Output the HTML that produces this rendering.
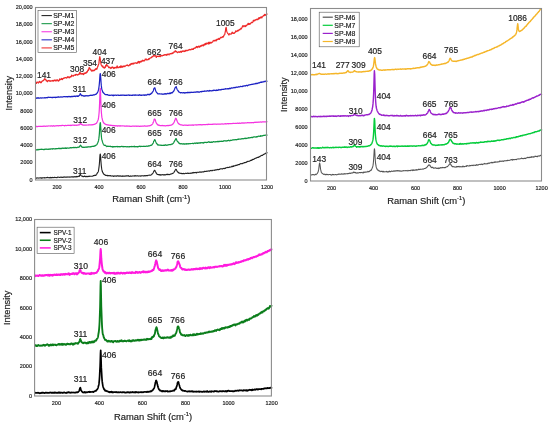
<!DOCTYPE html>
<html lang="en"><head><meta charset="utf-8"><title>Raman spectra</title>
<style>html,body{margin:0;padding:0;background:#fff;}body{width:550px;height:423px;overflow:hidden;}svg{display:block;filter:blur(0.32px);}text{font-family:"Liberation Sans", Arial, sans-serif;fill:#222;stroke:#222;stroke-width:0.18px;}</style>
</head><body>
<svg width="550" height="423" viewBox="0 0 550 423">
<rect width="550" height="423" fill="#ffffff"/>
<g id="plot1">
<clipPath id="clip0"><rect x="36.0" y="7.5" width="232.2" height="172.5"/></clipPath>
<g clip-path="url(#clip0)" fill="none" stroke-linejoin="round" stroke-linecap="round">
<path d="M36.0,178.1 L36.2,178.2 L36.4,178.3 L36.6,178.3 L36.8,177.9 L37.0,177.8 L37.3,178.0 L37.5,178.0 L37.7,178.0 L37.9,178.0 L38.1,178.0 L38.3,178.0 L38.5,178.1 L38.7,178.1 L38.9,178.0 L39.1,177.9 L39.4,178.0 L39.6,178.0 L39.8,178.0 L40.0,178.0 L40.2,177.9 L40.4,177.9 L40.6,177.9 L40.8,177.9 L41.0,178.0 L41.2,177.8 L41.5,177.7 L41.7,178.1 L41.9,178.3 L42.1,178.1 L42.3,177.9 L42.5,177.7 L42.7,177.7 L42.9,177.7 L43.1,177.8 L43.4,177.8 L43.6,177.8 L43.8,177.8 L44.0,177.9 L44.2,177.9 L44.4,177.7 L44.6,177.6 L44.8,177.8 L45.0,178.0 L45.2,177.9 L45.5,177.7 L45.7,177.7 L45.9,177.7 L46.1,177.8 L46.3,177.7 L46.5,177.6 L46.7,177.8 L46.9,177.7 L47.1,177.6 L47.3,177.6 L47.5,177.4 L47.8,177.3 L48.0,177.5 L48.2,177.7 L48.4,177.8 L48.6,177.7 L48.8,177.7 L49.0,177.7 L49.2,177.6 L49.4,177.6 L49.6,177.8 L49.9,178.0 L50.1,177.9 L50.3,177.6 L50.5,177.4 L50.7,177.4 L50.9,177.5 L51.1,177.7 L51.3,177.6 L51.5,177.6 L51.8,177.8 L52.0,177.6 L52.2,177.4 L52.4,177.4 L52.6,177.5 L52.8,177.6 L53.0,177.6 L53.2,177.5 L53.4,177.5 L53.6,177.6 L53.8,177.6 L54.1,177.6 L54.3,177.4 L54.5,177.4 L54.7,177.4 L54.9,177.4 L55.1,177.4 L55.3,177.5 L55.5,177.6 L55.7,177.5 L56.0,177.5 L56.2,177.5 L56.4,177.6 L56.6,177.6 L56.8,177.6 L57.0,177.7 L57.2,177.5 L57.4,177.3 L57.6,177.2 L57.8,177.1 L58.0,177.0 L58.3,177.2 L58.5,177.3 L58.7,177.2 L58.9,177.3 L59.1,177.3 L59.3,177.4 L59.5,177.5 L59.7,177.5 L59.9,177.3 L60.1,177.3 L60.4,177.3 L60.6,177.1 L60.8,177.1 L61.0,177.3 L61.2,177.4 L61.4,177.3 L61.6,177.2 L61.8,177.1 L62.0,177.1 L62.2,177.3 L62.5,177.4 L62.7,177.4 L62.9,177.4 L63.1,177.4 L63.3,177.2 L63.5,177.0 L63.7,177.0 L63.9,177.2 L64.1,177.2 L64.3,177.1 L64.6,176.9 L64.8,177.0 L65.0,177.1 L65.2,177.3 L65.4,177.3 L65.6,177.2 L65.8,177.1 L66.0,177.2 L66.2,177.2 L66.4,177.2 L66.7,177.1 L66.9,176.9 L67.1,176.9 L67.3,177.0 L67.5,177.1 L67.7,177.1 L67.9,177.2 L68.1,177.2 L68.3,177.1 L68.5,177.0 L68.8,177.0 L69.0,176.9 L69.2,176.9 L69.4,177.1 L69.6,177.2 L69.8,177.2 L70.0,177.2 L70.2,177.2 L70.4,177.0 L70.7,177.0 L70.9,176.9 L71.1,176.8 L71.3,176.8 L71.5,176.9 L71.7,177.0 L71.9,176.9 L72.1,176.9 L72.3,176.9 L72.5,176.8 L72.8,176.9 L73.0,177.1 L73.2,177.1 L73.4,176.9 L73.6,176.7 L73.8,176.7 L74.0,177.0 L74.2,177.0 L74.4,176.9 L74.6,176.7 L74.8,176.6 L75.1,176.6 L75.3,176.7 L75.5,176.8 L75.7,177.0 L75.9,176.8 L76.1,176.6 L76.3,176.7 L76.5,176.8 L76.7,176.5 L77.0,176.4 L77.2,176.6 L77.4,176.7 L77.6,176.6 L77.8,176.7 L78.0,176.6 L78.2,176.5 L78.4,176.4 L78.6,176.3 L78.8,176.1 L79.1,176.1 L79.3,176.3 L79.5,176.1 L79.7,175.5 L79.9,174.9 L80.1,174.5 L80.3,174.4 L80.5,174.6 L80.7,174.9 L80.9,175.3 L81.2,175.7 L81.4,175.9 L81.6,175.9 L81.8,176.0 L82.0,176.2 L82.2,176.1 L82.4,176.2 L82.6,176.5 L82.8,176.6 L83.0,176.4 L83.2,176.4 L83.5,176.6 L83.7,176.6 L83.9,176.5 L84.1,176.5 L84.3,176.4 L84.5,176.0 L84.7,176.0 L84.9,176.2 L85.1,176.4 L85.3,176.5 L85.6,176.7 L85.8,176.6 L86.0,176.6 L86.2,176.7 L86.4,176.7 L86.6,176.4 L86.8,176.3 L87.0,176.3 L87.2,176.3 L87.4,176.5 L87.7,176.7 L87.9,176.7 L88.1,176.4 L88.3,176.3 L88.5,176.2 L88.7,176.3 L88.9,176.4 L89.1,176.5 L89.3,176.5 L89.5,176.3 L89.8,176.0 L90.0,176.0 L90.2,176.3 L90.4,176.3 L90.6,176.3 L90.8,176.3 L91.0,176.2 L91.2,176.3 L91.4,176.3 L91.7,176.2 L91.9,176.2 L92.1,176.3 L92.3,176.3 L92.5,176.2 L92.7,176.1 L92.9,176.0 L93.1,175.8 L93.3,175.6 L93.5,175.6 L93.8,175.6 L94.0,175.6 L94.2,175.6 L94.4,175.4 L94.6,175.4 L94.8,175.5 L95.0,175.3 L95.2,175.2 L95.4,175.5 L95.6,175.3 L95.8,175.1 L96.1,175.1 L96.3,174.9 L96.5,174.6 L96.7,174.2 L96.9,173.7 L97.1,173.4 L97.3,173.2 L97.5,172.9 L97.7,172.5 L98.0,172.1 L98.2,171.7 L98.4,171.1 L98.6,170.0 L98.8,168.6 L99.0,167.1 L99.2,165.5 L99.4,163.5 L99.6,160.9 L99.8,157.6 L100.0,154.9 L100.3,154.0 L100.5,155.2 L100.7,157.9 L100.9,160.7 L101.1,163.4 L101.3,165.6 L101.5,167.3 L101.7,168.7 L101.9,169.9 L102.2,171.0 L102.4,171.8 L102.6,172.3 L102.8,172.4 L103.0,172.7 L103.2,173.4 L103.4,173.7 L103.6,173.9 L103.8,174.2 L104.0,174.4 L104.2,174.5 L104.5,174.6 L104.7,174.8 L104.9,174.9 L105.1,174.9 L105.3,175.2 L105.5,175.4 L105.7,175.4 L105.9,175.2 L106.1,175.3 L106.4,175.5 L106.6,175.6 L106.8,175.5 L107.0,175.5 L107.2,175.4 L107.4,175.4 L107.6,175.6 L107.8,175.9 L108.0,175.9 L108.2,175.7 L108.5,175.6 L108.7,175.6 L108.9,175.6 L109.1,175.5 L109.3,175.6 L109.5,175.8 L109.7,175.8 L109.9,175.8 L110.1,175.9 L110.3,175.7 L110.6,175.6 L110.8,175.7 L111.0,175.9 L111.2,176.0 L111.4,176.1 L111.6,176.0 L111.8,176.0 L112.0,176.0 L112.2,176.0 L112.4,175.9 L112.7,175.9 L112.9,176.0 L113.1,176.1 L113.3,176.3 L113.5,176.4 L113.7,176.1 L113.9,176.0 L114.1,176.1 L114.3,176.2 L114.5,176.1 L114.8,175.9 L115.0,175.9 L115.2,175.9 L115.4,176.0 L115.6,176.1 L115.8,176.1 L116.0,176.0 L116.2,176.0 L116.4,176.2 L116.6,176.2 L116.8,175.9 L117.1,175.7 L117.3,175.9 L117.5,176.0 L117.7,176.0 L117.9,175.9 L118.1,175.8 L118.3,175.8 L118.5,175.9 L118.7,176.2 L118.9,176.2 L119.2,176.3 L119.4,176.2 L119.6,175.9 L119.8,175.9 L120.0,176.0 L120.2,175.9 L120.4,175.9 L120.6,176.1 L120.8,176.0 L121.0,176.1 L121.3,176.2 L121.5,176.3 L121.7,176.1 L121.9,176.1 L122.1,176.3 L122.3,176.1 L122.5,175.9 L122.7,176.0 L122.9,176.1 L123.1,176.1 L123.4,176.2 L123.6,176.0 L123.8,176.0 L124.0,176.1 L124.2,176.1 L124.4,176.0 L124.6,176.1 L124.8,176.2 L125.0,176.3 L125.2,176.2 L125.5,176.0 L125.7,176.0 L125.9,175.9 L126.1,175.7 L126.3,175.9 L126.5,176.0 L126.7,176.1 L126.9,176.0 L127.1,175.9 L127.3,175.9 L127.6,175.8 L127.8,175.8 L128.0,176.0 L128.2,176.0 L128.4,175.9 L128.6,175.7 L128.8,175.9 L129.0,176.3 L129.2,176.4 L129.4,176.3 L129.7,176.2 L129.9,176.2 L130.1,176.3 L130.3,176.2 L130.5,176.0 L130.7,175.9 L130.9,176.1 L131.1,176.2 L131.3,176.2 L131.6,176.3 L131.8,176.3 L132.0,176.1 L132.2,176.0 L132.4,176.0 L132.6,176.0 L132.8,175.9 L133.0,175.9 L133.2,176.0 L133.4,176.0 L133.7,176.0 L133.9,175.9 L134.1,175.9 L134.3,176.1 L134.5,176.0 L134.7,175.8 L134.9,175.7 L135.1,175.6 L135.3,175.8 L135.5,175.9 L135.8,175.9 L136.0,175.9 L136.2,175.9 L136.4,176.0 L136.6,176.0 L136.8,175.9 L137.0,175.9 L137.2,175.8 L137.4,175.7 L137.6,175.7 L137.9,175.9 L138.1,176.0 L138.3,176.1 L138.5,176.1 L138.7,176.0 L138.9,175.9 L139.1,176.0 L139.3,176.0 L139.5,175.9 L139.7,176.0 L139.9,176.0 L140.2,175.9 L140.4,176.0 L140.6,176.2 L140.8,176.1 L141.0,175.9 L141.2,175.9 L141.4,176.0 L141.6,175.9 L141.8,175.7 L142.1,175.8 L142.3,175.7 L142.5,175.7 L142.7,175.8 L142.9,175.8 L143.1,175.9 L143.3,176.0 L143.5,175.9 L143.7,175.8 L143.9,175.8 L144.2,175.9 L144.4,175.8 L144.6,175.5 L144.8,175.5 L145.0,175.7 L145.2,175.9 L145.4,175.9 L145.6,175.7 L145.8,175.7 L146.0,175.7 L146.2,175.5 L146.5,175.5 L146.7,175.7 L146.9,175.7 L147.1,175.7 L147.3,175.6 L147.5,175.6 L147.7,175.6 L147.9,175.4 L148.1,175.3 L148.4,175.2 L148.6,175.2 L148.8,175.3 L149.0,175.3 L149.2,175.2 L149.4,175.1 L149.6,175.2 L149.8,175.3 L150.0,175.2 L150.2,175.2 L150.4,175.3 L150.7,175.2 L150.9,175.0 L151.1,174.9 L151.3,174.8 L151.5,174.6 L151.7,174.3 L151.9,174.0 L152.1,174.0 L152.3,174.0 L152.6,173.7 L152.8,173.3 L153.0,173.0 L153.2,172.6 L153.4,172.2 L153.6,171.7 L153.8,171.3 L154.0,171.0 L154.2,170.6 L154.4,170.2 L154.7,170.2 L154.9,170.6 L155.1,171.1 L155.3,171.4 L155.5,171.8 L155.7,172.1 L155.9,172.6 L156.1,173.0 L156.3,173.1 L156.5,173.4 L156.8,173.8 L157.0,174.1 L157.2,174.4 L157.4,174.5 L157.6,174.5 L157.8,174.5 L158.0,174.6 L158.2,174.6 L158.4,174.6 L158.6,174.6 L158.9,174.7 L159.1,174.9 L159.3,174.9 L159.5,174.6 L159.7,174.6 L159.9,174.7 L160.1,174.9 L160.3,175.1 L160.5,175.1 L160.7,174.9 L160.9,174.7 L161.2,174.9 L161.4,174.9 L161.6,174.8 L161.8,174.9 L162.0,174.8 L162.2,174.7 L162.4,174.8 L162.6,174.6 L162.8,174.6 L163.1,174.8 L163.3,174.9 L163.5,174.9 L163.7,175.0 L163.9,174.9 L164.1,174.6 L164.3,174.7 L164.5,175.0 L164.7,174.9 L164.9,174.7 L165.2,174.7 L165.4,174.9 L165.6,174.8 L165.8,174.6 L166.0,174.6 L166.2,174.7 L166.4,174.7 L166.6,174.5 L166.8,174.4 L167.0,174.2 L167.2,174.1 L167.5,174.5 L167.7,174.7 L167.9,174.5 L168.1,174.5 L168.3,174.6 L168.5,174.5 L168.7,174.3 L168.9,174.4 L169.1,174.6 L169.3,174.6 L169.6,174.5 L169.8,174.4 L170.0,174.4 L170.2,174.3 L170.4,174.2 L170.6,174.1 L170.8,174.0 L171.0,173.9 L171.2,174.0 L171.4,174.0 L171.7,173.8 L171.9,173.7 L172.1,173.7 L172.3,173.6 L172.5,173.5 L172.7,173.3 L172.9,173.2 L173.1,173.2 L173.3,173.1 L173.6,172.8 L173.8,172.6 L174.0,172.3 L174.2,171.9 L174.4,171.7 L174.6,171.4 L174.8,170.9 L175.0,170.3 L175.2,170.0 L175.4,169.9 L175.6,169.6 L175.9,169.2 L176.1,169.2 L176.3,169.5 L176.5,170.0 L176.7,170.5 L176.9,170.8 L177.1,171.1 L177.3,171.7 L177.5,171.9 L177.8,171.9 L178.0,172.1 L178.2,172.5 L178.4,172.5 L178.6,172.6 L178.8,172.9 L179.0,173.2 L179.2,173.2 L179.4,173.1 L179.6,173.1 L179.8,173.2 L180.1,173.3 L180.3,173.2 L180.5,173.3 L180.7,173.4 L180.9,173.3 L181.1,173.3 L181.3,173.4 L181.5,173.4 L181.7,173.6 L182.0,173.7 L182.2,173.7 L182.4,173.6 L182.6,173.6 L182.8,173.6 L183.0,173.5 L183.2,173.3 L183.4,173.4 L183.6,173.7 L183.8,173.7 L184.0,173.8 L184.3,173.8 L184.5,173.6 L184.7,173.6 L184.9,173.6 L185.1,173.5 L185.3,173.3 L185.5,173.2 L185.7,173.3 L185.9,173.3 L186.2,173.4 L186.4,173.4 L186.6,173.5 L186.8,173.5 L187.0,173.4 L187.2,173.3 L187.4,173.2 L187.6,173.2 L187.8,173.0 L188.0,173.0 L188.2,173.4 L188.5,173.4 L188.7,173.3 L188.9,173.4 L189.1,173.4 L189.3,173.3 L189.5,173.2 L189.7,173.3 L189.9,173.2 L190.1,173.4 L190.3,173.4 L190.6,173.1 L190.8,173.1 L191.0,173.2 L191.2,173.1 L191.4,173.2 L191.6,173.2 L191.8,173.1 L192.0,173.1 L192.2,173.1 L192.4,172.8 L192.7,172.6 L192.9,172.6 L193.1,172.8 L193.3,172.9 L193.5,172.8 L193.7,172.6 L193.9,172.4 L194.1,172.6 L194.3,172.7 L194.6,172.6 L194.8,172.7 L195.0,172.8 L195.2,172.7 L195.4,172.5 L195.6,172.5 L195.8,172.4 L196.0,172.3 L196.2,172.5 L196.4,172.9 L196.7,172.8 L196.9,172.6 L197.1,172.3 L197.3,172.2 L197.5,172.3 L197.7,172.3 L197.9,172.2 L198.1,172.2 L198.3,172.2 L198.5,172.3 L198.8,172.4 L199.0,172.3 L199.2,172.2 L199.4,172.2 L199.6,172.1 L199.8,171.9 L200.0,171.9 L200.2,171.9 L200.4,172.1 L200.6,172.3 L200.8,172.3 L201.1,172.1 L201.3,172.0 L201.5,172.1 L201.7,172.1 L201.9,171.9 L202.1,171.8 L202.3,172.0 L202.5,172.0 L202.7,171.9 L203.0,172.0 L203.2,171.9 L203.4,171.8 L203.6,171.9 L203.8,171.9 L204.0,171.8 L204.2,171.6 L204.4,171.4 L204.6,171.3 L204.8,171.4 L205.1,171.5 L205.3,171.5 L205.5,171.4 L205.7,171.4 L205.9,171.5 L206.1,171.4 L206.3,171.4 L206.5,171.3 L206.7,171.2 L206.9,171.1 L207.2,171.2 L207.4,171.2 L207.6,171.2 L207.8,171.1 L208.0,171.1 L208.2,171.0 L208.4,170.9 L208.6,170.9 L208.8,171.0 L209.0,171.1 L209.2,171.1 L209.5,171.1 L209.7,171.0 L209.9,170.8 L210.1,170.5 L210.3,170.4 L210.5,170.5 L210.7,170.6 L210.9,170.6 L211.1,170.8 L211.3,170.7 L211.6,170.5 L211.8,170.3 L212.0,170.5 L212.2,170.7 L212.4,170.7 L212.6,170.4 L212.8,170.2 L213.0,170.2 L213.2,170.2 L213.4,170.2 L213.7,170.2 L213.9,170.3 L214.1,170.3 L214.3,170.4 L214.5,170.2 L214.7,170.0 L214.9,170.0 L215.1,170.2 L215.3,170.1 L215.5,169.9 L215.8,169.8 L216.0,169.8 L216.2,169.9 L216.4,169.9 L216.6,169.8 L216.8,169.8 L217.0,169.7 L217.2,169.6 L217.4,169.4 L217.7,169.6 L217.9,169.7 L218.1,169.5 L218.3,169.5 L218.5,169.6 L218.7,169.6 L218.9,169.4 L219.1,169.3 L219.3,169.4 L219.5,169.5 L219.8,169.3 L220.0,169.0 L220.2,168.9 L220.4,169.0 L220.6,168.7 L220.8,168.7 L221.0,168.8 L221.2,168.7 L221.4,168.7 L221.6,168.8 L221.8,168.9 L222.1,168.9 L222.3,169.0 L222.5,169.0 L222.7,168.8 L222.9,168.7 L223.1,168.5 L223.3,168.4 L223.5,168.4 L223.7,168.5 L223.9,168.5 L224.2,168.6 L224.4,168.4 L224.6,168.3 L224.8,168.3 L225.0,168.5 L225.2,168.5 L225.4,168.3 L225.6,168.0 L225.8,167.8 L226.1,167.7 L226.3,167.7 L226.5,167.7 L226.7,167.7 L226.9,167.7 L227.1,167.6 L227.3,167.4 L227.5,167.3 L227.7,167.5 L227.9,167.6 L228.2,167.5 L228.4,167.5 L228.6,167.5 L228.8,167.5 L229.0,167.4 L229.2,167.1 L229.4,167.1 L229.6,167.2 L229.8,167.2 L230.0,167.1 L230.2,167.0 L230.5,167.0 L230.7,167.1 L230.9,167.0 L231.1,166.9 L231.3,166.8 L231.5,166.8 L231.7,166.7 L231.9,166.4 L232.1,166.1 L232.3,166.4 L232.6,166.7 L232.8,166.6 L233.0,166.3 L233.2,166.1 L233.4,165.9 L233.6,166.1 L233.8,166.3 L234.0,166.1 L234.2,165.9 L234.5,165.7 L234.7,165.7 L234.9,165.7 L235.1,165.7 L235.3,165.8 L235.5,165.6 L235.7,165.3 L235.9,165.2 L236.1,165.4 L236.3,165.5 L236.5,165.3 L236.8,165.1 L237.0,165.0 L237.2,165.1 L237.4,165.1 L237.6,164.8 L237.8,164.7 L238.0,164.8 L238.2,164.8 L238.4,164.6 L238.7,164.5 L238.9,164.6 L239.1,164.7 L239.3,164.7 L239.5,164.5 L239.7,164.2 L239.9,164.0 L240.1,164.0 L240.3,163.9 L240.5,163.7 L240.8,163.6 L241.0,163.7 L241.2,163.7 L241.4,163.7 L241.6,163.7 L241.8,163.6 L242.0,163.5 L242.2,163.6 L242.4,163.7 L242.6,163.5 L242.9,163.4 L243.1,163.1 L243.3,163.0 L243.5,163.0 L243.7,163.0 L243.9,163.0 L244.1,162.9 L244.3,162.7 L244.5,162.5 L244.7,162.6 L244.9,162.7 L245.2,162.6 L245.4,162.4 L245.6,162.5 L245.8,162.5 L246.0,162.4 L246.2,162.5 L246.4,162.2 L246.6,161.9 L246.8,161.9 L247.1,161.9 L247.3,161.7 L247.5,161.4 L247.7,161.4 L247.9,161.5 L248.1,161.5 L248.3,161.4 L248.5,161.3 L248.7,161.2 L248.9,161.2 L249.2,161.2 L249.4,161.2 L249.6,161.1 L249.8,161.1 L250.0,161.0 L250.2,160.7 L250.4,160.5 L250.6,160.4 L250.8,160.4 L251.0,160.3 L251.2,160.1 L251.5,160.2 L251.7,160.4 L251.9,160.3 L252.1,159.8 L252.3,159.6 L252.5,159.7 L252.7,159.6 L252.9,159.3 L253.1,159.2 L253.3,159.3 L253.6,159.4 L253.8,159.4 L254.0,159.2 L254.2,159.1 L254.4,158.9 L254.6,158.7 L254.8,158.5 L255.0,158.4 L255.2,158.4 L255.4,158.3 L255.7,158.2 L255.9,158.2 L256.1,158.1 L256.3,157.9 L256.5,157.8 L256.7,157.9 L256.9,157.8 L257.1,157.5 L257.3,157.3 L257.6,157.3 L257.8,157.5 L258.0,157.5 L258.2,157.5 L258.4,157.4 L258.6,157.1 L258.8,156.9 L259.0,157.0 L259.2,156.9 L259.4,156.7 L259.6,156.6 L259.9,156.6 L260.1,156.3 L260.3,156.1 L260.5,156.0 L260.7,155.9 L260.9,155.8 L261.1,155.7 L261.3,155.7 L261.5,155.5 L261.8,155.4 L262.0,155.3 L262.2,155.3 L262.4,155.4 L262.6,155.3 L262.8,155.1 L263.0,154.9 L263.2,154.7 L263.4,154.5 L263.6,154.4 L263.9,154.3 L264.1,154.2 L264.3,154.2 L264.5,154.1 L264.7,153.9 L264.9,153.7 L265.1,153.8 L265.3,153.7 L265.5,153.4 L265.7,153.2 L266.0,153.1 L266.2,153.1 L266.4,153.2 L266.6,153.2 L266.8,153.0 L267.0,152.7" stroke="#222222" stroke-width="1.12"/>
<path d="M36.0,149.6 L36.2,149.9 L36.4,149.8 L36.6,149.8 L36.8,149.8 L37.0,149.8 L37.3,149.9 L37.5,149.9 L37.7,149.6 L37.9,149.3 L38.1,149.4 L38.3,149.7 L38.5,149.7 L38.7,149.8 L38.9,149.8 L39.1,149.7 L39.4,149.5 L39.6,149.5 L39.8,149.4 L40.0,149.5 L40.2,149.4 L40.4,149.3 L40.6,149.4 L40.8,149.5 L41.0,149.5 L41.2,149.3 L41.5,149.2 L41.7,149.4 L41.9,149.4 L42.1,149.4 L42.3,149.5 L42.5,149.4 L42.7,149.3 L42.9,149.3 L43.1,149.3 L43.4,149.5 L43.6,149.6 L43.8,149.5 L44.0,149.5 L44.2,149.6 L44.4,149.3 L44.6,149.2 L44.8,149.4 L45.0,149.4 L45.2,149.3 L45.5,149.2 L45.7,149.0 L45.9,149.0 L46.1,149.1 L46.3,149.1 L46.5,149.2 L46.7,149.3 L46.9,149.1 L47.1,149.1 L47.3,149.2 L47.5,149.3 L47.8,149.3 L48.0,149.4 L48.2,149.2 L48.4,149.1 L48.6,149.3 L48.8,149.2 L49.0,149.2 L49.2,149.2 L49.4,149.3 L49.6,149.2 L49.9,148.9 L50.1,149.0 L50.3,149.2 L50.5,149.2 L50.7,149.0 L50.9,148.9 L51.1,148.9 L51.3,149.0 L51.5,149.0 L51.8,149.0 L52.0,148.8 L52.2,148.9 L52.4,149.1 L52.6,149.0 L52.8,148.7 L53.0,148.6 L53.2,148.7 L53.4,148.6 L53.6,148.8 L53.8,148.9 L54.1,149.0 L54.3,148.9 L54.5,148.8 L54.7,148.9 L54.9,149.0 L55.1,148.8 L55.3,148.7 L55.5,148.7 L55.7,149.0 L56.0,149.0 L56.2,148.7 L56.4,148.5 L56.6,148.5 L56.8,148.6 L57.0,148.7 L57.2,148.7 L57.4,148.6 L57.6,148.6 L57.8,148.7 L58.0,148.7 L58.3,148.6 L58.5,148.5 L58.7,148.4 L58.9,148.1 L59.1,148.1 L59.3,148.4 L59.5,148.7 L59.7,148.7 L59.9,148.6 L60.1,148.6 L60.4,148.7 L60.6,148.4 L60.8,148.3 L61.0,148.6 L61.2,148.7 L61.4,148.6 L61.6,148.4 L61.8,148.2 L62.0,148.1 L62.2,148.2 L62.5,148.3 L62.7,148.2 L62.9,148.1 L63.1,148.0 L63.3,148.2 L63.5,148.4 L63.7,148.4 L63.9,148.3 L64.1,148.1 L64.3,148.1 L64.6,148.3 L64.8,148.3 L65.0,148.2 L65.2,148.3 L65.4,148.3 L65.6,148.0 L65.8,147.8 L66.0,148.1 L66.2,148.3 L66.4,148.4 L66.7,148.3 L66.9,148.1 L67.1,147.9 L67.3,148.0 L67.5,148.0 L67.7,148.0 L67.9,148.1 L68.1,148.2 L68.3,148.1 L68.5,148.0 L68.8,148.1 L69.0,148.1 L69.2,148.1 L69.4,148.0 L69.6,147.9 L69.8,147.9 L70.0,147.9 L70.2,147.7 L70.4,147.6 L70.7,147.7 L70.9,147.9 L71.1,147.9 L71.3,147.8 L71.5,147.8 L71.7,147.6 L71.9,147.5 L72.1,147.6 L72.3,147.6 L72.5,147.6 L72.8,147.7 L73.0,147.7 L73.2,147.6 L73.4,147.6 L73.6,147.4 L73.8,147.3 L74.0,147.3 L74.2,147.5 L74.4,147.7 L74.6,147.6 L74.8,147.5 L75.1,147.6 L75.3,147.6 L75.5,147.4 L75.7,147.4 L75.9,147.5 L76.1,147.5 L76.3,147.6 L76.5,147.7 L76.7,147.7 L77.0,147.6 L77.2,147.4 L77.4,147.3 L77.6,147.3 L77.8,147.2 L78.0,147.1 L78.2,147.1 L78.4,147.2 L78.6,147.3 L78.8,147.3 L79.1,147.1 L79.3,147.0 L79.5,146.7 L79.7,146.4 L79.9,146.0 L80.1,145.7 L80.3,145.4 L80.5,145.2 L80.7,145.4 L80.9,145.7 L81.2,146.1 L81.4,146.4 L81.6,146.7 L81.8,146.9 L82.0,147.1 L82.2,147.3 L82.4,147.3 L82.6,147.2 L82.8,147.0 L83.0,147.0 L83.2,147.3 L83.5,147.3 L83.7,147.2 L83.9,147.3 L84.1,147.2 L84.3,147.3 L84.5,147.4 L84.7,147.3 L84.9,147.2 L85.1,147.2 L85.3,147.2 L85.6,147.1 L85.8,147.1 L86.0,147.3 L86.2,147.3 L86.4,147.2 L86.6,147.1 L86.8,146.9 L87.0,147.0 L87.2,147.2 L87.4,147.2 L87.7,147.0 L87.9,146.8 L88.1,146.9 L88.3,147.0 L88.5,146.9 L88.7,146.8 L88.9,146.7 L89.1,146.8 L89.3,146.9 L89.5,146.8 L89.8,146.9 L90.0,146.9 L90.2,146.7 L90.4,146.7 L90.6,146.9 L90.8,147.0 L91.0,146.9 L91.2,146.7 L91.4,146.5 L91.7,146.5 L91.9,146.4 L92.1,146.5 L92.3,146.5 L92.5,146.4 L92.7,146.4 L92.9,146.4 L93.1,146.3 L93.3,146.2 L93.5,146.3 L93.8,146.3 L94.0,146.1 L94.2,145.9 L94.4,146.0 L94.6,146.1 L94.8,145.9 L95.0,145.9 L95.2,145.9 L95.4,145.7 L95.6,145.4 L95.8,145.4 L96.1,145.1 L96.3,145.0 L96.5,144.9 L96.7,144.8 L96.9,144.6 L97.1,144.2 L97.3,143.6 L97.5,143.3 L97.7,142.7 L98.0,142.2 L98.2,141.6 L98.4,141.0 L98.6,140.2 L98.8,138.9 L99.0,137.3 L99.2,135.6 L99.4,133.2 L99.6,130.1 L99.8,126.9 L100.0,124.1 L100.3,122.7 L100.5,123.7 L100.7,126.7 L100.9,129.9 L101.1,132.7 L101.3,135.3 L101.5,137.4 L101.7,138.9 L101.9,139.9 L102.2,140.7 L102.4,141.5 L102.6,142.2 L102.8,142.8 L103.0,143.3 L103.2,143.7 L103.4,144.2 L103.6,144.6 L103.8,144.9 L104.0,145.0 L104.2,145.2 L104.5,145.3 L104.7,145.3 L104.9,145.2 L105.1,145.1 L105.3,145.4 L105.5,145.7 L105.7,145.7 L105.9,145.8 L106.1,145.9 L106.4,146.0 L106.6,146.3 L106.8,146.5 L107.0,146.3 L107.2,146.1 L107.4,146.1 L107.6,146.3 L107.8,146.4 L108.0,146.3 L108.2,146.4 L108.5,146.3 L108.7,146.2 L108.9,146.3 L109.1,146.4 L109.3,146.4 L109.5,146.4 L109.7,146.5 L109.9,146.4 L110.1,146.3 L110.3,146.2 L110.6,146.5 L110.8,146.6 L111.0,146.6 L111.2,146.6 L111.4,146.6 L111.6,146.5 L111.8,146.5 L112.0,146.6 L112.2,146.8 L112.4,147.0 L112.7,146.8 L112.9,146.5 L113.1,146.7 L113.3,146.8 L113.5,146.8 L113.7,146.6 L113.9,146.7 L114.1,146.8 L114.3,146.6 L114.5,146.5 L114.8,146.6 L115.0,146.6 L115.2,146.5 L115.4,146.5 L115.6,146.7 L115.8,146.8 L116.0,146.7 L116.2,146.6 L116.4,146.6 L116.6,146.5 L116.8,146.5 L117.1,146.4 L117.3,146.5 L117.5,146.8 L117.7,146.9 L117.9,146.7 L118.1,146.6 L118.3,146.6 L118.5,146.6 L118.7,146.7 L118.9,146.8 L119.2,146.7 L119.4,146.6 L119.6,146.6 L119.8,146.8 L120.0,146.9 L120.2,146.7 L120.4,146.5 L120.6,146.6 L120.8,146.7 L121.0,146.5 L121.3,146.4 L121.5,146.4 L121.7,146.5 L121.9,146.5 L122.1,146.5 L122.3,146.6 L122.5,146.6 L122.7,146.5 L122.9,146.4 L123.1,146.5 L123.4,146.8 L123.6,146.7 L123.8,146.5 L124.0,146.6 L124.2,146.6 L124.4,146.5 L124.6,146.6 L124.8,146.7 L125.0,146.7 L125.2,146.5 L125.5,146.5 L125.7,146.6 L125.9,146.7 L126.1,146.6 L126.3,146.6 L126.5,146.8 L126.7,146.9 L126.9,146.8 L127.1,146.8 L127.3,146.8 L127.6,146.7 L127.8,146.7 L128.0,146.7 L128.2,146.7 L128.4,146.8 L128.6,146.8 L128.8,146.9 L129.0,146.9 L129.2,146.7 L129.4,146.7 L129.7,146.8 L129.9,146.7 L130.1,146.6 L130.3,146.6 L130.5,146.6 L130.7,146.6 L130.9,146.7 L131.1,146.8 L131.3,146.7 L131.6,146.5 L131.8,146.4 L132.0,146.4 L132.2,146.6 L132.4,146.6 L132.6,146.6 L132.8,146.6 L133.0,146.5 L133.2,146.5 L133.4,146.7 L133.7,146.7 L133.9,146.5 L134.1,146.3 L134.3,146.2 L134.5,146.5 L134.7,146.8 L134.9,146.9 L135.1,146.7 L135.3,146.7 L135.5,146.7 L135.8,146.7 L136.0,146.8 L136.2,146.7 L136.4,146.7 L136.6,146.7 L136.8,146.5 L137.0,146.5 L137.2,146.8 L137.4,146.8 L137.6,146.6 L137.9,146.6 L138.1,146.8 L138.3,146.7 L138.5,146.6 L138.7,146.5 L138.9,146.4 L139.1,146.4 L139.3,146.2 L139.5,146.2 L139.7,146.3 L139.9,146.3 L140.2,146.3 L140.4,146.4 L140.6,146.6 L140.8,146.5 L141.0,146.4 L141.2,146.3 L141.4,146.4 L141.6,146.4 L141.8,146.3 L142.1,146.3 L142.3,146.4 L142.5,146.5 L142.7,146.5 L142.9,146.5 L143.1,146.5 L143.3,146.4 L143.5,146.3 L143.7,146.2 L143.9,146.3 L144.2,146.4 L144.4,146.4 L144.6,146.4 L144.8,146.5 L145.0,146.5 L145.2,146.4 L145.4,146.3 L145.6,146.3 L145.8,146.4 L146.0,146.4 L146.2,146.2 L146.5,146.0 L146.7,146.1 L146.9,146.1 L147.1,146.2 L147.3,146.3 L147.5,146.3 L147.7,146.2 L147.9,146.1 L148.1,146.1 L148.4,146.1 L148.6,145.8 L148.8,145.7 L149.0,145.8 L149.2,145.9 L149.4,145.8 L149.6,145.8 L149.8,145.8 L150.0,145.6 L150.2,145.5 L150.4,145.4 L150.7,145.4 L150.9,145.5 L151.1,145.3 L151.3,145.2 L151.5,145.1 L151.7,145.1 L151.9,144.9 L152.1,144.7 L152.3,144.2 L152.6,143.9 L152.8,143.6 L153.0,143.3 L153.2,143.0 L153.4,142.4 L153.6,141.6 L153.8,141.1 L154.0,141.1 L154.2,140.7 L154.4,140.0 L154.7,139.6 L154.9,139.7 L155.1,140.1 L155.3,140.6 L155.5,141.2 L155.7,141.7 L155.9,142.1 L156.1,142.6 L156.3,143.1 L156.5,143.5 L156.8,143.8 L157.0,144.0 L157.2,144.0 L157.4,144.1 L157.6,144.7 L157.8,145.1 L158.0,145.0 L158.2,144.8 L158.4,144.8 L158.6,144.9 L158.9,145.2 L159.1,145.2 L159.3,145.1 L159.5,145.2 L159.7,145.2 L159.9,145.2 L160.1,145.2 L160.3,145.1 L160.5,145.1 L160.7,145.2 L160.9,145.4 L161.2,145.4 L161.4,145.3 L161.6,145.2 L161.8,145.2 L162.0,145.3 L162.2,145.5 L162.4,145.5 L162.6,145.4 L162.8,145.3 L163.1,145.3 L163.3,145.2 L163.5,145.2 L163.7,145.4 L163.9,145.5 L164.1,145.3 L164.3,145.3 L164.5,145.4 L164.7,145.1 L164.9,144.9 L165.2,145.1 L165.4,145.0 L165.6,144.8 L165.8,144.9 L166.0,145.2 L166.2,145.2 L166.4,145.2 L166.6,145.3 L166.8,145.4 L167.0,145.2 L167.2,145.1 L167.5,145.1 L167.7,145.0 L167.9,144.9 L168.1,145.0 L168.3,145.0 L168.5,144.8 L168.7,144.7 L168.9,144.7 L169.1,144.7 L169.3,144.7 L169.6,144.7 L169.8,144.6 L170.0,144.6 L170.2,144.6 L170.4,144.6 L170.6,144.6 L170.8,144.7 L171.0,144.5 L171.2,144.3 L171.4,144.2 L171.7,144.2 L171.9,144.1 L172.1,144.1 L172.3,144.1 L172.5,144.0 L172.7,143.8 L172.9,143.6 L173.1,143.4 L173.3,143.2 L173.6,142.9 L173.8,142.5 L174.0,142.0 L174.2,141.6 L174.4,141.3 L174.6,141.0 L174.8,140.7 L175.0,140.3 L175.2,139.9 L175.4,139.6 L175.6,139.1 L175.9,138.7 L176.1,138.6 L176.3,139.0 L176.5,139.6 L176.7,140.0 L176.9,140.5 L177.1,140.8 L177.3,141.2 L177.5,141.4 L177.8,141.6 L178.0,141.9 L178.2,142.2 L178.4,142.6 L178.6,142.9 L178.8,142.8 L179.0,142.9 L179.2,143.3 L179.4,143.5 L179.6,143.7 L179.8,143.6 L180.1,143.5 L180.3,143.7 L180.5,143.9 L180.7,143.9 L180.9,143.8 L181.1,143.6 L181.3,143.7 L181.5,143.8 L181.7,143.9 L182.0,143.7 L182.2,143.8 L182.4,143.9 L182.6,143.9 L182.8,144.1 L183.0,144.0 L183.2,143.9 L183.4,143.8 L183.6,143.7 L183.8,143.9 L184.0,144.1 L184.3,144.0 L184.5,143.9 L184.7,143.9 L184.9,144.1 L185.1,144.1 L185.3,143.9 L185.5,143.8 L185.7,143.9 L185.9,143.9 L186.2,143.9 L186.4,144.1 L186.6,143.9 L186.8,143.6 L187.0,143.7 L187.2,143.8 L187.4,143.8 L187.6,143.7 L187.8,143.8 L188.0,143.8 L188.2,143.7 L188.5,143.8 L188.7,143.7 L188.9,143.8 L189.1,143.8 L189.3,143.7 L189.5,143.7 L189.7,143.5 L189.9,143.5 L190.1,143.6 L190.3,143.7 L190.6,143.7 L190.8,143.6 L191.0,143.5 L191.2,143.5 L191.4,143.5 L191.6,143.5 L191.8,143.5 L192.0,143.5 L192.2,143.5 L192.4,143.4 L192.7,143.3 L192.9,143.4 L193.1,143.6 L193.3,143.6 L193.5,143.6 L193.7,143.6 L193.9,143.5 L194.1,143.4 L194.3,143.2 L194.6,143.1 L194.8,143.1 L195.0,143.2 L195.2,143.2 L195.4,143.3 L195.6,143.4 L195.8,143.5 L196.0,143.2 L196.2,142.9 L196.4,143.0 L196.7,143.1 L196.9,143.0 L197.1,143.1 L197.3,143.3 L197.5,143.3 L197.7,143.3 L197.9,143.0 L198.1,142.8 L198.3,143.0 L198.5,143.2 L198.8,143.1 L199.0,143.1 L199.2,143.1 L199.4,143.0 L199.6,142.8 L199.8,142.8 L200.0,142.9 L200.2,143.1 L200.4,143.0 L200.6,142.7 L200.8,142.7 L201.1,142.9 L201.3,142.8 L201.5,142.7 L201.7,142.7 L201.9,142.7 L202.1,142.7 L202.3,142.7 L202.5,142.6 L202.7,142.8 L203.0,143.1 L203.2,143.2 L203.4,143.0 L203.6,142.8 L203.8,142.6 L204.0,142.4 L204.2,142.5 L204.4,142.6 L204.6,142.5 L204.8,142.4 L205.1,142.4 L205.3,142.4 L205.5,142.3 L205.7,142.3 L205.9,142.3 L206.1,142.3 L206.3,142.4 L206.5,142.5 L206.7,142.6 L206.9,142.5 L207.2,142.4 L207.4,142.4 L207.6,142.4 L207.8,142.4 L208.0,142.1 L208.2,141.9 L208.4,142.0 L208.6,142.0 L208.8,141.9 L209.0,141.9 L209.2,142.1 L209.5,142.3 L209.7,142.1 L209.9,142.1 L210.1,142.3 L210.3,142.4 L210.5,142.3 L210.7,142.3 L210.9,142.1 L211.1,141.9 L211.3,142.0 L211.6,142.3 L211.8,142.3 L212.0,142.3 L212.2,142.3 L212.4,142.1 L212.6,142.0 L212.8,142.1 L213.0,142.0 L213.2,141.8 L213.4,141.6 L213.7,141.6 L213.9,141.7 L214.1,141.8 L214.3,141.8 L214.5,141.9 L214.7,141.8 L214.9,141.8 L215.1,141.9 L215.3,141.9 L215.5,141.8 L215.8,141.7 L216.0,141.9 L216.2,141.8 L216.4,141.7 L216.6,141.7 L216.8,141.7 L217.0,141.7 L217.2,141.5 L217.4,141.4 L217.7,141.5 L217.9,141.8 L218.1,141.9 L218.3,141.6 L218.5,141.3 L218.7,141.3 L218.9,141.4 L219.1,141.5 L219.3,141.6 L219.5,141.4 L219.8,141.3 L220.0,141.4 L220.2,141.5 L220.4,141.5 L220.6,141.4 L220.8,141.3 L221.0,141.4 L221.2,141.4 L221.4,141.3 L221.6,141.1 L221.8,141.2 L222.1,141.4 L222.3,141.4 L222.5,141.3 L222.7,141.2 L222.9,141.3 L223.1,141.3 L223.3,141.0 L223.5,140.9 L223.7,141.0 L223.9,140.9 L224.2,140.8 L224.4,140.8 L224.6,140.8 L224.8,140.7 L225.0,140.7 L225.2,140.8 L225.4,140.9 L225.6,140.9 L225.8,141.0 L226.1,141.1 L226.3,140.9 L226.5,140.8 L226.7,140.8 L226.9,140.8 L227.1,140.6 L227.3,140.7 L227.5,140.8 L227.7,140.7 L227.9,140.6 L228.2,140.6 L228.4,140.4 L228.6,140.2 L228.8,140.3 L229.0,140.5 L229.2,140.5 L229.4,140.5 L229.6,140.8 L229.8,140.9 L230.0,140.7 L230.2,140.4 L230.5,140.2 L230.7,140.3 L230.9,140.5 L231.1,140.4 L231.3,140.3 L231.5,140.3 L231.7,140.3 L231.9,140.2 L232.1,140.1 L232.3,140.1 L232.6,140.0 L232.8,139.8 L233.0,139.9 L233.2,140.0 L233.4,139.8 L233.6,139.7 L233.8,139.8 L234.0,139.9 L234.2,139.9 L234.5,139.8 L234.7,139.7 L234.9,139.6 L235.1,139.7 L235.3,139.8 L235.5,139.7 L235.7,139.6 L235.9,139.6 L236.1,139.6 L236.3,139.7 L236.5,139.7 L236.8,139.8 L237.0,139.7 L237.2,139.4 L237.4,139.4 L237.6,139.5 L237.8,139.4 L238.0,139.2 L238.2,139.1 L238.4,139.2 L238.7,139.3 L238.9,139.2 L239.1,139.0 L239.3,139.0 L239.5,139.1 L239.7,139.0 L239.9,139.0 L240.1,139.0 L240.3,139.0 L240.5,139.1 L240.8,139.1 L241.0,138.9 L241.2,139.0 L241.4,138.9 L241.6,138.7 L241.8,138.8 L242.0,139.0 L242.2,138.9 L242.4,138.7 L242.6,138.6 L242.9,138.6 L243.1,138.7 L243.3,138.8 L243.5,138.8 L243.7,138.7 L243.9,138.6 L244.1,138.6 L244.3,138.5 L244.5,138.3 L244.7,138.3 L244.9,138.4 L245.2,138.2 L245.4,138.2 L245.6,138.4 L245.8,138.7 L246.0,138.5 L246.2,138.3 L246.4,138.3 L246.6,138.5 L246.8,138.4 L247.1,138.1 L247.3,138.0 L247.5,138.2 L247.7,138.1 L247.9,138.1 L248.1,138.1 L248.3,138.0 L248.5,137.9 L248.7,137.7 L248.9,137.7 L249.2,137.8 L249.4,137.8 L249.6,137.8 L249.8,137.9 L250.0,137.8 L250.2,137.6 L250.4,137.6 L250.6,137.6 L250.8,137.6 L251.0,137.6 L251.2,137.5 L251.5,137.4 L251.7,137.4 L251.9,137.4 L252.1,137.6 L252.3,137.7 L252.5,137.5 L252.7,137.4 L252.9,137.2 L253.1,137.2 L253.3,137.2 L253.6,137.1 L253.8,136.9 L254.0,136.8 L254.2,136.9 L254.4,137.0 L254.6,137.0 L254.8,137.0 L255.0,136.9 L255.2,136.9 L255.4,136.9 L255.7,137.1 L255.9,137.2 L256.1,137.1 L256.3,136.8 L256.5,136.5 L256.7,136.5 L256.9,136.8 L257.1,136.8 L257.3,136.5 L257.6,136.5 L257.8,136.6 L258.0,136.4 L258.2,136.3 L258.4,136.2 L258.6,136.2 L258.8,136.2 L259.0,136.3 L259.2,136.4 L259.4,136.3 L259.6,136.2 L259.9,136.2 L260.1,136.3 L260.3,136.3 L260.5,136.0 L260.7,135.7 L260.9,135.7 L261.1,135.8 L261.3,136.1 L261.5,136.1 L261.8,135.9 L262.0,136.0 L262.2,136.0 L262.4,135.8 L262.6,135.7 L262.8,135.8 L263.0,135.6 L263.2,135.4 L263.4,135.4 L263.6,135.3 L263.9,135.3 L264.1,135.3 L264.3,135.4 L264.5,135.3 L264.7,135.2 L264.9,135.3 L265.1,135.3 L265.3,135.2 L265.5,135.2 L265.7,135.1 L266.0,135.0 L266.2,135.0 L266.4,135.0 L266.6,134.8 L266.8,134.9 L267.0,135.1" stroke="#0f9440" stroke-width="1.22"/>
<path d="M36.0,126.6 L36.2,126.5 L36.4,126.3 L36.6,126.4 L36.8,126.6 L37.0,126.6 L37.3,126.5 L37.5,126.5 L37.7,126.6 L37.9,126.5 L38.1,126.3 L38.3,126.3 L38.5,126.3 L38.7,126.4 L38.9,126.4 L39.1,126.3 L39.4,126.4 L39.6,126.4 L39.8,126.4 L40.0,126.5 L40.2,126.5 L40.4,126.4 L40.6,126.3 L40.8,126.3 L41.0,126.3 L41.2,126.4 L41.5,126.4 L41.7,126.3 L41.9,126.3 L42.1,126.4 L42.3,126.4 L42.5,126.3 L42.7,126.3 L42.9,126.2 L43.1,126.1 L43.4,126.1 L43.6,126.1 L43.8,126.3 L44.0,126.3 L44.2,126.2 L44.4,126.1 L44.6,126.1 L44.8,126.2 L45.0,126.3 L45.2,126.3 L45.5,126.3 L45.7,126.2 L45.9,126.1 L46.1,126.0 L46.3,126.1 L46.5,126.2 L46.7,126.1 L46.9,126.2 L47.1,126.2 L47.3,126.1 L47.5,126.1 L47.8,126.1 L48.0,126.0 L48.2,126.0 L48.4,126.0 L48.6,126.0 L48.8,125.9 L49.0,125.9 L49.2,126.0 L49.4,126.0 L49.6,126.0 L49.9,126.0 L50.1,126.0 L50.3,126.1 L50.5,126.0 L50.7,125.9 L50.9,126.0 L51.1,126.0 L51.3,125.9 L51.5,125.9 L51.8,125.9 L52.0,126.0 L52.2,126.1 L52.4,126.2 L52.6,126.2 L52.8,126.1 L53.0,125.9 L53.2,125.7 L53.4,125.7 L53.6,125.8 L53.8,125.9 L54.1,125.9 L54.3,126.0 L54.5,126.1 L54.7,126.1 L54.9,126.0 L55.1,126.0 L55.3,125.9 L55.5,125.8 L55.7,125.8 L56.0,125.8 L56.2,125.8 L56.4,125.7 L56.6,125.7 L56.8,125.8 L57.0,125.8 L57.2,125.8 L57.4,125.7 L57.6,125.7 L57.8,125.7 L58.0,125.7 L58.3,125.8 L58.5,125.8 L58.7,125.8 L58.9,125.7 L59.1,125.7 L59.3,125.7 L59.5,125.7 L59.7,125.7 L59.9,125.7 L60.1,125.6 L60.4,125.7 L60.6,125.7 L60.8,125.7 L61.0,125.7 L61.2,125.6 L61.4,125.6 L61.6,125.6 L61.8,125.4 L62.0,125.4 L62.2,125.5 L62.5,125.5 L62.7,125.4 L62.9,125.4 L63.1,125.5 L63.3,125.5 L63.5,125.5 L63.7,125.5 L63.9,125.5 L64.1,125.5 L64.3,125.7 L64.6,125.8 L64.8,125.8 L65.0,125.6 L65.2,125.5 L65.4,125.5 L65.6,125.4 L65.8,125.4 L66.0,125.5 L66.2,125.5 L66.4,125.5 L66.7,125.6 L66.9,125.5 L67.1,125.5 L67.3,125.4 L67.5,125.4 L67.7,125.4 L67.9,125.4 L68.1,125.5 L68.3,125.5 L68.5,125.4 L68.8,125.4 L69.0,125.4 L69.2,125.4 L69.4,125.4 L69.6,125.5 L69.8,125.4 L70.0,125.3 L70.2,125.3 L70.4,125.2 L70.7,125.4 L70.9,125.6 L71.1,125.4 L71.3,125.2 L71.5,125.3 L71.7,125.4 L71.9,125.3 L72.1,125.2 L72.3,125.1 L72.5,125.2 L72.8,125.2 L73.0,125.1 L73.2,125.2 L73.4,125.3 L73.6,125.2 L73.8,125.2 L74.0,125.2 L74.2,125.2 L74.4,125.3 L74.6,125.4 L74.8,125.2 L75.1,125.1 L75.3,125.2 L75.5,125.2 L75.7,125.3 L75.9,125.3 L76.1,125.2 L76.3,125.2 L76.5,125.3 L76.7,125.3 L77.0,125.2 L77.2,125.0 L77.4,125.0 L77.6,125.0 L77.8,125.1 L78.0,125.1 L78.2,125.0 L78.4,124.9 L78.6,125.0 L78.8,125.0 L79.1,125.0 L79.3,124.8 L79.5,124.6 L79.7,124.6 L79.9,124.3 L80.1,123.8 L80.3,123.4 L80.5,123.3 L80.7,123.4 L80.9,123.7 L81.2,124.0 L81.4,124.3 L81.6,124.5 L81.8,124.6 L82.0,124.7 L82.2,124.6 L82.4,124.7 L82.6,124.9 L82.8,125.1 L83.0,125.2 L83.2,125.2 L83.5,125.1 L83.7,125.1 L83.9,125.1 L84.1,125.1 L84.3,125.1 L84.5,125.2 L84.7,125.2 L84.9,125.0 L85.1,125.0 L85.3,125.1 L85.6,125.1 L85.8,125.1 L86.0,125.2 L86.2,125.2 L86.4,125.1 L86.6,125.0 L86.8,125.0 L87.0,125.0 L87.2,125.0 L87.4,125.0 L87.7,125.0 L87.9,125.0 L88.1,125.1 L88.3,125.0 L88.5,124.9 L88.7,124.9 L88.9,124.8 L89.1,124.9 L89.3,124.9 L89.5,125.0 L89.8,125.0 L90.0,124.9 L90.2,124.8 L90.4,124.8 L90.6,124.9 L90.8,124.9 L91.0,124.9 L91.2,124.9 L91.4,124.9 L91.7,124.8 L91.9,124.6 L92.1,124.6 L92.3,124.7 L92.5,124.8 L92.7,124.9 L92.9,124.7 L93.1,124.6 L93.3,124.6 L93.5,124.6 L93.8,124.5 L94.0,124.4 L94.2,124.4 L94.4,124.3 L94.6,124.3 L94.8,124.2 L95.0,124.0 L95.2,123.9 L95.4,123.9 L95.6,123.8 L95.8,123.6 L96.1,123.5 L96.3,123.4 L96.5,123.2 L96.7,122.9 L96.9,122.5 L97.1,122.1 L97.3,121.6 L97.5,121.2 L97.7,120.7 L98.0,120.2 L98.2,119.5 L98.4,118.6 L98.6,117.4 L98.8,115.7 L99.0,113.8 L99.2,111.3 L99.4,107.8 L99.6,103.0 L99.8,97.2 L100.0,91.2 L100.3,88.4 L100.5,91.3 L100.7,97.4 L100.9,103.2 L101.1,107.8 L101.3,111.3 L101.5,113.8 L101.7,115.8 L101.9,117.4 L102.2,118.6 L102.4,119.6 L102.6,120.4 L102.8,121.0 L103.0,121.6 L103.2,122.0 L103.4,122.3 L103.6,122.7 L103.8,123.0 L104.0,123.2 L104.2,123.4 L104.5,123.6 L104.7,123.8 L104.9,123.9 L105.1,124.1 L105.3,124.2 L105.5,124.2 L105.7,124.3 L105.9,124.5 L106.1,124.6 L106.4,124.7 L106.6,124.7 L106.8,124.7 L107.0,124.7 L107.2,124.9 L107.4,124.9 L107.6,124.8 L107.8,124.9 L108.0,124.9 L108.2,124.9 L108.5,125.0 L108.7,125.1 L108.9,125.1 L109.1,125.0 L109.3,125.1 L109.5,125.2 L109.7,125.3 L109.9,125.3 L110.1,125.2 L110.3,125.2 L110.6,125.3 L110.8,125.5 L111.0,125.5 L111.2,125.4 L111.4,125.4 L111.6,125.4 L111.8,125.4 L112.0,125.5 L112.2,125.6 L112.4,125.6 L112.7,125.6 L112.9,125.4 L113.1,125.5 L113.3,125.6 L113.5,125.7 L113.7,125.8 L113.9,125.7 L114.1,125.7 L114.3,125.7 L114.5,125.7 L114.8,125.8 L115.0,125.7 L115.2,125.7 L115.4,125.9 L115.6,125.9 L115.8,125.8 L116.0,125.8 L116.2,125.8 L116.4,125.7 L116.6,125.8 L116.8,125.9 L117.1,125.9 L117.3,126.0 L117.5,126.1 L117.7,126.1 L117.9,125.9 L118.1,125.7 L118.3,125.8 L118.5,125.9 L118.7,125.9 L118.9,125.9 L119.2,125.9 L119.4,125.8 L119.6,125.9 L119.8,126.0 L120.0,126.2 L120.2,126.0 L120.4,125.8 L120.6,125.7 L120.8,125.8 L121.0,125.9 L121.3,126.0 L121.5,126.0 L121.7,126.0 L121.9,125.9 L122.1,125.9 L122.3,125.8 L122.5,125.9 L122.7,126.0 L122.9,126.0 L123.1,126.0 L123.4,126.0 L123.6,126.0 L123.8,125.9 L124.0,125.9 L124.2,126.0 L124.4,126.1 L124.6,126.1 L124.8,126.1 L125.0,126.1 L125.2,126.1 L125.5,126.0 L125.7,126.0 L125.9,126.1 L126.1,126.0 L126.3,126.0 L126.5,126.1 L126.7,125.9 L126.9,125.9 L127.1,126.0 L127.3,126.1 L127.6,126.2 L127.8,126.1 L128.0,126.1 L128.2,126.1 L128.4,126.2 L128.6,126.2 L128.8,126.2 L129.0,126.2 L129.2,126.2 L129.4,126.2 L129.7,126.3 L129.9,126.2 L130.1,126.2 L130.3,126.3 L130.5,126.3 L130.7,126.3 L130.9,126.4 L131.1,126.4 L131.3,126.3 L131.6,126.3 L131.8,126.2 L132.0,126.2 L132.2,126.2 L132.4,126.2 L132.6,126.1 L132.8,126.1 L133.0,126.2 L133.2,126.1 L133.4,126.0 L133.7,126.1 L133.9,126.2 L134.1,126.2 L134.3,126.2 L134.5,126.3 L134.7,126.2 L134.9,126.1 L135.1,126.1 L135.3,126.1 L135.5,126.1 L135.8,126.0 L136.0,126.2 L136.2,126.2 L136.4,126.0 L136.6,126.1 L136.8,126.4 L137.0,126.4 L137.2,126.3 L137.4,126.1 L137.6,126.1 L137.9,126.2 L138.1,126.2 L138.3,126.2 L138.5,126.3 L138.7,126.2 L138.9,126.2 L139.1,126.2 L139.3,126.3 L139.5,126.4 L139.7,126.4 L139.9,126.3 L140.2,126.2 L140.4,126.2 L140.6,126.2 L140.8,126.3 L141.0,126.3 L141.2,126.3 L141.4,126.2 L141.6,126.2 L141.8,126.1 L142.1,126.1 L142.3,126.1 L142.5,126.1 L142.7,126.1 L142.9,126.1 L143.1,126.1 L143.3,126.2 L143.5,126.2 L143.7,126.2 L143.9,126.2 L144.2,126.1 L144.4,125.9 L144.6,125.8 L144.8,125.9 L145.0,126.0 L145.2,126.0 L145.4,126.1 L145.6,126.1 L145.8,126.1 L146.0,126.1 L146.2,126.1 L146.5,126.0 L146.7,126.0 L146.9,126.1 L147.1,126.0 L147.3,126.1 L147.5,126.1 L147.7,126.0 L147.9,125.9 L148.1,125.8 L148.4,125.9 L148.6,125.9 L148.8,125.9 L149.0,125.8 L149.2,125.8 L149.4,125.8 L149.6,125.8 L149.8,125.7 L150.0,125.5 L150.2,125.5 L150.4,125.6 L150.7,125.4 L150.9,125.3 L151.1,125.2 L151.3,125.0 L151.5,125.0 L151.7,124.8 L151.9,124.6 L152.1,124.4 L152.3,124.2 L152.6,123.8 L152.8,123.5 L153.0,123.1 L153.2,122.5 L153.4,122.1 L153.6,121.7 L153.8,120.9 L154.0,119.9 L154.2,119.3 L154.4,119.1 L154.7,119.1 L154.9,119.2 L155.1,119.4 L155.3,120.0 L155.5,120.8 L155.7,121.4 L155.9,122.0 L156.1,122.5 L156.3,123.0 L156.5,123.3 L156.8,123.6 L157.0,123.9 L157.2,124.3 L157.4,124.6 L157.6,124.6 L157.8,124.7 L158.0,125.0 L158.2,125.2 L158.4,125.3 L158.6,125.1 L158.9,125.1 L159.1,125.2 L159.3,125.3 L159.5,125.3 L159.7,125.4 L159.9,125.6 L160.1,125.7 L160.3,125.7 L160.5,125.7 L160.7,125.6 L160.9,125.7 L161.2,125.7 L161.4,125.7 L161.6,125.6 L161.8,125.6 L162.0,125.5 L162.2,125.4 L162.4,125.5 L162.6,125.7 L162.8,125.7 L163.1,125.7 L163.3,125.8 L163.5,125.7 L163.7,125.7 L163.9,125.7 L164.1,125.8 L164.3,125.7 L164.5,125.7 L164.7,125.7 L164.9,125.8 L165.2,125.8 L165.4,125.8 L165.6,125.8 L165.8,125.8 L166.0,125.6 L166.2,125.6 L166.4,125.6 L166.6,125.6 L166.8,125.6 L167.0,125.5 L167.2,125.6 L167.5,125.6 L167.7,125.5 L167.9,125.4 L168.1,125.5 L168.3,125.6 L168.5,125.6 L168.7,125.7 L168.9,125.6 L169.1,125.4 L169.3,125.3 L169.6,125.3 L169.8,125.4 L170.0,125.4 L170.2,125.4 L170.4,125.3 L170.6,125.2 L170.8,125.2 L171.0,125.2 L171.2,125.1 L171.4,125.0 L171.7,124.9 L171.9,124.8 L172.1,124.7 L172.3,124.5 L172.5,124.2 L172.7,124.1 L172.9,124.0 L173.1,123.9 L173.3,123.7 L173.6,123.2 L173.8,122.8 L174.0,122.4 L174.2,122.0 L174.4,121.6 L174.6,121.1 L174.8,120.4 L175.0,119.9 L175.2,119.3 L175.4,118.8 L175.6,118.4 L175.9,118.3 L176.1,118.6 L176.3,119.0 L176.5,119.5 L176.7,120.1 L176.9,120.6 L177.1,121.1 L177.3,121.6 L177.5,122.0 L177.8,122.6 L178.0,123.0 L178.2,123.2 L178.4,123.4 L178.6,123.8 L178.8,123.9 L179.0,123.9 L179.2,124.0 L179.4,124.2 L179.6,124.3 L179.8,124.5 L180.1,124.6 L180.3,124.7 L180.5,124.8 L180.7,124.9 L180.9,124.9 L181.1,124.9 L181.3,124.9 L181.5,124.9 L181.7,124.9 L182.0,125.1 L182.2,125.1 L182.4,125.1 L182.6,125.2 L182.8,125.2 L183.0,125.3 L183.2,125.4 L183.4,125.4 L183.6,125.3 L183.8,125.2 L184.0,125.2 L184.3,125.1 L184.5,125.0 L184.7,125.0 L184.9,125.1 L185.1,125.2 L185.3,125.2 L185.5,125.3 L185.7,125.2 L185.9,125.1 L186.2,125.2 L186.4,125.3 L186.6,125.3 L186.8,125.2 L187.0,125.1 L187.2,125.2 L187.4,125.4 L187.6,125.4 L187.8,125.3 L188.0,125.3 L188.2,125.3 L188.5,125.2 L188.7,125.2 L188.9,125.2 L189.1,125.1 L189.3,125.1 L189.5,125.2 L189.7,125.2 L189.9,125.1 L190.1,125.1 L190.3,125.1 L190.6,125.2 L190.8,125.2 L191.0,125.2 L191.2,125.2 L191.4,125.2 L191.6,125.1 L191.8,125.1 L192.0,125.0 L192.2,124.9 L192.4,125.0 L192.7,125.2 L192.9,125.2 L193.1,125.1 L193.3,125.2 L193.5,125.3 L193.7,125.1 L193.9,125.0 L194.1,124.9 L194.3,125.0 L194.6,125.0 L194.8,125.0 L195.0,125.0 L195.2,125.0 L195.4,124.9 L195.6,124.9 L195.8,125.0 L196.0,124.8 L196.2,124.8 L196.4,124.9 L196.7,125.1 L196.9,125.0 L197.1,124.9 L197.3,124.9 L197.5,124.9 L197.7,124.9 L197.9,124.8 L198.1,124.8 L198.3,124.8 L198.5,124.7 L198.8,124.7 L199.0,124.8 L199.2,124.9 L199.4,124.7 L199.6,124.6 L199.8,124.7 L200.0,124.7 L200.2,124.6 L200.4,124.5 L200.6,124.6 L200.8,124.8 L201.1,124.9 L201.3,124.9 L201.5,124.8 L201.7,124.7 L201.9,124.6 L202.1,124.8 L202.3,124.8 L202.5,124.8 L202.7,124.7 L203.0,124.6 L203.2,124.6 L203.4,124.6 L203.6,124.6 L203.8,124.6 L204.0,124.6 L204.2,124.6 L204.4,124.7 L204.6,124.7 L204.8,124.5 L205.1,124.5 L205.3,124.6 L205.5,124.6 L205.7,124.5 L205.9,124.6 L206.1,124.6 L206.3,124.5 L206.5,124.5 L206.7,124.5 L206.9,124.4 L207.2,124.3 L207.4,124.3 L207.6,124.6 L207.8,124.6 L208.0,124.5 L208.2,124.4 L208.4,124.4 L208.6,124.2 L208.8,124.2 L209.0,124.3 L209.2,124.4 L209.5,124.4 L209.7,124.4 L209.9,124.3 L210.1,124.3 L210.3,124.4 L210.5,124.4 L210.7,124.3 L210.9,124.3 L211.1,124.4 L211.3,124.4 L211.6,124.4 L211.8,124.4 L212.0,124.4 L212.2,124.3 L212.4,124.3 L212.6,124.4 L212.8,124.2 L213.0,124.0 L213.2,124.0 L213.4,124.0 L213.7,124.2 L213.9,124.3 L214.1,124.2 L214.3,124.2 L214.5,124.2 L214.7,124.2 L214.9,124.2 L215.1,124.2 L215.3,124.2 L215.5,124.1 L215.8,124.1 L216.0,124.1 L216.2,124.2 L216.4,124.3 L216.6,124.3 L216.8,124.2 L217.0,124.2 L217.2,124.1 L217.4,124.1 L217.7,124.1 L217.9,124.1 L218.1,124.1 L218.3,124.1 L218.5,124.2 L218.7,124.1 L218.9,124.1 L219.1,124.2 L219.3,124.2 L219.5,124.2 L219.8,124.1 L220.0,124.0 L220.2,124.0 L220.4,124.0 L220.6,124.1 L220.8,124.1 L221.0,124.1 L221.2,124.0 L221.4,124.0 L221.6,124.0 L221.8,123.9 L222.1,123.9 L222.3,123.9 L222.5,124.0 L222.7,124.0 L222.9,124.1 L223.1,124.1 L223.3,124.1 L223.5,124.0 L223.7,124.0 L223.9,124.0 L224.2,123.9 L224.4,124.0 L224.6,123.9 L224.8,123.8 L225.0,123.8 L225.2,123.8 L225.4,123.6 L225.6,123.6 L225.8,123.8 L226.1,123.8 L226.3,123.9 L226.5,124.0 L226.7,123.8 L226.9,123.7 L227.1,123.8 L227.3,123.7 L227.5,123.6 L227.7,123.6 L227.9,123.6 L228.2,123.5 L228.4,123.6 L228.6,123.8 L228.8,123.8 L229.0,123.7 L229.2,123.6 L229.4,123.5 L229.6,123.5 L229.8,123.6 L230.0,123.7 L230.2,123.6 L230.5,123.6 L230.7,123.7 L230.9,123.7 L231.1,123.6 L231.3,123.5 L231.5,123.5 L231.7,123.5 L231.9,123.5 L232.1,123.6 L232.3,123.6 L232.6,123.4 L232.8,123.4 L233.0,123.5 L233.2,123.4 L233.4,123.3 L233.6,123.4 L233.8,123.4 L234.0,123.4 L234.2,123.5 L234.5,123.5 L234.7,123.5 L234.9,123.5 L235.1,123.4 L235.3,123.4 L235.5,123.5 L235.7,123.4 L235.9,123.3 L236.1,123.3 L236.3,123.3 L236.5,123.3 L236.8,123.4 L237.0,123.4 L237.2,123.3 L237.4,123.2 L237.6,123.0 L237.8,123.1 L238.0,123.3 L238.2,123.4 L238.4,123.5 L238.7,123.4 L238.9,123.2 L239.1,123.2 L239.3,123.4 L239.5,123.2 L239.7,123.0 L239.9,123.0 L240.1,123.1 L240.3,123.2 L240.5,123.3 L240.8,123.3 L241.0,123.3 L241.2,123.2 L241.4,123.1 L241.6,123.0 L241.8,122.9 L242.0,122.9 L242.2,123.0 L242.4,123.1 L242.6,123.1 L242.9,122.9 L243.1,122.8 L243.3,122.9 L243.5,123.1 L243.7,123.1 L243.9,123.1 L244.1,123.1 L244.3,123.1 L244.5,123.0 L244.7,122.9 L244.9,122.8 L245.2,122.9 L245.4,123.0 L245.6,123.0 L245.8,123.0 L246.0,122.9 L246.2,122.9 L246.4,123.0 L246.6,123.0 L246.8,123.0 L247.1,122.9 L247.3,122.7 L247.5,122.7 L247.7,122.7 L247.9,122.7 L248.1,122.6 L248.3,122.6 L248.5,122.7 L248.7,122.8 L248.9,122.8 L249.2,122.8 L249.4,122.8 L249.6,122.7 L249.8,122.6 L250.0,122.6 L250.2,122.6 L250.4,122.7 L250.6,122.7 L250.8,122.8 L251.0,122.9 L251.2,122.8 L251.5,122.6 L251.7,122.5 L251.9,122.6 L252.1,122.6 L252.3,122.7 L252.5,122.7 L252.7,122.6 L252.9,122.6 L253.1,122.7 L253.3,122.8 L253.6,122.7 L253.8,122.6 L254.0,122.5 L254.2,122.4 L254.4,122.4 L254.6,122.4 L254.8,122.3 L255.0,122.2 L255.2,122.2 L255.4,122.4 L255.7,122.5 L255.9,122.5 L256.1,122.4 L256.3,122.4 L256.5,122.3 L256.7,122.1 L256.9,122.2 L257.1,122.2 L257.3,122.3 L257.6,122.3 L257.8,122.2 L258.0,122.1 L258.2,122.2 L258.4,122.3 L258.6,122.2 L258.8,122.1 L259.0,122.1 L259.2,122.2 L259.4,122.1 L259.6,122.0 L259.9,122.1 L260.1,122.1 L260.3,122.0 L260.5,122.0 L260.7,121.9 L260.9,121.9 L261.1,121.9 L261.3,122.1 L261.5,122.2 L261.8,122.1 L262.0,122.0 L262.2,122.0 L262.4,121.9 L262.6,121.8 L262.8,121.9 L263.0,121.8 L263.2,121.8 L263.4,121.8 L263.6,121.9 L263.9,121.9 L264.1,121.9 L264.3,121.8 L264.5,121.9 L264.7,122.0 L264.9,121.9 L265.1,121.8 L265.3,121.8 L265.5,121.8 L265.7,121.9 L266.0,121.9 L266.2,121.7 L266.4,121.6 L266.6,121.8 L266.8,121.8 L267.0,121.7" stroke="#f533e0" stroke-width="1.22"/>
<path d="M36.0,98.3 L36.2,98.4 L36.4,98.2 L36.6,98.0 L36.8,97.9 L37.0,98.0 L37.3,98.2 L37.5,98.1 L37.7,97.9 L37.9,97.7 L38.1,98.0 L38.3,98.2 L38.5,98.1 L38.7,97.8 L38.9,98.0 L39.1,98.2 L39.4,98.2 L39.6,98.2 L39.8,98.1 L40.0,98.1 L40.2,98.0 L40.4,97.9 L40.6,97.9 L40.8,97.9 L41.0,97.8 L41.2,97.8 L41.5,98.0 L41.7,98.1 L41.9,98.0 L42.1,98.0 L42.3,98.0 L42.5,97.9 L42.7,97.8 L42.9,97.9 L43.1,98.0 L43.4,98.0 L43.6,98.0 L43.8,98.0 L44.0,97.9 L44.2,97.8 L44.4,97.6 L44.6,97.7 L44.8,97.9 L45.0,97.9 L45.2,97.8 L45.5,97.7 L45.7,97.8 L45.9,97.9 L46.1,97.8 L46.3,97.6 L46.5,97.6 L46.7,97.7 L46.9,97.7 L47.1,97.7 L47.3,97.8 L47.5,97.6 L47.8,97.4 L48.0,97.2 L48.2,97.1 L48.4,97.2 L48.6,97.3 L48.8,97.4 L49.0,97.5 L49.2,97.5 L49.4,97.3 L49.6,97.4 L49.9,97.5 L50.1,97.4 L50.3,97.4 L50.5,97.5 L50.7,97.5 L50.9,97.4 L51.1,97.5 L51.3,97.5 L51.5,97.4 L51.8,97.6 L52.0,97.7 L52.2,97.6 L52.4,97.3 L52.6,97.4 L52.8,97.6 L53.0,97.5 L53.2,97.4 L53.4,97.5 L53.6,97.5 L53.8,97.4 L54.1,97.4 L54.3,97.4 L54.5,97.3 L54.7,97.3 L54.9,97.2 L55.1,97.1 L55.3,97.3 L55.5,97.6 L55.7,97.6 L56.0,97.4 L56.2,97.2 L56.4,97.2 L56.6,97.3 L56.8,97.3 L57.0,97.3 L57.2,97.3 L57.4,97.2 L57.6,97.2 L57.8,97.0 L58.0,96.8 L58.3,97.0 L58.5,97.2 L58.7,96.9 L58.9,97.0 L59.1,97.1 L59.3,97.0 L59.5,97.0 L59.7,97.2 L59.9,97.2 L60.1,97.2 L60.4,97.0 L60.6,96.9 L60.8,96.9 L61.0,96.8 L61.2,96.8 L61.4,97.0 L61.6,97.0 L61.8,97.0 L62.0,97.2 L62.2,97.1 L62.5,97.0 L62.7,96.9 L62.9,96.9 L63.1,96.9 L63.3,96.8 L63.5,96.7 L63.7,96.7 L63.9,96.7 L64.1,96.6 L64.3,96.5 L64.6,96.6 L64.8,96.7 L65.0,96.8 L65.2,96.9 L65.4,96.8 L65.6,96.6 L65.8,96.5 L66.0,96.5 L66.2,96.7 L66.4,96.8 L66.7,96.5 L66.9,96.5 L67.1,96.7 L67.3,96.6 L67.5,96.7 L67.7,97.0 L67.9,96.9 L68.1,96.7 L68.3,96.5 L68.5,96.7 L68.8,96.7 L69.0,96.7 L69.2,96.8 L69.4,96.7 L69.6,96.6 L69.8,96.4 L70.0,96.5 L70.2,96.7 L70.4,96.8 L70.7,96.7 L70.9,96.7 L71.1,96.8 L71.3,96.7 L71.5,96.3 L71.7,96.3 L71.9,96.5 L72.1,96.3 L72.3,96.4 L72.5,96.7 L72.8,96.7 L73.0,96.5 L73.2,96.4 L73.4,96.4 L73.6,96.5 L73.8,96.3 L74.0,96.0 L74.2,96.0 L74.4,96.4 L74.6,96.3 L74.8,96.1 L75.1,96.3 L75.3,96.5 L75.5,96.3 L75.7,96.2 L75.9,96.1 L76.1,96.2 L76.3,96.3 L76.5,96.2 L76.7,96.0 L77.0,95.9 L77.2,96.1 L77.4,96.4 L77.6,96.3 L77.8,96.0 L78.0,96.2 L78.2,96.4 L78.4,96.2 L78.6,95.8 L78.8,95.7 L79.1,95.7 L79.3,95.4 L79.5,95.1 L79.7,95.0 L79.9,94.5 L80.1,93.8 L80.3,93.6 L80.5,93.9 L80.7,94.3 L80.9,94.7 L81.2,95.1 L81.4,95.5 L81.6,95.7 L81.8,95.7 L82.0,95.5 L82.2,95.4 L82.4,95.6 L82.6,95.6 L82.8,95.6 L83.0,95.7 L83.2,95.9 L83.5,96.1 L83.7,96.0 L83.9,95.9 L84.1,96.2 L84.3,96.1 L84.5,95.8 L84.7,95.9 L84.9,96.1 L85.1,96.0 L85.3,95.9 L85.6,95.7 L85.8,95.7 L86.0,95.9 L86.2,95.9 L86.4,95.8 L86.6,95.6 L86.8,95.6 L87.0,95.7 L87.2,95.8 L87.4,96.0 L87.7,95.9 L87.9,95.7 L88.1,95.7 L88.3,95.9 L88.5,95.9 L88.7,95.8 L88.9,95.7 L89.1,95.7 L89.3,95.7 L89.5,95.6 L89.8,95.4 L90.0,95.3 L90.2,95.2 L90.4,95.2 L90.6,95.3 L90.8,95.5 L91.0,95.4 L91.2,95.4 L91.4,95.4 L91.7,95.2 L91.9,95.2 L92.1,95.5 L92.3,95.5 L92.5,95.2 L92.7,95.1 L92.9,95.2 L93.1,95.2 L93.3,94.9 L93.5,94.8 L93.8,95.0 L94.0,95.0 L94.2,94.9 L94.4,94.9 L94.6,94.9 L94.8,94.8 L95.0,94.5 L95.2,94.4 L95.4,94.4 L95.6,94.5 L95.8,94.5 L96.1,94.2 L96.3,93.9 L96.5,93.8 L96.7,93.6 L96.9,93.3 L97.1,93.0 L97.3,92.8 L97.5,92.6 L97.7,92.1 L98.0,91.4 L98.2,90.7 L98.4,90.2 L98.6,89.4 L98.8,88.2 L99.0,86.8 L99.2,85.1 L99.4,83.0 L99.6,80.6 L99.8,77.5 L100.0,74.7 L100.3,73.5 L100.5,74.7 L100.7,77.2 L100.9,80.1 L101.1,83.0 L101.3,85.4 L101.5,87.1 L101.7,88.4 L101.9,89.4 L102.2,90.3 L102.4,90.9 L102.6,91.5 L102.8,92.2 L103.0,92.5 L103.2,92.3 L103.4,92.6 L103.6,93.0 L103.8,93.2 L104.0,93.3 L104.2,93.5 L104.5,93.9 L104.7,94.2 L104.9,94.3 L105.1,94.4 L105.3,94.5 L105.5,94.6 L105.7,94.6 L105.9,94.5 L106.1,94.6 L106.4,94.8 L106.6,94.7 L106.8,94.5 L107.0,94.6 L107.2,94.6 L107.4,94.5 L107.6,94.6 L107.8,94.8 L108.0,95.1 L108.2,95.1 L108.5,95.2 L108.7,95.3 L108.9,95.3 L109.1,95.4 L109.3,95.4 L109.5,95.2 L109.7,95.1 L109.9,95.3 L110.1,95.3 L110.3,95.3 L110.6,95.3 L110.8,95.2 L111.0,95.2 L111.2,95.2 L111.4,95.1 L111.6,95.1 L111.8,95.2 L112.0,95.3 L112.2,95.3 L112.4,95.2 L112.7,95.2 L112.9,95.4 L113.1,95.8 L113.3,95.8 L113.5,95.4 L113.7,95.1 L113.9,95.0 L114.1,95.0 L114.3,95.2 L114.5,95.3 L114.8,95.4 L115.0,95.3 L115.2,95.2 L115.4,95.2 L115.6,95.2 L115.8,95.2 L116.0,95.2 L116.2,95.3 L116.4,95.4 L116.6,95.4 L116.8,95.3 L117.1,95.1 L117.3,95.1 L117.5,95.1 L117.7,95.0 L117.9,95.1 L118.1,95.2 L118.3,95.3 L118.5,95.2 L118.7,95.1 L118.9,95.3 L119.2,95.4 L119.4,95.3 L119.6,95.4 L119.8,95.3 L120.0,95.2 L120.2,95.3 L120.4,95.4 L120.6,95.1 L120.8,95.0 L121.0,95.1 L121.3,95.2 L121.5,95.3 L121.7,95.3 L121.9,95.1 L122.1,95.0 L122.3,95.1 L122.5,95.2 L122.7,95.3 L122.9,95.2 L123.1,95.0 L123.4,95.0 L123.6,95.2 L123.8,95.3 L124.0,95.1 L124.2,95.0 L124.4,95.2 L124.6,95.4 L124.8,95.4 L125.0,95.3 L125.2,95.4 L125.5,95.4 L125.7,95.2 L125.9,95.1 L126.1,95.3 L126.3,95.4 L126.5,95.2 L126.7,95.2 L126.9,95.4 L127.1,95.3 L127.3,95.2 L127.6,95.2 L127.8,95.2 L128.0,95.1 L128.2,95.1 L128.4,95.1 L128.6,95.0 L128.8,94.9 L129.0,94.9 L129.2,95.1 L129.4,95.4 L129.7,95.3 L129.9,95.1 L130.1,95.1 L130.3,95.1 L130.5,95.2 L130.7,95.3 L130.9,95.3 L131.1,95.3 L131.3,95.3 L131.6,95.3 L131.8,95.3 L132.0,95.1 L132.2,95.0 L132.4,95.3 L132.6,95.3 L132.8,95.1 L133.0,95.1 L133.2,95.0 L133.4,95.0 L133.7,95.2 L133.9,95.0 L134.1,94.9 L134.3,95.0 L134.5,95.1 L134.7,95.2 L134.9,95.4 L135.1,95.3 L135.3,95.0 L135.5,94.9 L135.8,95.0 L136.0,95.1 L136.2,95.2 L136.4,95.2 L136.6,95.2 L136.8,95.2 L137.0,95.2 L137.2,95.2 L137.4,95.1 L137.6,95.1 L137.9,95.1 L138.1,95.0 L138.3,95.0 L138.5,95.0 L138.7,95.4 L138.9,95.4 L139.1,95.1 L139.3,94.8 L139.5,94.7 L139.7,94.8 L139.9,95.0 L140.2,95.1 L140.4,95.0 L140.6,95.0 L140.8,95.3 L141.0,95.3 L141.2,95.1 L141.4,95.2 L141.6,95.4 L141.8,95.2 L142.1,95.0 L142.3,95.0 L142.5,95.0 L142.7,95.0 L142.9,95.1 L143.1,95.0 L143.3,95.1 L143.5,95.1 L143.7,94.9 L143.9,94.9 L144.2,95.2 L144.4,95.4 L144.6,95.2 L144.8,94.8 L145.0,94.8 L145.2,95.0 L145.4,95.1 L145.6,95.2 L145.8,95.2 L146.0,94.9 L146.2,94.9 L146.5,95.1 L146.7,95.1 L146.9,95.0 L147.1,94.8 L147.3,94.6 L147.5,94.4 L147.7,94.3 L147.9,94.3 L148.1,94.4 L148.4,94.7 L148.6,94.6 L148.8,94.4 L149.0,94.4 L149.2,94.6 L149.4,94.8 L149.6,94.7 L149.8,94.3 L150.0,94.1 L150.2,94.2 L150.4,94.3 L150.7,94.2 L150.9,93.9 L151.1,93.5 L151.3,93.3 L151.5,93.3 L151.7,93.4 L151.9,93.1 L152.1,92.6 L152.3,92.2 L152.6,92.1 L152.8,91.7 L153.0,91.3 L153.2,91.0 L153.4,90.5 L153.6,89.6 L153.8,88.8 L154.0,88.4 L154.2,88.3 L154.4,88.1 L154.7,87.8 L154.9,88.0 L155.1,88.7 L155.3,89.4 L155.5,90.1 L155.7,90.7 L155.9,91.2 L156.1,91.6 L156.3,92.0 L156.5,92.2 L156.8,92.5 L157.0,92.9 L157.2,93.1 L157.4,93.3 L157.6,93.7 L157.8,93.8 L158.0,93.7 L158.2,93.8 L158.4,93.8 L158.6,93.8 L158.9,93.9 L159.1,93.9 L159.3,93.8 L159.5,93.7 L159.7,93.8 L159.9,94.0 L160.1,93.9 L160.3,94.0 L160.5,94.0 L160.7,94.0 L160.9,94.0 L161.2,94.1 L161.4,94.0 L161.6,93.9 L161.8,93.9 L162.0,93.9 L162.2,94.0 L162.4,94.1 L162.6,94.2 L162.8,94.3 L163.1,94.3 L163.3,94.2 L163.5,94.1 L163.7,94.1 L163.9,93.9 L164.1,93.9 L164.3,94.1 L164.5,94.0 L164.7,93.9 L164.9,93.8 L165.2,93.5 L165.4,93.6 L165.6,93.8 L165.8,94.0 L166.0,94.2 L166.2,94.0 L166.4,93.9 L166.6,93.9 L166.8,93.8 L167.0,93.6 L167.2,93.4 L167.5,93.4 L167.7,93.5 L167.9,93.7 L168.1,93.6 L168.3,93.7 L168.5,93.7 L168.7,93.5 L168.9,93.7 L169.1,93.7 L169.3,93.3 L169.6,93.1 L169.8,93.5 L170.0,93.3 L170.2,93.0 L170.4,93.2 L170.6,93.6 L170.8,93.3 L171.0,92.9 L171.2,92.8 L171.4,92.8 L171.7,92.6 L171.9,92.6 L172.1,92.8 L172.3,92.8 L172.5,92.5 L172.7,92.4 L172.9,92.0 L173.1,91.6 L173.3,91.4 L173.6,91.3 L173.8,91.0 L174.0,90.5 L174.2,90.2 L174.4,89.9 L174.6,89.2 L174.8,88.4 L175.0,88.0 L175.2,87.7 L175.4,87.4 L175.6,87.2 L175.9,86.9 L176.1,86.6 L176.3,87.0 L176.5,87.7 L176.7,88.2 L176.9,88.6 L177.1,89.2 L177.3,89.7 L177.5,90.1 L177.8,90.3 L178.0,90.6 L178.2,91.1 L178.4,91.3 L178.6,91.5 L178.8,91.9 L179.0,92.1 L179.2,92.1 L179.4,92.1 L179.6,92.3 L179.8,92.4 L180.1,92.5 L180.3,92.7 L180.5,92.9 L180.7,92.9 L180.9,92.7 L181.1,92.8 L181.3,92.7 L181.5,92.5 L181.7,92.5 L182.0,92.7 L182.2,92.8 L182.4,92.8 L182.6,92.9 L182.8,92.9 L183.0,92.7 L183.2,92.7 L183.4,92.5 L183.6,92.6 L183.8,92.8 L184.0,92.7 L184.3,92.7 L184.5,92.9 L184.7,93.1 L184.9,93.0 L185.1,92.8 L185.3,92.7 L185.5,92.8 L185.7,92.9 L185.9,92.8 L186.2,92.5 L186.4,92.5 L186.6,92.7 L186.8,92.8 L187.0,92.7 L187.2,92.6 L187.4,92.5 L187.6,92.3 L187.8,92.5 L188.0,92.8 L188.2,92.7 L188.5,92.5 L188.7,92.4 L188.9,92.5 L189.1,92.6 L189.3,92.7 L189.5,92.5 L189.7,92.3 L189.9,92.4 L190.1,92.6 L190.3,92.6 L190.6,92.5 L190.8,92.4 L191.0,92.1 L191.2,92.1 L191.4,92.3 L191.6,92.4 L191.8,92.4 L192.0,92.4 L192.2,92.4 L192.4,92.3 L192.7,92.4 L192.9,92.4 L193.1,92.3 L193.3,92.3 L193.5,92.4 L193.7,92.3 L193.9,92.1 L194.1,92.0 L194.3,92.0 L194.6,92.2 L194.8,92.3 L195.0,92.2 L195.2,92.1 L195.4,92.1 L195.6,92.2 L195.8,92.3 L196.0,92.1 L196.2,91.9 L196.4,91.9 L196.7,91.9 L196.9,91.9 L197.1,92.1 L197.3,92.1 L197.5,91.9 L197.7,91.7 L197.9,91.8 L198.1,91.9 L198.3,91.8 L198.5,91.9 L198.8,92.2 L199.0,92.4 L199.2,92.2 L199.4,92.1 L199.6,92.0 L199.8,92.0 L200.0,91.9 L200.2,91.7 L200.4,91.6 L200.6,91.6 L200.8,91.5 L201.1,91.6 L201.3,91.6 L201.5,91.5 L201.7,91.8 L201.9,91.8 L202.1,91.4 L202.3,91.3 L202.5,91.3 L202.7,91.3 L203.0,91.3 L203.2,91.4 L203.4,91.5 L203.6,91.5 L203.8,91.4 L204.0,91.3 L204.2,91.3 L204.4,91.1 L204.6,90.9 L204.8,91.2 L205.1,91.2 L205.3,91.0 L205.5,91.1 L205.7,91.2 L205.9,91.0 L206.1,91.0 L206.3,91.1 L206.5,91.2 L206.7,91.0 L206.9,90.9 L207.2,90.7 L207.4,90.7 L207.6,90.9 L207.8,91.0 L208.0,90.9 L208.2,90.9 L208.4,90.9 L208.6,91.1 L208.8,91.2 L209.0,91.0 L209.2,90.8 L209.5,90.5 L209.7,90.7 L209.9,90.9 L210.1,90.9 L210.3,90.8 L210.5,90.7 L210.7,90.6 L210.9,90.6 L211.1,90.6 L211.3,90.9 L211.6,91.0 L211.8,90.9 L212.0,90.9 L212.2,90.7 L212.4,90.6 L212.6,90.7 L212.8,90.6 L213.0,90.4 L213.2,90.2 L213.4,90.4 L213.7,90.6 L213.9,90.5 L214.1,90.3 L214.3,90.4 L214.5,90.4 L214.7,90.2 L214.9,90.1 L215.1,90.2 L215.3,90.4 L215.5,90.5 L215.8,90.6 L216.0,90.6 L216.2,90.4 L216.4,90.4 L216.6,90.1 L216.8,89.8 L217.0,89.9 L217.2,90.3 L217.4,90.5 L217.7,90.4 L217.9,90.4 L218.1,90.3 L218.3,90.0 L218.5,89.9 L218.7,89.7 L218.9,89.4 L219.1,89.6 L219.3,89.8 L219.5,89.8 L219.8,89.8 L220.0,89.9 L220.2,89.7 L220.4,89.6 L220.6,89.7 L220.8,89.9 L221.0,90.0 L221.2,89.8 L221.4,89.6 L221.6,89.4 L221.8,89.3 L222.1,89.3 L222.3,89.4 L222.5,89.3 L222.7,89.3 L222.9,89.4 L223.1,89.5 L223.3,89.4 L223.5,89.5 L223.7,89.5 L223.9,89.2 L224.2,89.1 L224.4,89.0 L224.6,89.1 L224.8,89.2 L225.0,89.2 L225.2,89.0 L225.4,88.7 L225.6,88.6 L225.8,88.8 L226.1,89.0 L226.3,88.9 L226.5,88.8 L226.7,89.0 L226.9,88.9 L227.1,88.7 L227.3,88.6 L227.5,88.7 L227.7,88.9 L227.9,88.9 L228.2,88.6 L228.4,88.7 L228.6,88.9 L228.8,88.9 L229.0,88.6 L229.2,88.3 L229.4,88.4 L229.6,88.5 L229.8,88.2 L230.0,88.1 L230.2,88.6 L230.5,88.7 L230.7,88.4 L230.9,88.3 L231.1,88.3 L231.3,88.2 L231.5,87.9 L231.7,87.8 L231.9,87.9 L232.1,88.0 L232.3,88.0 L232.6,88.0 L232.8,88.1 L233.0,87.9 L233.2,87.8 L233.4,87.8 L233.6,87.7 L233.8,87.6 L234.0,87.4 L234.2,87.4 L234.5,87.7 L234.7,87.8 L234.9,87.7 L235.1,87.6 L235.3,87.5 L235.5,87.6 L235.7,87.5 L235.9,87.2 L236.1,87.2 L236.3,87.2 L236.5,87.0 L236.8,87.1 L237.0,87.4 L237.2,87.3 L237.4,87.2 L237.6,87.2 L237.8,87.2 L238.0,87.1 L238.2,87.0 L238.4,86.9 L238.7,86.7 L238.9,86.8 L239.1,87.0 L239.3,87.0 L239.5,86.8 L239.7,86.8 L239.9,86.8 L240.1,86.6 L240.3,86.5 L240.5,86.4 L240.8,86.4 L241.0,86.5 L241.2,86.5 L241.4,86.5 L241.6,86.5 L241.8,86.5 L242.0,86.7 L242.2,86.7 L242.4,86.3 L242.6,86.1 L242.9,86.2 L243.1,86.3 L243.3,86.2 L243.5,86.1 L243.7,86.0 L243.9,85.9 L244.1,86.0 L244.3,86.0 L244.5,85.9 L244.7,85.9 L244.9,86.0 L245.2,86.1 L245.4,85.9 L245.6,85.7 L245.8,85.7 L246.0,85.7 L246.2,85.5 L246.4,85.4 L246.6,85.3 L246.8,85.4 L247.1,85.5 L247.3,85.6 L247.5,85.8 L247.7,85.6 L247.9,85.3 L248.1,85.2 L248.3,85.0 L248.5,85.1 L248.7,85.1 L248.9,84.9 L249.2,84.8 L249.4,84.8 L249.6,84.9 L249.8,84.9 L250.0,84.7 L250.2,84.6 L250.4,84.5 L250.6,84.5 L250.8,84.6 L251.0,84.6 L251.2,84.5 L251.5,84.4 L251.7,84.3 L251.9,84.2 L252.1,84.4 L252.3,84.5 L252.5,84.4 L252.7,84.2 L252.9,84.1 L253.1,84.0 L253.3,84.0 L253.6,84.1 L253.8,84.1 L254.0,84.0 L254.2,83.8 L254.4,83.9 L254.6,84.0 L254.8,83.9 L255.0,83.8 L255.2,83.9 L255.4,83.8 L255.7,83.5 L255.9,83.3 L256.1,83.4 L256.3,83.5 L256.5,83.6 L256.7,83.4 L256.9,83.3 L257.1,83.6 L257.3,83.6 L257.6,83.4 L257.8,83.1 L258.0,83.0 L258.2,83.0 L258.4,82.9 L258.6,82.9 L258.8,83.1 L259.0,83.1 L259.2,82.8 L259.4,82.7 L259.6,82.6 L259.9,82.6 L260.1,82.4 L260.3,82.2 L260.5,82.4 L260.7,82.5 L260.9,82.4 L261.1,82.2 L261.3,82.0 L261.5,82.2 L261.8,82.4 L262.0,82.2 L262.2,82.1 L262.4,82.1 L262.6,81.9 L262.8,81.8 L263.0,81.9 L263.2,82.0 L263.4,82.0 L263.6,81.9 L263.9,81.7 L264.1,81.4 L264.3,81.3 L264.5,81.5 L264.7,81.7 L264.9,81.7 L265.1,81.6 L265.3,81.3 L265.5,81.2 L265.7,81.1 L266.0,81.1 L266.2,81.1 L266.4,81.0 L266.6,81.0 L266.8,81.2 L267.0,81.2" stroke="#1c22c4" stroke-width="1.22"/>
<path d="M36.0,82.4 L36.2,82.6 L36.4,83.5 L36.6,83.2 L36.8,82.3 L37.0,82.1 L37.3,82.1 L37.5,82.1 L37.7,82.2 L37.9,82.4 L38.1,82.6 L38.3,83.0 L38.5,82.9 L38.7,82.6 L38.9,82.3 L39.1,81.8 L39.4,81.4 L39.6,81.5 L39.8,81.7 L40.0,81.9 L40.2,82.3 L40.4,82.5 L40.6,82.1 L40.8,82.1 L41.0,82.7 L41.2,82.6 L41.5,82.1 L41.7,81.7 L41.9,81.3 L42.1,81.1 L42.3,81.2 L42.5,81.0 L42.7,80.9 L42.9,80.7 L43.1,80.6 L43.4,80.6 L43.6,80.6 L43.8,80.2 L44.0,79.7 L44.2,79.5 L44.4,79.2 L44.6,78.7 L44.8,79.0 L45.0,79.4 L45.2,79.2 L45.5,79.2 L45.7,79.7 L45.9,80.0 L46.1,80.5 L46.3,80.8 L46.5,80.4 L46.7,80.3 L46.9,80.7 L47.1,81.1 L47.3,81.6 L47.5,81.7 L47.8,81.1 L48.0,80.8 L48.2,80.9 L48.4,80.7 L48.6,80.5 L48.8,80.6 L49.0,80.4 L49.2,80.5 L49.4,80.9 L49.6,81.1 L49.9,81.3 L50.1,81.0 L50.3,80.8 L50.5,81.1 L50.7,81.2 L50.9,81.0 L51.1,80.9 L51.3,80.9 L51.5,80.9 L51.8,80.8 L52.0,81.0 L52.2,81.0 L52.4,80.6 L52.6,80.5 L52.8,81.0 L53.0,80.8 L53.2,80.4 L53.4,80.8 L53.6,81.0 L53.8,80.7 L54.1,80.4 L54.3,80.4 L54.5,80.6 L54.7,80.4 L54.9,80.0 L55.1,80.1 L55.3,80.3 L55.5,80.2 L55.7,80.6 L56.0,81.1 L56.2,80.8 L56.4,80.4 L56.6,80.2 L56.8,80.0 L57.0,79.8 L57.2,79.9 L57.4,79.8 L57.6,79.8 L57.8,80.7 L58.0,80.9 L58.3,80.5 L58.5,80.8 L58.7,81.0 L58.9,80.6 L59.1,80.5 L59.3,80.4 L59.5,79.5 L59.7,78.8 L59.9,79.0 L60.1,79.4 L60.4,79.6 L60.6,79.7 L60.8,79.5 L61.0,79.4 L61.2,79.2 L61.4,79.0 L61.6,78.7 L61.8,78.4 L62.0,78.7 L62.2,79.5 L62.5,79.6 L62.7,79.0 L62.9,78.8 L63.1,78.6 L63.3,78.4 L63.5,78.3 L63.7,78.1 L63.9,78.0 L64.1,78.3 L64.3,78.2 L64.6,77.8 L64.8,77.7 L65.0,77.7 L65.2,77.6 L65.4,77.5 L65.6,77.6 L65.8,77.8 L66.0,77.9 L66.2,78.1 L66.4,78.0 L66.7,77.8 L66.9,77.8 L67.1,77.5 L67.3,77.0 L67.5,77.4 L67.7,77.2 L67.9,76.7 L68.1,77.0 L68.3,77.0 L68.5,76.9 L68.8,77.3 L69.0,77.8 L69.2,77.8 L69.4,77.1 L69.6,77.1 L69.8,77.5 L70.0,77.2 L70.2,76.8 L70.4,76.5 L70.7,76.6 L70.9,76.9 L71.1,76.8 L71.3,76.3 L71.5,75.5 L71.7,75.1 L71.9,75.7 L72.1,76.0 L72.3,75.9 L72.5,75.9 L72.8,75.8 L73.0,75.7 L73.2,76.0 L73.4,76.1 L73.6,75.7 L73.8,75.4 L74.0,75.3 L74.2,75.0 L74.4,75.0 L74.6,75.1 L74.8,75.1 L75.1,75.3 L75.3,74.8 L75.5,74.5 L75.7,75.0 L75.9,75.1 L76.1,74.6 L76.3,74.3 L76.5,74.6 L76.7,74.6 L77.0,74.5 L77.2,74.7 L77.4,75.1 L77.6,74.9 L77.8,74.8 L78.0,74.9 L78.2,74.6 L78.4,74.3 L78.6,74.2 L78.8,74.4 L79.1,74.5 L79.3,74.0 L79.5,73.0 L79.7,72.4 L79.9,72.4 L80.1,72.5 L80.3,72.8 L80.5,73.4 L80.7,74.0 L80.9,73.9 L81.2,73.8 L81.4,74.1 L81.6,73.9 L81.8,73.4 L82.0,73.6 L82.2,74.0 L82.4,73.7 L82.6,73.7 L82.8,74.0 L83.0,73.9 L83.2,74.2 L83.5,74.6 L83.7,74.2 L83.9,73.4 L84.1,73.1 L84.3,73.3 L84.5,73.7 L84.7,73.6 L84.9,73.1 L85.1,72.9 L85.3,73.3 L85.6,73.2 L85.8,72.6 L86.0,72.6 L86.2,72.9 L86.4,72.9 L86.6,72.5 L86.8,71.7 L87.0,71.6 L87.2,72.1 L87.4,71.9 L87.7,70.8 L87.9,70.1 L88.1,69.9 L88.3,70.0 L88.5,70.3 L88.7,69.6 L88.9,68.4 L89.1,67.7 L89.3,67.5 L89.5,67.8 L89.8,68.2 L90.0,68.6 L90.2,69.1 L90.4,69.6 L90.6,69.8 L90.8,69.9 L91.0,69.7 L91.2,70.1 L91.4,70.9 L91.7,71.1 L91.9,70.8 L92.1,70.7 L92.3,70.8 L92.5,70.5 L92.7,70.2 L92.9,70.4 L93.1,70.8 L93.3,70.8 L93.5,70.7 L93.8,70.2 L94.0,70.1 L94.2,70.6 L94.4,70.6 L94.6,70.2 L94.8,69.8 L95.0,69.3 L95.2,69.3 L95.4,69.5 L95.6,69.3 L95.8,68.8 L96.1,68.5 L96.3,68.5 L96.5,68.8 L96.7,69.3 L96.9,69.2 L97.1,68.4 L97.3,67.6 L97.5,67.2 L97.7,66.6 L98.0,66.1 L98.2,65.4 L98.4,64.7 L98.6,64.3 L98.8,63.9 L99.0,62.3 L99.2,60.4 L99.4,59.0 L99.6,57.4 L99.8,56.7 L100.0,57.7 L100.3,59.2 L100.5,60.7 L100.7,61.8 L100.9,63.2 L101.1,64.4 L101.3,64.9 L101.5,65.4 L101.7,65.8 L101.9,66.0 L102.2,66.4 L102.4,66.6 L102.6,66.1 L102.8,65.9 L103.0,66.7 L103.2,67.5 L103.4,67.6 L103.6,67.3 L103.8,67.3 L104.0,67.7 L104.2,68.1 L104.5,68.1 L104.7,67.6 L104.9,66.9 L105.1,67.2 L105.3,67.5 L105.5,66.5 L105.7,65.4 L105.9,65.6 L106.1,66.1 L106.4,65.3 L106.6,64.4 L106.8,64.4 L107.0,65.1 L107.2,65.8 L107.4,65.9 L107.6,65.9 L107.8,65.9 L108.0,66.2 L108.2,66.6 L108.5,66.9 L108.7,67.5 L108.9,67.7 L109.1,67.4 L109.3,67.4 L109.5,67.4 L109.7,67.2 L109.9,67.5 L110.1,67.9 L110.3,68.0 L110.6,68.2 L110.8,68.5 L111.0,68.2 L111.2,67.4 L111.4,67.5 L111.6,68.0 L111.8,67.5 L112.0,67.3 L112.2,67.7 L112.4,67.3 L112.7,66.9 L112.9,67.2 L113.1,67.4 L113.3,67.5 L113.5,68.1 L113.7,68.5 L113.9,68.4 L114.1,67.8 L114.3,67.5 L114.5,68.0 L114.8,68.2 L115.0,67.8 L115.2,67.6 L115.4,67.4 L115.6,67.5 L115.8,67.6 L116.0,67.5 L116.2,67.6 L116.4,67.9 L116.6,67.7 L116.8,66.5 L117.1,65.9 L117.3,66.7 L117.5,67.7 L117.7,67.3 L117.9,67.1 L118.1,67.6 L118.3,67.7 L118.5,67.5 L118.7,67.6 L118.9,67.4 L119.2,67.0 L119.4,67.1 L119.6,66.9 L119.8,66.6 L120.0,67.3 L120.2,67.6 L120.4,66.6 L120.6,66.0 L120.8,66.4 L121.0,66.8 L121.3,67.3 L121.5,67.0 L121.7,66.1 L121.9,65.9 L122.1,66.3 L122.3,66.8 L122.5,67.2 L122.7,67.2 L122.9,66.9 L123.1,66.5 L123.4,66.6 L123.6,66.5 L123.8,66.0 L124.0,65.8 L124.2,65.9 L124.4,65.9 L124.6,66.3 L124.8,66.7 L125.0,66.4 L125.2,66.1 L125.5,66.0 L125.7,65.9 L125.9,65.7 L126.1,65.4 L126.3,65.5 L126.5,65.5 L126.7,65.4 L126.9,65.4 L127.1,65.1 L127.3,64.9 L127.6,65.1 L127.8,65.6 L128.0,65.7 L128.2,65.5 L128.4,65.5 L128.6,65.8 L128.8,65.8 L129.0,65.6 L129.2,65.5 L129.4,65.1 L129.7,64.6 L129.9,64.3 L130.1,64.4 L130.3,64.9 L130.5,65.0 L130.7,64.4 L130.9,63.6 L131.1,63.6 L131.3,64.1 L131.6,63.8 L131.8,63.5 L132.0,64.1 L132.2,64.1 L132.4,63.5 L132.6,63.7 L132.8,63.8 L133.0,63.3 L133.2,63.1 L133.4,63.5 L133.7,64.0 L133.9,63.6 L134.1,63.0 L134.3,63.0 L134.5,63.1 L134.7,63.1 L134.9,62.9 L135.1,62.9 L135.3,62.8 L135.5,63.0 L135.8,63.1 L136.0,62.9 L136.2,63.2 L136.4,63.3 L136.6,63.1 L136.8,63.5 L137.0,63.5 L137.2,63.0 L137.4,62.7 L137.6,62.6 L137.9,61.9 L138.1,61.6 L138.3,61.6 L138.5,61.4 L138.7,61.7 L138.9,62.5 L139.1,63.2 L139.3,62.8 L139.5,61.9 L139.7,61.7 L139.9,61.9 L140.2,61.6 L140.4,61.3 L140.6,61.8 L140.8,62.2 L141.0,62.0 L141.2,61.5 L141.4,61.1 L141.6,61.0 L141.8,61.3 L142.1,61.2 L142.3,61.0 L142.5,60.7 L142.7,60.2 L142.9,60.2 L143.1,60.7 L143.3,61.0 L143.5,60.9 L143.7,60.8 L143.9,60.6 L144.2,60.5 L144.4,60.6 L144.6,60.8 L144.8,60.6 L145.0,59.8 L145.2,59.0 L145.4,59.2 L145.6,59.4 L145.8,59.5 L146.0,59.3 L146.2,59.0 L146.5,59.5 L146.7,60.0 L146.9,59.9 L147.1,59.6 L147.3,59.7 L147.5,59.8 L147.7,59.7 L147.9,59.6 L148.1,59.4 L148.4,59.0 L148.6,58.8 L148.8,59.5 L149.0,59.6 L149.2,58.7 L149.4,58.4 L149.6,58.4 L149.8,58.3 L150.0,58.2 L150.2,58.0 L150.4,57.9 L150.7,57.9 L150.9,58.0 L151.1,57.8 L151.3,57.5 L151.5,57.5 L151.7,57.1 L151.9,56.7 L152.1,56.7 L152.3,56.7 L152.6,56.9 L152.8,56.7 L153.0,56.3 L153.2,56.1 L153.4,55.7 L153.6,55.4 L153.8,55.7 L154.0,55.9 L154.2,55.9 L154.4,56.1 L154.7,55.9 L154.9,55.5 L155.1,55.8 L155.3,55.9 L155.5,55.8 L155.7,55.7 L155.9,55.9 L156.1,56.8 L156.3,57.5 L156.5,57.0 L156.8,56.3 L157.0,56.4 L157.2,56.5 L157.4,56.3 L157.6,56.5 L157.8,56.4 L158.0,56.2 L158.2,56.3 L158.4,56.2 L158.6,56.3 L158.9,56.6 L159.1,56.5 L159.3,56.4 L159.5,56.1 L159.7,55.7 L159.9,55.9 L160.1,56.3 L160.3,56.5 L160.5,55.9 L160.7,55.5 L160.9,55.5 L161.2,55.4 L161.4,55.5 L161.6,55.9 L161.8,55.9 L162.0,55.8 L162.2,55.9 L162.4,55.7 L162.6,55.6 L162.8,55.3 L163.1,55.3 L163.3,55.2 L163.5,55.1 L163.7,55.3 L163.9,55.3 L164.1,55.1 L164.3,54.8 L164.5,54.6 L164.7,54.7 L164.9,54.9 L165.2,54.9 L165.4,54.7 L165.6,54.7 L165.8,54.7 L166.0,54.8 L166.2,55.3 L166.4,55.2 L166.6,54.7 L166.8,54.3 L167.0,54.5 L167.2,55.0 L167.5,54.6 L167.7,54.0 L167.9,54.0 L168.1,54.0 L168.3,54.1 L168.5,54.1 L168.7,54.1 L168.9,54.8 L169.1,54.9 L169.3,54.2 L169.6,53.8 L169.8,53.8 L170.0,53.7 L170.2,53.7 L170.4,53.8 L170.6,53.6 L170.8,53.7 L171.0,54.0 L171.2,53.8 L171.4,53.6 L171.7,53.5 L171.9,53.3 L172.1,53.2 L172.3,52.8 L172.5,52.8 L172.7,53.6 L172.9,53.6 L173.1,53.0 L173.3,52.7 L173.6,52.3 L173.8,52.0 L174.0,52.2 L174.2,52.1 L174.4,52.1 L174.6,52.1 L174.8,51.6 L175.0,51.1 L175.2,50.9 L175.4,50.8 L175.6,50.8 L175.9,51.3 L176.1,52.0 L176.3,52.0 L176.5,51.7 L176.7,51.7 L176.9,52.1 L177.1,52.1 L177.3,52.4 L177.5,52.7 L177.8,52.3 L178.0,52.0 L178.2,52.0 L178.4,51.8 L178.6,51.8 L178.8,52.0 L179.0,52.2 L179.2,52.1 L179.4,51.9 L179.6,52.1 L179.8,52.4 L180.1,52.1 L180.3,51.6 L180.5,51.3 L180.7,51.5 L180.9,51.8 L181.1,51.9 L181.3,52.2 L181.5,52.3 L181.7,51.7 L182.0,51.1 L182.2,51.0 L182.4,51.4 L182.6,51.4 L182.8,51.1 L183.0,51.2 L183.2,51.0 L183.4,50.9 L183.6,51.1 L183.8,51.4 L184.0,51.6 L184.3,51.5 L184.5,51.4 L184.7,51.1 L184.9,50.7 L185.1,50.3 L185.3,50.4 L185.5,51.2 L185.7,51.1 L185.9,50.6 L186.2,50.4 L186.4,50.3 L186.6,50.5 L186.8,50.7 L187.0,50.7 L187.2,50.6 L187.4,50.6 L187.6,50.3 L187.8,50.2 L188.0,50.3 L188.2,50.4 L188.5,50.1 L188.7,49.9 L188.9,49.5 L189.1,49.5 L189.3,49.8 L189.5,49.8 L189.7,49.4 L189.9,49.4 L190.1,49.7 L190.3,49.6 L190.6,49.6 L190.8,49.9 L191.0,49.8 L191.2,49.4 L191.4,49.2 L191.6,49.2 L191.8,49.0 L192.0,48.9 L192.2,49.1 L192.4,49.5 L192.7,49.4 L192.9,49.0 L193.1,49.3 L193.3,49.4 L193.5,48.8 L193.7,48.3 L193.9,48.4 L194.1,48.4 L194.3,48.3 L194.6,48.2 L194.8,47.8 L195.0,47.9 L195.2,48.2 L195.4,47.8 L195.6,47.5 L195.8,47.6 L196.0,47.3 L196.2,46.8 L196.4,46.5 L196.7,46.8 L196.9,47.1 L197.1,47.3 L197.3,47.5 L197.5,47.1 L197.7,46.6 L197.9,46.8 L198.1,46.9 L198.3,46.4 L198.5,46.2 L198.8,46.7 L199.0,47.1 L199.2,46.9 L199.4,47.0 L199.6,47.2 L199.8,46.5 L200.0,45.9 L200.2,46.4 L200.4,46.5 L200.6,45.9 L200.8,45.8 L201.1,46.2 L201.3,46.2 L201.5,45.6 L201.7,45.2 L201.9,45.3 L202.1,45.7 L202.3,45.5 L202.5,45.0 L202.7,45.3 L203.0,45.5 L203.2,45.6 L203.4,45.8 L203.6,45.4 L203.8,44.6 L204.0,44.3 L204.2,44.3 L204.4,44.6 L204.6,45.0 L204.8,44.8 L205.1,43.8 L205.3,43.3 L205.5,43.9 L205.7,44.5 L205.9,44.3 L206.1,43.6 L206.3,43.5 L206.5,44.0 L206.7,43.7 L206.9,42.9 L207.2,43.0 L207.4,43.5 L207.6,43.5 L207.8,43.4 L208.0,43.8 L208.2,44.0 L208.4,43.4 L208.6,42.5 L208.8,42.3 L209.0,42.7 L209.2,43.4 L209.5,43.7 L209.7,43.3 L209.9,42.5 L210.1,42.2 L210.3,42.5 L210.5,42.7 L210.7,43.1 L210.9,43.1 L211.1,42.6 L211.3,42.5 L211.6,42.8 L211.8,42.6 L212.0,42.1 L212.2,42.1 L212.4,42.1 L212.6,42.0 L212.8,41.5 L213.0,40.9 L213.2,40.9 L213.4,40.9 L213.7,40.7 L213.9,40.4 L214.1,40.6 L214.3,40.8 L214.5,40.5 L214.7,40.6 L214.9,40.8 L215.1,40.3 L215.3,40.1 L215.5,40.1 L215.8,40.1 L216.0,40.7 L216.2,40.9 L216.4,40.2 L216.6,39.5 L216.8,39.4 L217.0,39.7 L217.2,39.8 L217.4,39.4 L217.7,39.1 L217.9,39.4 L218.1,39.4 L218.3,39.0 L218.5,38.7 L218.7,38.6 L218.9,38.3 L219.1,38.6 L219.3,39.3 L219.5,39.3 L219.8,38.5 L220.0,38.2 L220.2,38.1 L220.4,37.8 L220.6,37.4 L220.8,37.3 L221.0,37.3 L221.2,37.6 L221.4,37.6 L221.6,37.6 L221.8,37.6 L222.1,37.2 L222.3,36.7 L222.5,36.6 L222.7,36.9 L222.9,37.2 L223.1,37.2 L223.3,36.9 L223.5,36.4 L223.7,35.9 L223.9,35.4 L224.2,35.0 L224.4,34.8 L224.6,34.8 L224.8,34.2 L225.0,33.0 L225.2,32.0 L225.4,31.3 L225.6,29.8 L225.8,28.0 L226.1,27.4 L226.3,28.0 L226.5,29.5 L226.7,30.9 L226.9,31.7 L227.1,32.2 L227.3,32.6 L227.5,33.0 L227.7,33.3 L227.9,33.5 L228.2,33.9 L228.4,34.0 L228.6,34.4 L228.8,35.0 L229.0,35.0 L229.2,34.5 L229.4,34.1 L229.6,33.8 L229.8,33.6 L230.0,33.9 L230.2,34.0 L230.5,34.0 L230.7,34.2 L230.9,34.2 L231.1,34.1 L231.3,33.9 L231.5,33.8 L231.7,33.4 L231.9,32.7 L232.1,32.2 L232.3,32.2 L232.6,32.7 L232.8,33.2 L233.0,33.3 L233.2,33.3 L233.4,33.4 L233.6,33.1 L233.8,33.0 L234.0,33.4 L234.2,33.4 L234.5,33.0 L234.7,32.5 L234.9,32.5 L235.1,32.6 L235.3,32.2 L235.5,31.4 L235.7,30.9 L235.9,31.0 L236.1,31.3 L236.3,31.5 L236.5,31.5 L236.8,31.6 L237.0,31.4 L237.2,31.0 L237.4,30.6 L237.6,30.3 L237.8,30.3 L238.0,30.6 L238.2,30.9 L238.4,30.7 L238.7,30.2 L238.9,29.9 L239.1,29.7 L239.3,30.0 L239.5,29.8 L239.7,29.3 L239.9,29.7 L240.1,29.6 L240.3,28.9 L240.5,28.9 L240.8,28.7 L241.0,28.2 L241.2,28.6 L241.4,28.8 L241.6,28.2 L241.8,27.8 L242.0,27.4 L242.2,26.9 L242.4,26.8 L242.6,26.3 L242.9,25.6 L243.1,25.6 L243.3,26.1 L243.5,26.0 L243.7,26.3 L243.9,26.8 L244.1,26.6 L244.3,26.1 L244.5,25.8 L244.7,25.7 L244.9,25.8 L245.2,26.0 L245.4,26.3 L245.6,26.6 L245.8,26.0 L246.0,25.4 L246.2,25.3 L246.4,25.6 L246.6,25.7 L246.8,25.3 L247.1,24.9 L247.3,24.7 L247.5,24.6 L247.7,24.5 L247.9,23.9 L248.1,23.3 L248.3,23.5 L248.5,24.2 L248.7,24.5 L248.9,24.0 L249.2,23.6 L249.4,23.6 L249.6,23.8 L249.8,24.3 L250.0,24.3 L250.2,23.7 L250.4,23.4 L250.6,23.5 L250.8,23.2 L251.0,22.8 L251.2,22.9 L251.5,22.6 L251.7,22.2 L251.9,22.5 L252.1,22.7 L252.3,22.5 L252.5,22.4 L252.7,22.3 L252.9,21.9 L253.1,21.2 L253.3,20.3 L253.6,20.5 L253.8,21.0 L254.0,20.7 L254.2,20.2 L254.4,20.3 L254.6,20.8 L254.8,20.7 L255.0,20.1 L255.2,20.1 L255.4,20.1 L255.7,19.7 L255.9,19.6 L256.1,19.6 L256.3,19.7 L256.5,19.8 L256.7,19.3 L256.9,19.1 L257.1,19.6 L257.3,19.7 L257.6,19.6 L257.8,19.6 L258.0,19.6 L258.2,19.1 L258.4,18.2 L258.6,18.0 L258.8,18.6 L259.0,18.9 L259.2,18.3 L259.4,17.7 L259.6,18.1 L259.9,18.4 L260.1,17.8 L260.3,17.4 L260.5,17.3 L260.7,17.4 L260.9,17.5 L261.1,16.9 L261.3,16.8 L261.5,17.4 L261.8,17.9 L262.0,17.6 L262.2,17.0 L262.4,16.5 L262.6,16.5 L262.8,16.4 L263.0,16.2 L263.2,16.1 L263.4,15.7 L263.6,15.4 L263.9,15.5 L264.1,15.7 L264.3,15.5 L264.5,14.9 L264.7,14.3 L264.9,14.3 L265.1,14.6 L265.3,14.8 L265.5,15.3 L265.7,15.2 L266.0,14.7 L266.2,14.5 L266.4,14.5 L266.6,14.1 L266.8,13.8 L267.0,14.2" stroke="#ee2a2a" stroke-width="1.22"/>
</g>
<rect x="35.5" y="7.5" width="231.0" height="172.5" fill="none" stroke="#8c8c8c" stroke-width="1.1"/>
<g font-size="5.5" text-anchor="end" style="fill:#3a3a3a;stroke:none">
<text x="32.6" y="181.7">0</text>
<text x="32.6" y="164.4">2000</text>
<text x="32.6" y="147.2">4000</text>
<text x="32.6" y="129.9">6000</text>
<text x="32.6" y="112.7">8000</text>
<text x="32.6" y="95.4">10,000</text>
<text x="32.6" y="78.2">12,000</text>
<text x="32.6" y="60.9">14,000</text>
<text x="32.6" y="43.7">16,000</text>
<text x="32.6" y="26.4">18,000</text>
<text x="32.6" y="9.2">20,000</text>
</g>
<g font-size="5.5" text-anchor="middle" style="fill:#3a3a3a;stroke:none">
<text x="57.0" y="188.8">200</text>
<text x="99.0" y="188.8">400</text>
<text x="141.0" y="188.8">600</text>
<text x="183.0" y="188.8">800</text>
<text x="225.0" y="188.8">1000</text>
<text x="267.0" y="188.8">1200</text>
</g>
<text x="151.4" y="202.3" font-size="9.38" text-anchor="middle">Raman Shift (cm<tspan font-size="5.8" dy="-3.6">-1</tspan><tspan dy="3.6">)</tspan></text>
<text transform="translate(11.8,93.2) rotate(-90)" font-size="9.3" text-anchor="middle">Intensity</text>
<rect x="38.0" y="10.4" width="38.6" height="41.9" fill="#fff" stroke="#555" stroke-width="0.6"/>
<line x1="41.5" y1="15.60" x2="51.9" y2="15.60" stroke="#1a1a1a" stroke-width="1.04"/>
<text x="53.2" y="18.08" font-size="6.9">SP-M1</text>
<line x1="41.5" y1="23.68" x2="51.9" y2="23.68" stroke="#0f9440" stroke-width="1.04"/>
<text x="53.2" y="26.16" font-size="6.9">SP-M2</text>
<line x1="41.5" y1="31.76" x2="51.9" y2="31.76" stroke="#f533e0" stroke-width="1.04"/>
<text x="53.2" y="34.24" font-size="6.9">SP-M3</text>
<line x1="41.5" y1="39.84" x2="51.9" y2="39.84" stroke="#1c22c4" stroke-width="1.04"/>
<text x="53.2" y="42.32" font-size="6.9">SP-M4</text>
<line x1="41.5" y1="47.92" x2="51.9" y2="47.92" stroke="#ee2a2a" stroke-width="1.04"/>
<text x="53.2" y="50.40" font-size="6.9">SP-M5</text>
<g font-size="8.4" text-anchor="middle">
<text x="44.0" y="77.6">141</text>
<text x="77.1" y="72.2">308</text>
<text x="90.0" y="65.8">354</text>
<text x="99.6" y="55.2">404</text>
<text x="107.9" y="63.6">437</text>
<text x="108.8" y="77.3">406</text>
<text x="79.5" y="92.1">311</text>
<text x="108.7" y="107.8">406</text>
<text x="80.2" y="122.8">312</text>
<text x="108.7" y="132.9">406</text>
<text x="80.2" y="143.2">312</text>
<text x="108.7" y="159.3">406</text>
<text x="79.8" y="173.9">311</text>
<text x="154.1" y="54.7">662</text>
<text x="175.6" y="48.8">764</text>
<text x="225.3" y="26.4">1005</text>
<text x="154.5" y="84.9">664</text>
<text x="175.6" y="84.9">766</text>
<text x="154.6" y="115.7">665</text>
<text x="175.7" y="115.7">766</text>
<text x="154.6" y="136.1">665</text>
<text x="175.7" y="136.1">766</text>
<text x="154.6" y="167.3">664</text>
<text x="175.7" y="167.3">766</text>
</g>
</g>
<g id="plot2">
<clipPath id="clip1"><rect x="310.6" y="8.5" width="232.2" height="172.5"/></clipPath>
<g clip-path="url(#clip1)" fill="none" stroke-linejoin="round" stroke-linecap="round">
<path d="M310.6,174.8 L310.8,174.8 L311.0,174.9 L311.2,175.0 L311.4,175.0 L311.7,174.9 L311.9,174.7 L312.1,174.5 L312.3,174.7 L312.5,174.8 L312.7,174.6 L312.9,174.5 L313.1,174.7 L313.3,174.8 L313.5,174.6 L313.8,174.6 L314.0,174.8 L314.2,174.9 L314.4,175.0 L314.6,175.0 L314.8,174.9 L315.0,174.7 L315.2,174.6 L315.4,174.3 L315.6,174.2 L315.9,174.4 L316.1,174.6 L316.3,174.3 L316.5,173.9 L316.7,173.9 L316.9,173.9 L317.1,173.8 L317.3,173.5 L317.5,173.1 L317.7,172.6 L318.0,172.2 L318.2,171.6 L318.4,170.7 L318.6,169.9 L318.8,168.6 L319.0,166.9 L319.2,165.2 L319.4,163.8 L319.6,163.0 L319.8,163.5 L320.1,165.2 L320.3,166.9 L320.5,168.5 L320.7,169.7 L320.9,170.5 L321.1,171.4 L321.3,172.3 L321.5,172.6 L321.7,172.8 L321.9,173.1 L322.2,173.3 L322.4,173.5 L322.6,173.5 L322.8,173.6 L323.0,173.9 L323.2,174.1 L323.4,174.2 L323.6,174.3 L323.8,174.5 L324.0,174.5 L324.2,174.3 L324.5,174.1 L324.7,174.2 L324.9,174.6 L325.1,174.6 L325.3,174.6 L325.5,174.8 L325.7,174.7 L325.9,174.4 L326.1,174.2 L326.4,174.3 L326.6,174.6 L326.8,174.7 L327.0,174.5 L327.2,174.4 L327.4,174.5 L327.6,174.6 L327.8,174.6 L328.0,174.6 L328.2,174.7 L328.5,174.8 L328.7,174.7 L328.9,174.6 L329.1,174.4 L329.3,174.4 L329.5,174.5 L329.7,174.5 L329.9,174.5 L330.1,174.5 L330.3,174.5 L330.6,174.7 L330.8,174.8 L331.0,174.8 L331.2,175.1 L331.4,175.2 L331.6,175.0 L331.8,174.8 L332.0,174.5 L332.2,174.3 L332.4,174.7 L332.7,174.8 L332.9,174.6 L333.1,174.6 L333.3,174.6 L333.5,174.6 L333.7,174.5 L333.9,174.5 L334.1,174.7 L334.3,174.7 L334.5,174.7 L334.8,174.7 L335.0,174.7 L335.2,174.6 L335.4,174.4 L335.6,174.4 L335.8,174.5 L336.0,174.6 L336.2,174.7 L336.4,174.9 L336.6,174.8 L336.9,174.6 L337.1,174.7 L337.3,174.6 L337.5,174.5 L337.7,174.4 L337.9,174.3 L338.1,174.2 L338.3,174.3 L338.5,174.4 L338.7,174.0 L339.0,173.9 L339.2,174.1 L339.4,174.3 L339.6,174.3 L339.8,174.2 L340.0,174.1 L340.2,174.1 L340.4,174.2 L340.6,174.3 L340.8,174.3 L341.1,174.2 L341.3,173.9 L341.5,173.8 L341.7,173.8 L341.9,174.0 L342.1,174.1 L342.3,174.1 L342.5,174.1 L342.7,174.0 L342.9,174.0 L343.2,174.1 L343.4,174.2 L343.6,174.0 L343.8,173.7 L344.0,173.9 L344.2,174.0 L344.4,173.7 L344.6,173.6 L344.8,173.9 L345.0,174.0 L345.2,174.0 L345.5,174.0 L345.7,173.7 L345.9,173.6 L346.1,173.7 L346.3,173.7 L346.5,173.7 L346.7,173.7 L346.9,173.8 L347.1,173.9 L347.4,173.8 L347.6,173.5 L347.8,173.5 L348.0,173.5 L348.2,173.5 L348.4,173.6 L348.6,173.6 L348.8,173.4 L349.0,173.5 L349.2,173.5 L349.5,173.3 L349.7,173.1 L349.9,173.1 L350.1,173.3 L350.3,173.5 L350.5,173.5 L350.7,173.2 L350.9,173.0 L351.1,173.1 L351.3,173.1 L351.6,172.9 L351.8,172.9 L352.0,172.9 L352.2,173.0 L352.4,172.9 L352.6,173.0 L352.8,172.9 L353.0,172.6 L353.2,172.4 L353.4,172.1 L353.7,172.2 L353.9,172.6 L354.1,172.6 L354.3,172.2 L354.5,172.2 L354.7,172.1 L354.9,172.2 L355.1,172.7 L355.3,172.9 L355.5,172.6 L355.8,172.6 L356.0,172.7 L356.2,172.8 L356.4,173.0 L356.6,173.1 L356.8,173.0 L357.0,173.1 L357.2,173.1 L357.4,172.8 L357.6,172.7 L357.9,172.7 L358.1,172.9 L358.3,173.0 L358.5,173.0 L358.7,172.9 L358.9,172.8 L359.1,172.7 L359.3,172.6 L359.5,172.4 L359.7,172.4 L360.0,172.6 L360.2,172.6 L360.4,172.5 L360.6,172.7 L360.8,172.8 L361.0,172.7 L361.2,172.4 L361.4,172.4 L361.6,172.5 L361.8,172.4 L362.1,172.3 L362.3,172.5 L362.5,172.8 L362.7,172.9 L362.9,173.0 L363.1,173.1 L363.3,172.6 L363.5,172.1 L363.7,172.3 L363.9,172.5 L364.2,172.4 L364.4,172.1 L364.6,172.1 L364.8,172.2 L365.0,172.2 L365.2,172.1 L365.4,171.9 L365.6,171.9 L365.8,172.1 L366.0,172.1 L366.2,172.1 L366.5,171.9 L366.7,171.9 L366.9,172.0 L367.1,172.0 L367.3,172.0 L367.5,171.9 L367.7,171.4 L367.9,171.3 L368.1,171.5 L368.4,171.5 L368.6,171.6 L368.8,171.9 L369.0,171.6 L369.2,171.3 L369.4,171.3 L369.6,171.4 L369.8,171.2 L370.0,170.9 L370.2,170.6 L370.5,170.5 L370.7,170.4 L370.9,170.1 L371.1,170.2 L371.3,170.2 L371.5,169.9 L371.7,169.1 L371.9,168.6 L372.1,168.2 L372.3,167.7 L372.6,167.1 L372.8,166.4 L373.0,165.4 L373.2,164.1 L373.4,162.2 L373.6,159.8 L373.8,157.0 L374.0,153.7 L374.2,150.4 L374.4,148.7 L374.7,150.0 L374.9,153.5 L375.1,157.2 L375.3,160.3 L375.5,162.6 L375.7,164.1 L375.9,165.2 L376.1,166.4 L376.3,167.3 L376.5,167.9 L376.8,168.5 L377.0,169.1 L377.2,169.5 L377.4,169.6 L377.6,169.8 L377.8,170.1 L378.0,170.1 L378.2,170.1 L378.4,170.5 L378.6,170.8 L378.9,170.8 L379.1,171.0 L379.3,171.1 L379.5,170.9 L379.7,170.8 L379.9,171.1 L380.1,171.4 L380.3,171.5 L380.5,171.5 L380.7,171.7 L381.0,171.6 L381.2,171.4 L381.4,171.5 L381.6,171.3 L381.8,171.2 L382.0,171.4 L382.2,171.3 L382.4,171.2 L382.6,171.5 L382.8,171.9 L383.1,171.9 L383.3,171.7 L383.5,171.3 L383.7,171.5 L383.9,171.9 L384.1,172.0 L384.3,171.9 L384.5,171.7 L384.7,171.7 L384.9,171.7 L385.2,171.7 L385.4,171.8 L385.6,171.7 L385.8,171.7 L386.0,171.7 L386.2,171.5 L386.4,171.3 L386.6,171.4 L386.8,171.8 L387.0,172.0 L387.2,171.9 L387.5,172.1 L387.7,172.0 L387.9,171.6 L388.1,171.5 L388.3,171.7 L388.5,172.0 L388.7,171.9 L388.9,171.7 L389.1,171.3 L389.4,171.1 L389.6,171.4 L389.8,171.7 L390.0,171.8 L390.2,171.6 L390.4,171.6 L390.6,171.7 L390.8,171.6 L391.0,171.5 L391.2,171.2 L391.5,171.0 L391.7,171.1 L391.9,171.3 L392.1,171.2 L392.3,171.3 L392.5,171.3 L392.7,171.4 L392.9,171.5 L393.1,171.4 L393.3,171.1 L393.6,171.0 L393.8,170.9 L394.0,171.0 L394.2,171.3 L394.4,171.2 L394.6,170.9 L394.8,170.8 L395.0,170.8 L395.2,170.7 L395.4,170.8 L395.7,171.1 L395.9,171.0 L396.1,170.7 L396.3,170.8 L396.5,171.0 L396.7,170.7 L396.9,170.5 L397.1,170.6 L397.3,170.8 L397.5,171.0 L397.8,170.8 L398.0,170.5 L398.2,170.5 L398.4,170.7 L398.6,170.8 L398.8,171.0 L399.0,171.2 L399.2,171.0 L399.4,170.8 L399.6,170.9 L399.9,170.8 L400.1,170.8 L400.3,171.1 L400.5,171.1 L400.7,171.0 L400.9,171.0 L401.1,171.0 L401.3,171.1 L401.5,171.1 L401.7,171.2 L402.0,171.1 L402.2,170.9 L402.4,170.8 L402.6,171.0 L402.8,171.0 L403.0,171.0 L403.2,170.9 L403.4,170.7 L403.6,170.6 L403.8,170.6 L404.1,170.7 L404.3,170.7 L404.5,170.8 L404.7,170.8 L404.9,170.7 L405.1,170.6 L405.3,170.6 L405.5,170.7 L405.7,170.8 L405.9,170.7 L406.2,170.5 L406.4,170.5 L406.6,170.7 L406.8,170.8 L407.0,170.8 L407.2,170.7 L407.4,170.8 L407.6,170.9 L407.8,170.6 L408.0,170.4 L408.2,170.7 L408.5,170.8 L408.7,170.8 L408.9,170.6 L409.1,170.5 L409.3,170.6 L409.5,170.5 L409.7,170.4 L409.9,170.4 L410.1,170.4 L410.4,170.5 L410.6,170.7 L410.8,170.5 L411.0,170.1 L411.2,170.1 L411.4,170.2 L411.6,170.2 L411.8,170.2 L412.0,170.0 L412.2,169.9 L412.5,170.3 L412.7,170.6 L412.9,170.5 L413.1,170.3 L413.3,170.0 L413.5,169.9 L413.7,170.2 L413.9,170.4 L414.1,170.0 L414.3,170.0 L414.6,170.3 L414.8,170.2 L415.0,170.0 L415.2,169.9 L415.4,170.0 L415.6,170.1 L415.8,170.2 L416.0,170.0 L416.2,169.6 L416.4,169.5 L416.7,169.8 L416.9,170.1 L417.1,170.1 L417.3,169.9 L417.5,169.7 L417.7,169.7 L417.9,169.7 L418.1,169.8 L418.3,169.7 L418.5,169.4 L418.8,169.1 L419.0,169.0 L419.2,169.4 L419.4,169.6 L419.6,169.5 L419.8,169.5 L420.0,169.5 L420.2,169.5 L420.4,169.4 L420.6,169.2 L420.9,169.1 L421.1,169.2 L421.3,169.2 L421.5,169.3 L421.7,169.3 L421.9,169.2 L422.1,169.1 L422.3,169.0 L422.5,169.0 L422.7,169.1 L423.0,169.1 L423.2,169.1 L423.4,169.0 L423.6,169.0 L423.8,169.0 L424.0,168.7 L424.2,168.5 L424.4,168.5 L424.6,168.5 L424.8,168.5 L425.1,168.5 L425.3,168.4 L425.5,168.2 L425.7,168.1 L425.9,168.1 L426.1,167.8 L426.3,167.6 L426.5,167.5 L426.7,167.3 L426.9,167.2 L427.2,167.1 L427.4,166.7 L427.6,166.3 L427.8,166.0 L428.0,165.8 L428.2,165.7 L428.4,165.4 L428.6,165.0 L428.8,164.9 L429.0,165.0 L429.2,165.2 L429.5,165.1 L429.7,165.0 L429.9,165.2 L430.1,165.8 L430.3,166.2 L430.5,166.2 L430.7,166.6 L430.9,167.1 L431.1,167.2 L431.4,167.4 L431.6,167.6 L431.8,167.4 L432.0,167.3 L432.2,167.5 L432.4,167.4 L432.6,167.2 L432.8,167.3 L433.0,167.7 L433.2,168.0 L433.5,168.2 L433.7,168.1 L433.9,167.9 L434.1,167.9 L434.3,167.9 L434.5,167.9 L434.7,168.1 L434.9,168.1 L435.1,167.9 L435.3,167.8 L435.6,167.8 L435.8,168.0 L436.0,168.1 L436.2,168.2 L436.4,168.4 L436.6,168.4 L436.8,168.2 L437.0,168.0 L437.2,168.2 L437.4,168.4 L437.7,168.4 L437.9,168.3 L438.1,168.5 L438.3,168.6 L438.5,168.3 L438.7,167.9 L438.9,168.0 L439.1,168.1 L439.3,168.0 L439.5,168.1 L439.8,168.4 L440.0,168.2 L440.2,167.9 L440.4,167.7 L440.6,167.5 L440.8,167.6 L441.0,167.8 L441.2,167.8 L441.4,167.8 L441.6,167.9 L441.9,167.8 L442.1,167.5 L442.3,167.4 L442.5,167.7 L442.7,167.8 L442.9,167.6 L443.1,167.5 L443.3,167.5 L443.5,167.5 L443.7,167.7 L444.0,167.8 L444.2,167.6 L444.4,167.4 L444.6,167.4 L444.8,167.8 L445.0,167.7 L445.2,167.5 L445.4,167.6 L445.6,167.5 L445.8,167.2 L446.1,167.0 L446.3,167.0 L446.5,167.0 L446.7,166.8 L446.9,166.7 L447.1,166.6 L447.3,166.7 L447.5,166.6 L447.7,166.3 L447.9,166.1 L448.2,165.7 L448.4,165.5 L448.6,165.4 L448.8,165.1 L449.0,164.7 L449.2,164.4 L449.4,164.3 L449.6,164.1 L449.8,163.7 L450.0,163.4 L450.2,163.6 L450.5,164.2 L450.7,164.4 L450.9,164.6 L451.1,165.1 L451.3,165.5 L451.5,165.6 L451.7,165.8 L451.9,166.2 L452.1,166.6 L452.4,166.6 L452.6,166.4 L452.8,166.5 L453.0,166.6 L453.2,166.5 L453.4,166.6 L453.6,166.7 L453.8,166.8 L454.0,166.9 L454.2,167.0 L454.5,167.0 L454.7,166.8 L454.9,166.8 L455.1,167.0 L455.3,167.0 L455.5,166.9 L455.7,166.9 L455.9,167.2 L456.1,167.3 L456.3,166.9 L456.6,166.4 L456.8,166.5 L457.0,166.8 L457.2,166.6 L457.4,166.5 L457.6,166.8 L457.8,166.9 L458.0,166.6 L458.2,166.6 L458.4,166.7 L458.6,166.7 L458.9,166.4 L459.1,166.3 L459.3,166.5 L459.5,166.8 L459.7,167.0 L459.9,166.8 L460.1,166.7 L460.3,166.6 L460.5,166.6 L460.8,166.8 L461.0,167.0 L461.2,166.8 L461.4,166.8 L461.6,166.8 L461.8,166.8 L462.0,166.9 L462.2,166.9 L462.4,166.5 L462.6,166.3 L462.9,166.1 L463.1,166.0 L463.3,166.4 L463.5,166.8 L463.7,166.8 L463.9,166.7 L464.1,166.6 L464.3,166.6 L464.5,166.7 L464.7,166.6 L465.0,166.5 L465.2,166.4 L465.4,166.3 L465.6,166.3 L465.8,166.3 L466.0,166.3 L466.2,166.5 L466.4,166.5 L466.6,166.1 L466.8,165.6 L467.1,165.5 L467.3,165.6 L467.5,165.8 L467.7,165.9 L467.9,165.8 L468.1,165.8 L468.3,166.0 L468.5,165.9 L468.7,165.9 L468.9,165.9 L469.2,166.0 L469.4,166.0 L469.6,165.7 L469.8,165.4 L470.0,165.6 L470.2,165.7 L470.4,165.5 L470.6,165.6 L470.8,165.8 L471.0,165.6 L471.2,165.4 L471.5,165.4 L471.7,165.3 L471.9,165.3 L472.1,165.4 L472.3,165.5 L472.5,165.4 L472.7,165.3 L472.9,165.6 L473.1,165.7 L473.4,165.4 L473.6,165.2 L473.8,165.0 L474.0,165.1 L474.2,165.3 L474.4,165.2 L474.6,165.2 L474.8,165.2 L475.0,165.1 L475.2,165.4 L475.5,165.5 L475.7,165.4 L475.9,165.3 L476.1,165.2 L476.3,164.9 L476.5,164.7 L476.7,164.6 L476.9,164.9 L477.1,165.2 L477.3,165.1 L477.6,165.1 L477.8,165.0 L478.0,164.8 L478.2,164.9 L478.4,165.0 L478.6,164.7 L478.8,164.5 L479.0,164.5 L479.2,164.5 L479.4,164.4 L479.7,164.3 L479.9,164.2 L480.1,164.2 L480.3,164.3 L480.5,164.4 L480.7,164.6 L480.9,164.5 L481.1,164.3 L481.3,164.4 L481.5,164.3 L481.8,164.0 L482.0,164.1 L482.2,164.5 L482.4,164.6 L482.6,164.3 L482.8,164.2 L483.0,164.2 L483.2,164.1 L483.4,164.0 L483.6,164.0 L483.9,164.0 L484.1,163.9 L484.3,163.5 L484.5,163.4 L484.7,163.8 L484.9,164.0 L485.1,163.9 L485.3,163.7 L485.5,163.9 L485.7,163.8 L486.0,163.7 L486.2,163.8 L486.4,163.8 L486.6,163.9 L486.8,164.0 L487.0,163.9 L487.2,163.6 L487.4,163.4 L487.6,163.5 L487.8,163.7 L488.1,163.5 L488.3,163.1 L488.5,163.1 L488.7,163.3 L488.9,163.3 L489.1,163.2 L489.3,163.3 L489.5,163.4 L489.7,163.2 L489.9,162.8 L490.1,162.7 L490.4,162.8 L490.6,162.8 L490.8,162.8 L491.0,162.9 L491.2,162.7 L491.4,162.3 L491.6,162.5 L491.8,162.8 L492.0,162.7 L492.2,162.5 L492.5,162.4 L492.7,162.7 L492.9,162.9 L493.1,162.7 L493.3,162.5 L493.5,162.3 L493.7,162.2 L493.9,162.2 L494.1,162.3 L494.4,162.4 L494.6,162.1 L494.8,161.8 L495.0,161.9 L495.2,162.1 L495.4,162.0 L495.6,161.9 L495.8,162.2 L496.0,162.2 L496.2,161.9 L496.5,161.9 L496.7,162.0 L496.9,162.0 L497.1,162.0 L497.3,161.9 L497.5,162.0 L497.7,162.1 L497.9,161.9 L498.1,161.7 L498.3,161.9 L498.6,161.8 L498.8,161.7 L499.0,161.8 L499.2,161.8 L499.4,161.7 L499.6,161.3 L499.8,160.9 L500.0,161.0 L500.2,161.3 L500.4,161.4 L500.7,161.3 L500.9,161.3 L501.1,161.2 L501.3,161.4 L501.5,161.3 L501.7,161.1 L501.9,161.0 L502.1,161.1 L502.3,161.3 L502.5,161.1 L502.8,161.0 L503.0,161.0 L503.2,161.1 L503.4,161.3 L503.6,161.4 L503.8,161.0 L504.0,160.8 L504.2,160.9 L504.4,160.8 L504.6,160.7 L504.9,160.9 L505.1,161.0 L505.3,160.8 L505.5,160.7 L505.7,160.8 L505.9,160.7 L506.1,160.8 L506.3,160.8 L506.5,160.5 L506.7,160.6 L507.0,160.8 L507.2,160.7 L507.4,160.3 L507.6,160.3 L507.8,160.4 L508.0,160.3 L508.2,160.3 L508.4,160.4 L508.6,160.4 L508.8,160.4 L509.1,160.4 L509.3,160.4 L509.5,160.3 L509.7,160.3 L509.9,160.3 L510.1,160.2 L510.3,160.0 L510.5,159.9 L510.7,159.8 L510.9,159.7 L511.1,159.6 L511.4,159.6 L511.6,159.8 L511.8,159.9 L512.0,159.7 L512.2,159.4 L512.4,159.6 L512.6,160.1 L512.8,160.1 L513.0,159.7 L513.2,159.5 L513.5,159.5 L513.7,159.6 L513.9,159.5 L514.1,159.5 L514.3,159.5 L514.5,159.6 L514.7,159.8 L514.9,159.7 L515.1,159.5 L515.4,159.4 L515.6,159.5 L515.8,159.5 L516.0,159.5 L516.2,159.5 L516.4,159.7 L516.6,159.6 L516.8,159.3 L517.0,159.0 L517.2,159.0 L517.5,159.0 L517.7,159.0 L517.9,159.0 L518.1,159.0 L518.3,158.9 L518.5,158.8 L518.7,159.0 L518.9,159.0 L519.1,159.0 L519.3,159.0 L519.5,158.9 L519.8,158.8 L520.0,158.7 L520.2,158.8 L520.4,158.8 L520.6,158.7 L520.8,158.6 L521.0,158.5 L521.2,158.3 L521.4,158.2 L521.7,158.1 L521.9,158.3 L522.1,158.6 L522.3,158.6 L522.5,158.4 L522.7,158.4 L522.9,158.4 L523.1,158.5 L523.3,158.7 L523.5,158.7 L523.8,158.6 L524.0,158.4 L524.2,158.3 L524.4,158.4 L524.6,158.2 L524.8,158.2 L525.0,158.4 L525.2,158.6 L525.4,158.5 L525.6,158.5 L525.9,158.1 L526.1,157.8 L526.3,157.9 L526.5,157.9 L526.7,158.0 L526.9,157.9 L527.1,157.8 L527.3,157.7 L527.5,157.4 L527.7,157.3 L528.0,157.4 L528.2,157.6 L528.4,157.7 L528.6,157.5 L528.8,157.4 L529.0,157.3 L529.2,157.2 L529.4,157.3 L529.6,157.6 L529.8,157.5 L530.0,157.2 L530.3,157.3 L530.5,157.4 L530.7,157.4 L530.9,157.4 L531.1,157.0 L531.3,156.6 L531.5,156.8 L531.7,157.2 L531.9,157.3 L532.2,157.0 L532.4,156.9 L532.6,157.0 L532.8,157.0 L533.0,156.7 L533.2,156.6 L533.4,156.9 L533.6,157.1 L533.8,157.1 L534.0,157.1 L534.2,157.0 L534.5,156.7 L534.7,156.6 L534.9,156.4 L535.1,156.1 L535.3,156.2 L535.5,156.5 L535.7,156.3 L535.9,156.2 L536.1,156.5 L536.4,156.6 L536.6,156.5 L536.8,156.4 L537.0,156.3 L537.2,156.6 L537.4,156.6 L537.6,156.3 L537.8,156.1 L538.0,156.0 L538.2,156.0 L538.5,155.9 L538.7,156.0 L538.9,156.2 L539.1,156.1 L539.3,156.0 L539.5,155.8 L539.7,155.8 L539.9,155.9 L540.1,155.8 L540.3,155.6 L540.6,155.6 L540.8,155.5 L541.0,155.1 L541.2,155.1 L541.4,155.5 L541.6,155.6" stroke="#555555" stroke-width="1.05"/>
<path d="M310.6,148.4 L310.8,148.5 L311.0,148.4 L311.2,148.4 L311.4,148.4 L311.7,148.3 L311.9,148.1 L312.1,147.9 L312.3,147.8 L312.5,147.7 L312.7,147.8 L312.9,147.9 L313.1,147.8 L313.3,147.8 L313.5,148.0 L313.8,148.0 L314.0,147.9 L314.2,147.9 L314.4,148.0 L314.6,148.0 L314.8,147.9 L315.0,148.0 L315.2,148.1 L315.4,148.0 L315.6,148.0 L315.9,148.0 L316.1,148.0 L316.3,148.0 L316.5,148.0 L316.7,147.9 L316.9,148.1 L317.1,148.3 L317.3,148.0 L317.5,147.8 L317.7,147.8 L318.0,147.6 L318.2,147.6 L318.4,148.0 L318.6,148.3 L318.8,148.1 L319.0,147.8 L319.2,148.0 L319.4,148.2 L319.6,148.1 L319.8,147.9 L320.1,147.8 L320.3,147.7 L320.5,147.7 L320.7,147.9 L320.9,148.0 L321.1,148.0 L321.3,147.9 L321.5,148.0 L321.7,147.9 L321.9,147.6 L322.2,147.6 L322.4,147.5 L322.6,147.3 L322.8,147.5 L323.0,147.7 L323.2,147.8 L323.4,147.8 L323.6,147.7 L323.8,147.6 L324.0,147.5 L324.2,147.7 L324.5,147.8 L324.7,147.7 L324.9,147.6 L325.1,147.5 L325.3,147.5 L325.5,147.7 L325.7,147.6 L325.9,147.4 L326.1,147.5 L326.4,147.5 L326.6,147.4 L326.8,147.5 L327.0,147.8 L327.2,147.8 L327.4,147.4 L327.6,147.3 L327.8,147.5 L328.0,147.5 L328.2,147.4 L328.5,147.4 L328.7,147.6 L328.9,147.7 L329.1,147.6 L329.3,147.7 L329.5,147.8 L329.7,147.8 L329.9,147.7 L330.1,147.7 L330.3,147.7 L330.6,147.6 L330.8,147.5 L331.0,147.6 L331.2,147.7 L331.4,147.6 L331.6,147.6 L331.8,147.7 L332.0,147.7 L332.2,147.6 L332.4,147.5 L332.7,147.6 L332.9,147.5 L333.1,147.3 L333.3,147.4 L333.5,147.7 L333.7,147.7 L333.9,147.5 L334.1,147.5 L334.3,147.6 L334.5,147.6 L334.8,147.6 L335.0,147.6 L335.2,147.3 L335.4,147.2 L335.6,147.4 L335.8,147.4 L336.0,147.4 L336.2,147.5 L336.4,147.4 L336.6,147.3 L336.9,147.3 L337.1,147.3 L337.3,147.4 L337.5,147.4 L337.7,147.4 L337.9,147.4 L338.1,147.5 L338.3,147.6 L338.5,147.5 L338.7,147.3 L339.0,147.3 L339.2,147.3 L339.4,147.2 L339.6,147.2 L339.8,147.4 L340.0,147.4 L340.2,147.3 L340.4,147.4 L340.6,147.6 L340.8,147.6 L341.1,147.5 L341.3,147.5 L341.5,147.6 L341.7,147.5 L341.9,147.3 L342.1,147.2 L342.3,147.2 L342.5,147.1 L342.7,147.2 L342.9,147.2 L343.2,147.1 L343.4,147.3 L343.6,147.3 L343.8,147.4 L344.0,147.2 L344.2,146.9 L344.4,147.1 L344.6,147.2 L344.8,147.0 L345.0,147.1 L345.2,147.3 L345.5,147.3 L345.7,147.3 L345.9,147.0 L346.1,146.9 L346.3,147.0 L346.5,147.1 L346.7,147.1 L346.9,147.3 L347.1,147.5 L347.4,147.4 L347.6,147.3 L347.8,147.4 L348.0,147.2 L348.2,147.1 L348.4,147.1 L348.6,147.1 L348.8,147.0 L349.0,147.1 L349.2,147.2 L349.5,147.2 L349.7,147.1 L349.9,147.1 L350.1,147.1 L350.3,146.9 L350.5,146.7 L350.7,146.6 L350.9,146.6 L351.1,146.7 L351.3,147.0 L351.6,147.1 L351.8,147.0 L352.0,146.9 L352.2,146.8 L352.4,146.6 L352.6,146.5 L352.8,146.6 L353.0,146.5 L353.2,146.6 L353.4,146.6 L353.7,146.3 L353.9,146.0 L354.1,145.6 L354.3,145.0 L354.5,144.7 L354.7,145.1 L354.9,145.4 L355.1,145.5 L355.3,145.9 L355.5,146.2 L355.8,146.4 L356.0,146.4 L356.2,146.6 L356.4,146.9 L356.6,147.3 L356.8,147.2 L357.0,146.9 L357.2,146.7 L357.4,146.6 L357.6,146.7 L357.9,146.9 L358.1,146.8 L358.3,146.7 L358.5,146.9 L358.7,146.8 L358.9,146.7 L359.1,147.0 L359.3,147.0 L359.5,146.7 L359.7,146.8 L360.0,147.0 L360.2,147.0 L360.4,146.7 L360.6,146.5 L360.8,146.5 L361.0,146.5 L361.2,146.5 L361.4,146.6 L361.6,146.7 L361.8,146.6 L362.1,146.7 L362.3,146.8 L362.5,146.6 L362.7,146.5 L362.9,146.7 L363.1,146.8 L363.3,146.9 L363.5,146.7 L363.7,146.5 L363.9,146.5 L364.2,146.6 L364.4,146.6 L364.6,146.7 L364.8,146.6 L365.0,146.5 L365.2,146.4 L365.4,146.4 L365.6,146.5 L365.8,146.6 L366.0,146.6 L366.2,146.5 L366.5,146.4 L366.7,146.3 L366.9,146.4 L367.1,146.3 L367.3,146.3 L367.5,146.3 L367.7,146.2 L367.9,146.2 L368.1,146.1 L368.4,145.9 L368.6,145.8 L368.8,145.8 L369.0,145.9 L369.2,145.7 L369.4,145.6 L369.6,145.8 L369.8,145.8 L370.0,145.4 L370.2,145.1 L370.5,145.1 L370.7,144.8 L370.9,144.6 L371.1,144.5 L371.3,144.3 L371.5,143.9 L371.7,143.7 L371.9,143.4 L372.1,142.7 L372.3,142.1 L372.6,141.2 L372.8,140.4 L373.0,139.4 L373.2,137.8 L373.4,135.8 L373.6,133.1 L373.8,129.6 L374.0,125.3 L374.2,120.8 L374.4,118.4 L374.7,120.5 L374.9,125.3 L375.1,129.8 L375.3,133.3 L375.5,136.0 L375.7,137.9 L375.9,139.4 L376.1,140.5 L376.3,141.4 L376.5,142.2 L376.8,142.9 L377.0,143.4 L377.2,143.9 L377.4,144.3 L377.6,144.5 L377.8,144.6 L378.0,144.6 L378.2,144.6 L378.4,144.9 L378.6,145.3 L378.9,145.5 L379.1,145.6 L379.3,145.6 L379.5,145.5 L379.7,145.5 L379.9,145.7 L380.1,145.9 L380.3,145.9 L380.5,146.0 L380.7,145.9 L381.0,145.7 L381.2,145.7 L381.4,145.7 L381.6,145.9 L381.8,146.1 L382.0,146.3 L382.2,146.3 L382.4,146.2 L382.6,146.0 L382.8,145.9 L383.1,146.1 L383.3,146.1 L383.5,145.9 L383.7,145.9 L383.9,146.1 L384.1,146.2 L384.3,146.1 L384.5,146.2 L384.7,146.2 L384.9,146.2 L385.2,146.2 L385.4,146.3 L385.6,146.6 L385.8,146.5 L386.0,146.3 L386.2,146.3 L386.4,146.3 L386.6,146.2 L386.8,146.3 L387.0,146.3 L387.2,146.2 L387.5,146.2 L387.7,146.4 L387.9,146.5 L388.1,146.5 L388.3,146.5 L388.5,146.5 L388.7,146.3 L388.9,146.2 L389.1,146.2 L389.4,146.3 L389.6,146.3 L389.8,146.1 L390.0,146.0 L390.2,145.9 L390.4,146.2 L390.6,146.3 L390.8,146.1 L391.0,145.9 L391.2,146.1 L391.5,146.4 L391.7,146.3 L391.9,146.1 L392.1,146.2 L392.3,146.3 L392.5,146.4 L392.7,146.5 L392.9,146.5 L393.1,146.5 L393.3,146.4 L393.6,146.2 L393.8,146.2 L394.0,146.2 L394.2,146.2 L394.4,146.4 L394.6,146.5 L394.8,146.3 L395.0,146.3 L395.2,146.5 L395.4,146.6 L395.7,146.4 L395.9,146.2 L396.1,146.2 L396.3,146.1 L396.5,146.1 L396.7,146.0 L396.9,146.0 L397.1,146.3 L397.3,146.7 L397.5,146.6 L397.8,146.2 L398.0,146.0 L398.2,146.1 L398.4,146.2 L398.6,146.3 L398.8,146.2 L399.0,146.2 L399.2,146.2 L399.4,146.3 L399.6,146.3 L399.9,146.2 L400.1,146.1 L400.3,146.1 L400.5,146.3 L400.7,146.2 L400.9,146.1 L401.1,146.1 L401.3,146.2 L401.5,146.2 L401.7,146.1 L402.0,145.9 L402.2,146.0 L402.4,146.1 L402.6,146.2 L402.8,146.4 L403.0,146.4 L403.2,146.3 L403.4,146.3 L403.6,146.3 L403.8,146.2 L404.1,146.0 L404.3,145.9 L404.5,146.2 L404.7,146.3 L404.9,146.1 L405.1,146.1 L405.3,146.2 L405.5,146.0 L405.7,146.1 L405.9,146.3 L406.2,146.3 L406.4,146.3 L406.6,146.3 L406.8,146.1 L407.0,145.9 L407.2,146.0 L407.4,146.2 L407.6,146.2 L407.8,146.1 L408.0,146.0 L408.2,146.1 L408.5,146.3 L408.7,146.3 L408.9,146.3 L409.1,146.0 L409.3,145.9 L409.5,146.0 L409.7,146.1 L409.9,146.2 L410.1,146.1 L410.4,146.0 L410.6,146.0 L410.8,146.0 L411.0,146.0 L411.2,146.0 L411.4,146.0 L411.6,145.9 L411.8,146.0 L412.0,146.1 L412.2,146.2 L412.5,146.2 L412.7,146.1 L412.9,146.0 L413.1,146.0 L413.3,146.0 L413.5,146.1 L413.7,146.1 L413.9,146.1 L414.1,146.0 L414.3,146.0 L414.6,146.0 L414.8,146.1 L415.0,146.1 L415.2,146.1 L415.4,146.3 L415.6,146.2 L415.8,145.9 L416.0,145.9 L416.2,146.0 L416.4,146.1 L416.7,146.2 L416.9,146.0 L417.1,145.9 L417.3,145.9 L417.5,145.9 L417.7,145.9 L417.9,145.9 L418.1,145.8 L418.3,145.9 L418.5,145.9 L418.8,145.7 L419.0,145.7 L419.2,145.8 L419.4,145.9 L419.6,145.9 L419.8,145.9 L420.0,145.8 L420.2,145.8 L420.4,145.8 L420.6,145.9 L420.9,145.9 L421.1,145.7 L421.3,145.5 L421.5,145.4 L421.7,145.6 L421.9,145.6 L422.1,145.6 L422.3,145.6 L422.5,145.3 L422.7,145.2 L423.0,145.4 L423.2,145.6 L423.4,145.5 L423.6,145.4 L423.8,145.5 L424.0,145.5 L424.2,145.2 L424.4,145.0 L424.6,145.0 L424.8,144.9 L425.1,144.7 L425.3,144.6 L425.5,144.9 L425.7,145.1 L425.9,144.8 L426.1,144.4 L426.3,144.3 L426.5,144.3 L426.7,144.1 L426.9,143.7 L427.2,143.4 L427.4,143.0 L427.6,142.6 L427.8,142.2 L428.0,141.8 L428.2,141.1 L428.4,140.5 L428.6,140.0 L428.8,139.7 L429.0,139.7 L429.2,139.9 L429.5,140.3 L429.7,140.6 L429.9,141.0 L430.1,141.6 L430.3,142.1 L430.5,142.5 L430.7,143.0 L430.9,143.4 L431.1,143.5 L431.4,143.6 L431.6,143.9 L431.8,144.2 L432.0,144.4 L432.2,144.7 L432.4,144.9 L432.6,144.8 L432.8,144.7 L433.0,144.7 L433.2,145.0 L433.5,145.0 L433.7,144.9 L433.9,145.0 L434.1,145.0 L434.3,144.9 L434.5,145.0 L434.7,145.1 L434.9,145.1 L435.1,145.1 L435.3,145.3 L435.6,145.5 L435.8,145.5 L436.0,145.3 L436.2,145.3 L436.4,145.4 L436.6,145.2 L436.8,145.2 L437.0,145.2 L437.2,145.3 L437.4,145.3 L437.7,145.2 L437.9,145.2 L438.1,145.0 L438.3,144.8 L438.5,144.9 L438.7,145.1 L438.9,145.2 L439.1,145.1 L439.3,145.0 L439.5,144.9 L439.8,144.9 L440.0,145.1 L440.2,145.1 L440.4,144.9 L440.6,144.9 L440.8,144.8 L441.0,144.7 L441.2,144.8 L441.4,144.8 L441.6,145.0 L441.9,145.1 L442.1,145.0 L442.3,144.8 L442.5,144.8 L442.7,144.9 L442.9,144.8 L443.1,144.6 L443.3,144.6 L443.5,144.6 L443.7,144.9 L444.0,144.9 L444.2,144.8 L444.4,144.5 L444.6,144.4 L444.8,144.4 L445.0,144.4 L445.2,144.3 L445.4,144.3 L445.6,144.2 L445.8,144.1 L446.1,143.8 L446.3,143.8 L446.5,144.0 L446.7,143.9 L446.9,143.6 L447.1,143.6 L447.3,143.4 L447.5,143.4 L447.7,143.2 L447.9,142.7 L448.2,142.5 L448.4,142.5 L448.6,142.2 L448.8,141.8 L449.0,141.4 L449.2,140.8 L449.4,140.2 L449.6,139.9 L449.8,139.6 L450.0,139.4 L450.2,139.3 L450.5,139.5 L450.7,139.8 L450.9,139.9 L451.1,140.1 L451.3,140.5 L451.5,141.1 L451.7,141.5 L451.9,141.7 L452.1,141.8 L452.4,142.2 L452.6,142.7 L452.8,143.0 L453.0,143.1 L453.2,143.1 L453.4,143.4 L453.6,143.6 L453.8,143.4 L454.0,143.4 L454.2,143.5 L454.5,143.5 L454.7,143.9 L454.9,144.0 L455.1,143.8 L455.3,143.8 L455.5,143.7 L455.7,143.6 L455.9,143.6 L456.1,143.8 L456.3,144.1 L456.6,144.2 L456.8,144.2 L457.0,144.2 L457.2,144.2 L457.4,144.1 L457.6,144.0 L457.8,143.9 L458.0,144.1 L458.2,144.2 L458.4,144.1 L458.6,144.1 L458.9,144.1 L459.1,143.9 L459.3,143.8 L459.5,144.0 L459.7,144.3 L459.9,144.2 L460.1,143.8 L460.3,143.5 L460.5,143.6 L460.8,143.9 L461.0,144.1 L461.2,144.2 L461.4,144.1 L461.6,143.9 L461.8,143.8 L462.0,144.0 L462.2,144.0 L462.4,143.8 L462.6,143.8 L462.9,144.0 L463.1,144.0 L463.3,143.9 L463.5,144.0 L463.7,144.1 L463.9,143.9 L464.1,143.7 L464.3,143.6 L464.5,143.7 L464.7,143.8 L465.0,143.8 L465.2,143.8 L465.4,143.8 L465.6,143.7 L465.8,143.7 L466.0,143.8 L466.2,143.7 L466.4,143.5 L466.6,143.7 L466.8,143.9 L467.1,143.7 L467.3,143.5 L467.5,143.4 L467.7,143.5 L467.9,143.6 L468.1,143.5 L468.3,143.4 L468.5,143.3 L468.7,143.5 L468.9,143.6 L469.2,143.5 L469.4,143.3 L469.6,143.2 L469.8,143.2 L470.0,143.2 L470.2,143.1 L470.4,143.0 L470.6,142.9 L470.8,143.1 L471.0,143.1 L471.2,142.9 L471.5,142.9 L471.7,143.0 L471.9,143.0 L472.1,143.1 L472.3,143.1 L472.5,142.9 L472.7,142.8 L472.9,142.7 L473.1,142.7 L473.4,142.8 L473.6,143.0 L473.8,143.1 L474.0,143.1 L474.2,143.1 L474.4,142.9 L474.6,142.7 L474.8,142.8 L475.0,143.0 L475.2,143.1 L475.5,143.2 L475.7,143.0 L475.9,142.8 L476.1,142.7 L476.3,142.7 L476.5,142.5 L476.7,142.5 L476.9,142.6 L477.1,142.7 L477.3,142.8 L477.6,142.8 L477.8,143.0 L478.0,143.1 L478.2,142.7 L478.4,142.5 L478.6,142.6 L478.8,142.6 L479.0,142.7 L479.2,142.6 L479.4,142.4 L479.7,142.5 L479.9,142.5 L480.1,142.3 L480.3,142.2 L480.5,142.1 L480.7,142.0 L480.9,142.2 L481.1,142.2 L481.3,142.2 L481.5,142.4 L481.8,142.3 L482.0,142.1 L482.2,142.2 L482.4,142.2 L482.6,142.2 L482.8,142.2 L483.0,142.2 L483.2,142.2 L483.4,142.4 L483.6,142.4 L483.9,142.1 L484.1,141.9 L484.3,142.0 L484.5,142.0 L484.7,141.8 L484.9,141.6 L485.1,141.7 L485.3,141.9 L485.5,141.9 L485.7,141.8 L486.0,141.8 L486.2,141.7 L486.4,141.6 L486.6,141.8 L486.8,141.9 L487.0,141.6 L487.2,141.5 L487.4,141.7 L487.6,141.7 L487.8,141.3 L488.1,141.3 L488.3,141.5 L488.5,141.5 L488.7,141.5 L488.9,141.5 L489.1,141.3 L489.3,141.4 L489.5,141.6 L489.7,141.5 L489.9,141.4 L490.1,141.4 L490.4,141.5 L490.6,141.5 L490.8,141.4 L491.0,141.3 L491.2,141.2 L491.4,141.1 L491.6,141.0 L491.8,141.1 L492.0,141.3 L492.2,141.4 L492.5,141.3 L492.7,141.2 L492.9,141.1 L493.1,140.9 L493.3,141.0 L493.5,141.2 L493.7,141.2 L493.9,141.0 L494.1,141.0 L494.4,141.1 L494.6,141.2 L494.8,141.0 L495.0,140.8 L495.2,140.8 L495.4,141.0 L495.6,140.9 L495.8,140.8 L496.0,140.8 L496.2,140.8 L496.5,140.6 L496.7,140.6 L496.9,140.5 L497.1,140.3 L497.3,140.2 L497.5,140.3 L497.7,140.3 L497.9,140.2 L498.1,140.3 L498.3,140.3 L498.6,140.2 L498.8,140.1 L499.0,140.2 L499.2,140.5 L499.4,140.5 L499.6,140.3 L499.8,140.1 L500.0,140.2 L500.2,140.3 L500.4,140.2 L500.7,140.0 L500.9,140.0 L501.1,139.9 L501.3,139.8 L501.5,139.8 L501.7,139.8 L501.9,139.7 L502.1,139.7 L502.3,139.7 L502.5,139.8 L502.8,139.8 L503.0,139.6 L503.2,139.4 L503.4,139.6 L503.6,139.7 L503.8,139.6 L504.0,139.5 L504.2,139.5 L504.4,139.4 L504.6,139.3 L504.9,139.1 L505.1,139.1 L505.3,139.2 L505.5,139.2 L505.7,139.2 L505.9,139.1 L506.1,139.2 L506.3,139.2 L506.5,138.9 L506.7,138.6 L507.0,138.6 L507.2,138.7 L507.4,138.8 L507.6,138.7 L507.8,138.8 L508.0,138.9 L508.2,138.9 L508.4,138.7 L508.6,138.6 L508.8,138.5 L509.1,138.4 L509.3,138.4 L509.5,138.3 L509.7,138.3 L509.9,138.5 L510.1,138.7 L510.3,138.5 L510.5,138.3 L510.7,138.3 L510.9,138.3 L511.1,138.2 L511.4,138.0 L511.6,137.8 L511.8,137.9 L512.0,137.9 L512.2,137.9 L512.4,138.0 L512.6,137.9 L512.8,137.8 L513.0,137.8 L513.2,137.7 L513.5,137.5 L513.7,137.4 L513.9,137.6 L514.1,137.6 L514.3,137.6 L514.5,137.6 L514.7,137.5 L514.9,137.6 L515.1,137.4 L515.4,137.1 L515.6,137.2 L515.8,137.4 L516.0,137.2 L516.2,136.8 L516.4,136.7 L516.6,136.7 L516.8,136.9 L517.0,137.1 L517.2,136.9 L517.5,136.7 L517.7,136.7 L517.9,136.8 L518.1,136.8 L518.3,136.7 L518.5,136.6 L518.7,136.3 L518.9,136.2 L519.1,136.2 L519.3,136.2 L519.5,136.3 L519.8,136.4 L520.0,136.3 L520.2,136.0 L520.4,135.9 L520.6,135.7 L520.8,135.6 L521.0,135.7 L521.2,135.8 L521.4,135.8 L521.7,135.6 L521.9,135.4 L522.1,135.4 L522.3,135.5 L522.5,135.7 L522.7,135.6 L522.9,135.2 L523.1,135.1 L523.3,135.2 L523.5,135.2 L523.8,135.1 L524.0,135.1 L524.2,135.0 L524.4,135.0 L524.6,135.0 L524.8,135.0 L525.0,134.9 L525.2,134.7 L525.4,134.7 L525.6,134.7 L525.9,134.7 L526.1,134.7 L526.3,134.7 L526.5,134.6 L526.7,134.4 L526.9,134.3 L527.1,134.4 L527.3,134.4 L527.5,134.2 L527.7,134.2 L528.0,134.2 L528.2,133.9 L528.4,133.8 L528.6,133.9 L528.8,133.9 L529.0,133.8 L529.2,133.8 L529.4,133.7 L529.6,133.7 L529.8,133.6 L530.0,133.6 L530.3,133.7 L530.5,133.6 L530.7,133.5 L530.9,133.4 L531.1,133.3 L531.3,133.2 L531.5,133.1 L531.7,133.1 L531.9,133.1 L532.2,133.0 L532.4,132.8 L532.6,132.7 L532.8,132.7 L533.0,132.8 L533.2,132.6 L533.4,132.5 L533.6,132.4 L533.8,132.4 L534.0,132.4 L534.2,132.5 L534.5,132.4 L534.7,132.0 L534.9,131.8 L535.1,131.9 L535.3,131.8 L535.5,131.7 L535.7,131.7 L535.9,131.7 L536.1,131.7 L536.4,131.7 L536.6,131.7 L536.8,131.6 L537.0,131.6 L537.2,131.4 L537.4,131.2 L537.6,131.2 L537.8,131.2 L538.0,131.2 L538.2,131.2 L538.5,131.1 L538.7,130.9 L538.9,130.8 L539.1,130.8 L539.3,131.0 L539.5,130.8 L539.7,130.5 L539.9,130.3 L540.1,130.3 L540.3,130.2 L540.6,130.0 L540.8,130.0 L541.0,130.1 L541.2,130.2 L541.4,130.1 L541.6,129.8" stroke="#05cc3c" stroke-width="1.42"/>
<path d="M310.6,116.8 L310.8,116.8 L311.0,116.8 L311.2,116.6 L311.4,116.5 L311.7,116.6 L311.9,116.6 L312.1,116.6 L312.3,116.7 L312.5,116.9 L312.7,116.9 L312.9,116.6 L313.1,116.4 L313.3,116.2 L313.5,116.3 L313.8,116.6 L314.0,116.6 L314.2,116.5 L314.4,116.5 L314.6,116.4 L314.8,116.5 L315.0,116.7 L315.2,116.6 L315.4,116.4 L315.6,116.4 L315.9,116.6 L316.1,116.5 L316.3,116.6 L316.5,116.6 L316.7,116.6 L316.9,116.6 L317.1,116.7 L317.3,116.9 L317.5,116.8 L317.7,116.7 L318.0,116.5 L318.2,116.4 L318.4,116.4 L318.6,116.5 L318.8,116.5 L319.0,116.4 L319.2,116.4 L319.4,116.5 L319.6,116.6 L319.8,116.7 L320.1,116.6 L320.3,116.4 L320.5,116.3 L320.7,116.5 L320.9,116.7 L321.1,116.5 L321.3,116.4 L321.5,116.5 L321.7,116.6 L321.9,116.6 L322.2,116.4 L322.4,116.4 L322.6,116.5 L322.8,116.5 L323.0,116.5 L323.2,116.4 L323.4,116.4 L323.6,116.4 L323.8,116.1 L324.0,116.2 L324.2,116.5 L324.5,116.5 L324.7,116.4 L324.9,116.3 L325.1,116.3 L325.3,116.3 L325.5,116.4 L325.7,116.6 L325.9,116.6 L326.1,116.5 L326.4,116.3 L326.6,116.3 L326.8,116.5 L327.0,116.4 L327.2,116.2 L327.4,116.2 L327.6,116.3 L327.8,116.3 L328.0,116.2 L328.2,116.2 L328.5,116.1 L328.7,116.3 L328.9,116.3 L329.1,116.2 L329.3,116.2 L329.5,116.2 L329.7,116.0 L329.9,115.9 L330.1,116.0 L330.3,116.1 L330.6,116.3 L330.8,116.2 L331.0,116.1 L331.2,116.1 L331.4,116.0 L331.6,116.1 L331.8,116.2 L332.0,116.1 L332.2,116.1 L332.4,116.1 L332.7,115.9 L332.9,116.0 L333.1,116.2 L333.3,116.2 L333.5,116.2 L333.7,116.0 L333.9,115.9 L334.1,116.0 L334.3,116.2 L334.5,116.2 L334.8,116.3 L335.0,116.2 L335.2,116.3 L335.4,116.2 L335.6,116.0 L335.8,116.1 L336.0,116.2 L336.2,116.1 L336.4,116.4 L336.6,116.3 L336.9,116.1 L337.1,116.1 L337.3,116.1 L337.5,116.0 L337.7,116.0 L337.9,116.0 L338.1,116.0 L338.3,116.0 L338.5,115.8 L338.7,115.8 L339.0,115.9 L339.2,115.9 L339.4,116.1 L339.6,116.2 L339.8,116.2 L340.0,115.9 L340.2,115.8 L340.4,116.0 L340.6,116.3 L340.8,116.2 L341.1,116.0 L341.3,115.9 L341.5,115.9 L341.7,115.8 L341.9,115.9 L342.1,116.1 L342.3,116.1 L342.5,116.0 L342.7,115.9 L342.9,115.7 L343.2,115.6 L343.4,115.8 L343.6,116.0 L343.8,116.0 L344.0,116.0 L344.2,116.0 L344.4,116.0 L344.6,115.8 L344.8,115.8 L345.0,115.9 L345.2,115.8 L345.5,115.7 L345.7,115.9 L345.9,116.1 L346.1,116.0 L346.3,115.9 L346.5,115.9 L346.7,116.0 L346.9,116.0 L347.1,115.8 L347.4,115.8 L347.6,115.9 L347.8,115.9 L348.0,115.9 L348.2,116.1 L348.4,116.4 L348.6,116.2 L348.8,115.8 L349.0,115.9 L349.2,115.9 L349.5,115.8 L349.7,115.7 L349.9,115.7 L350.1,115.8 L350.3,115.9 L350.5,116.0 L350.7,115.8 L350.9,115.6 L351.1,115.6 L351.3,115.6 L351.6,115.6 L351.8,115.5 L352.0,115.5 L352.2,115.6 L352.4,115.6 L352.6,115.6 L352.8,115.6 L353.0,115.4 L353.2,115.4 L353.4,115.2 L353.7,115.1 L353.9,115.0 L354.1,114.7 L354.3,114.1 L354.5,113.7 L354.7,113.6 L354.9,113.8 L355.1,114.3 L355.3,114.6 L355.5,114.9 L355.8,115.1 L356.0,115.2 L356.2,115.2 L356.4,115.3 L356.6,115.4 L356.8,115.5 L357.0,115.4 L357.2,115.3 L357.4,115.3 L357.6,115.5 L357.9,115.7 L358.1,115.7 L358.3,115.7 L358.5,115.8 L358.7,115.7 L358.9,115.7 L359.1,115.8 L359.3,115.8 L359.5,115.6 L359.7,115.4 L360.0,115.5 L360.2,115.7 L360.4,115.8 L360.6,115.7 L360.8,115.6 L361.0,115.6 L361.2,115.5 L361.4,115.4 L361.6,115.3 L361.8,115.5 L362.1,115.6 L362.3,115.6 L362.5,115.3 L362.7,115.2 L362.9,115.3 L363.1,115.5 L363.3,115.6 L363.5,115.8 L363.7,115.9 L363.9,115.8 L364.2,115.5 L364.4,115.2 L364.6,115.2 L364.8,115.3 L365.0,115.2 L365.2,115.0 L365.4,114.9 L365.6,114.9 L365.8,114.9 L366.0,114.9 L366.2,114.8 L366.5,114.7 L366.7,114.8 L366.9,114.8 L367.1,114.8 L367.3,114.8 L367.5,114.7 L367.7,114.8 L367.9,114.7 L368.1,114.5 L368.4,114.5 L368.6,114.6 L368.8,114.6 L369.0,114.5 L369.2,114.4 L369.4,114.1 L369.6,113.9 L369.8,113.9 L370.0,113.8 L370.2,113.3 L370.5,113.2 L370.7,113.2 L370.9,112.8 L371.1,112.3 L371.3,112.0 L371.5,111.6 L371.7,111.1 L371.9,110.6 L372.1,109.7 L372.3,108.3 L372.6,107.1 L372.8,105.7 L373.0,103.9 L373.2,101.4 L373.4,98.3 L373.6,94.2 L373.8,88.7 L374.0,81.5 L374.2,74.0 L374.4,70.7 L374.7,74.3 L374.9,81.5 L375.1,88.5 L375.3,94.3 L375.5,98.6 L375.7,101.7 L375.9,104.3 L376.1,106.2 L376.3,107.4 L376.5,108.5 L376.8,109.4 L377.0,110.2 L377.2,110.8 L377.4,111.3 L377.6,111.7 L377.8,111.9 L378.0,112.2 L378.2,112.6 L378.4,112.9 L378.6,113.2 L378.9,113.6 L379.1,113.9 L379.3,114.0 L379.5,114.2 L379.7,114.1 L379.9,114.1 L380.1,114.5 L380.3,114.6 L380.5,114.4 L380.7,114.5 L381.0,114.8 L381.2,114.8 L381.4,115.0 L381.6,115.2 L381.8,115.2 L382.0,115.1 L382.2,115.1 L382.4,115.1 L382.6,115.2 L382.8,115.2 L383.1,115.2 L383.3,115.1 L383.5,115.0 L383.7,115.1 L383.9,115.4 L384.1,115.5 L384.3,115.4 L384.5,115.2 L384.7,115.3 L384.9,115.5 L385.2,115.7 L385.4,115.6 L385.6,115.6 L385.8,115.6 L386.0,115.5 L386.2,115.3 L386.4,115.4 L386.6,115.5 L386.8,115.6 L387.0,115.6 L387.2,115.6 L387.5,115.6 L387.7,115.5 L387.9,115.5 L388.1,115.7 L388.3,115.6 L388.5,115.6 L388.7,115.7 L388.9,115.8 L389.1,115.7 L389.4,115.7 L389.6,115.7 L389.8,115.7 L390.0,115.6 L390.2,115.6 L390.4,115.6 L390.6,115.5 L390.8,115.6 L391.0,115.6 L391.2,115.6 L391.5,115.5 L391.7,115.4 L391.9,115.3 L392.1,115.4 L392.3,115.7 L392.5,115.7 L392.7,115.6 L392.9,115.5 L393.1,115.6 L393.3,115.8 L393.6,115.9 L393.8,116.0 L394.0,116.0 L394.2,115.9 L394.4,115.8 L394.6,115.6 L394.8,115.8 L395.0,115.9 L395.2,115.7 L395.4,115.7 L395.7,115.8 L395.9,115.7 L396.1,115.8 L396.3,115.9 L396.5,115.8 L396.7,115.5 L396.9,115.3 L397.1,115.5 L397.3,115.8 L397.5,115.9 L397.8,115.9 L398.0,115.7 L398.2,115.6 L398.4,115.7 L398.6,115.8 L398.8,116.0 L399.0,116.0 L399.2,116.0 L399.4,116.0 L399.6,116.0 L399.9,115.8 L400.1,115.8 L400.3,115.8 L400.5,115.5 L400.7,115.4 L400.9,115.7 L401.1,116.0 L401.3,116.0 L401.5,115.9 L401.7,115.9 L402.0,116.0 L402.2,115.9 L402.4,115.8 L402.6,115.9 L402.8,116.1 L403.0,116.1 L403.2,116.0 L403.4,115.9 L403.6,115.8 L403.8,115.8 L404.1,115.8 L404.3,115.8 L404.5,115.7 L404.7,115.8 L404.9,116.0 L405.1,115.9 L405.3,115.6 L405.5,115.8 L405.7,116.0 L405.9,115.8 L406.2,115.7 L406.4,115.4 L406.6,115.3 L406.8,115.5 L407.0,115.7 L407.2,115.8 L407.4,115.7 L407.6,115.6 L407.8,115.6 L408.0,115.8 L408.2,116.0 L408.5,115.9 L408.7,115.8 L408.9,115.8 L409.1,115.8 L409.3,115.7 L409.5,115.6 L409.7,115.6 L409.9,115.8 L410.1,115.8 L410.4,115.6 L410.6,115.4 L410.8,115.5 L411.0,115.7 L411.2,115.8 L411.4,115.6 L411.6,115.6 L411.8,115.8 L412.0,115.7 L412.2,115.6 L412.5,115.7 L412.7,115.6 L412.9,115.5 L413.1,115.6 L413.3,115.7 L413.5,115.6 L413.7,115.7 L413.9,115.9 L414.1,115.9 L414.3,115.7 L414.6,115.6 L414.8,115.6 L415.0,115.6 L415.2,115.4 L415.4,115.3 L415.6,115.3 L415.8,115.4 L416.0,115.6 L416.2,115.8 L416.4,115.9 L416.7,115.8 L416.9,115.8 L417.1,115.8 L417.3,115.6 L417.5,115.3 L417.7,115.4 L417.9,115.3 L418.1,115.4 L418.3,115.6 L418.5,115.6 L418.8,115.5 L419.0,115.6 L419.2,115.6 L419.4,115.4 L419.6,115.2 L419.8,115.2 L420.0,115.3 L420.2,115.4 L420.4,115.7 L420.6,115.8 L420.9,115.3 L421.1,115.0 L421.3,115.2 L421.5,115.4 L421.7,115.3 L421.9,115.2 L422.1,115.3 L422.3,115.3 L422.5,115.2 L422.7,115.2 L423.0,114.9 L423.2,114.8 L423.4,114.9 L423.6,115.1 L423.8,115.0 L424.0,114.8 L424.2,114.8 L424.4,114.9 L424.6,115.1 L424.8,115.1 L425.1,115.1 L425.3,114.9 L425.5,114.7 L425.7,114.7 L425.9,114.6 L426.1,114.4 L426.3,114.2 L426.5,114.0 L426.7,113.8 L426.9,113.5 L427.2,113.3 L427.4,113.2 L427.6,112.9 L427.8,112.6 L428.0,112.1 L428.2,111.5 L428.4,111.1 L428.6,110.8 L428.8,110.3 L429.0,109.8 L429.2,109.5 L429.5,109.7 L429.7,110.1 L429.9,110.4 L430.1,110.8 L430.3,111.4 L430.5,112.0 L430.7,112.4 L430.9,112.8 L431.1,113.1 L431.4,113.1 L431.6,113.4 L431.8,113.6 L432.0,113.6 L432.2,113.9 L432.4,114.1 L432.6,114.1 L432.8,114.3 L433.0,114.5 L433.2,114.5 L433.5,114.4 L433.7,114.3 L433.9,114.6 L434.1,114.8 L434.3,114.7 L434.5,114.5 L434.7,114.5 L434.9,114.6 L435.1,114.7 L435.3,114.7 L435.6,114.5 L435.8,114.5 L436.0,114.7 L436.2,114.8 L436.4,114.7 L436.6,114.6 L436.8,114.6 L437.0,114.7 L437.2,114.7 L437.4,114.7 L437.7,114.6 L437.9,114.5 L438.1,114.5 L438.3,114.4 L438.5,114.4 L438.7,114.3 L438.9,114.0 L439.1,114.0 L439.3,114.3 L439.5,114.4 L439.8,114.4 L440.0,114.5 L440.2,114.7 L440.4,114.6 L440.6,114.5 L440.8,114.5 L441.0,114.4 L441.2,114.3 L441.4,114.4 L441.6,114.5 L441.9,114.4 L442.1,114.4 L442.3,114.3 L442.5,114.2 L442.7,114.0 L442.9,114.0 L443.1,114.2 L443.3,114.2 L443.5,114.2 L443.7,114.0 L444.0,113.9 L444.2,113.9 L444.4,113.9 L444.6,113.9 L444.8,114.0 L445.0,113.7 L445.2,113.5 L445.4,113.5 L445.6,113.5 L445.8,113.5 L446.1,113.6 L446.3,113.6 L446.5,113.4 L446.7,113.1 L446.9,112.9 L447.1,112.7 L447.3,112.3 L447.5,112.1 L447.7,112.1 L447.9,111.8 L448.2,111.4 L448.4,111.0 L448.6,110.6 L448.8,110.2 L449.0,109.8 L449.2,109.3 L449.4,108.7 L449.6,108.3 L449.8,107.8 L450.0,107.5 L450.2,107.4 L450.5,107.5 L450.7,107.6 L450.9,108.0 L451.1,108.3 L451.3,108.8 L451.5,109.5 L451.7,110.0 L451.9,110.4 L452.1,110.8 L452.4,111.2 L452.6,111.5 L452.8,111.8 L453.0,111.9 L453.2,112.0 L453.4,112.3 L453.6,112.6 L453.8,112.6 L454.0,112.6 L454.2,112.8 L454.5,112.9 L454.7,112.9 L454.9,112.8 L455.1,112.7 L455.3,112.8 L455.5,113.0 L455.7,113.2 L455.9,113.1 L456.1,112.9 L456.3,112.9 L456.6,113.0 L456.8,113.1 L457.0,113.1 L457.2,113.2 L457.4,113.2 L457.6,113.1 L457.8,113.1 L458.0,113.1 L458.2,113.0 L458.4,112.8 L458.6,112.7 L458.9,112.8 L459.1,112.9 L459.3,113.0 L459.5,113.0 L459.7,112.9 L459.9,112.9 L460.1,113.1 L460.3,113.1 L460.5,112.9 L460.8,112.8 L461.0,113.0 L461.2,113.0 L461.4,112.9 L461.6,112.9 L461.8,112.9 L462.0,112.9 L462.2,112.9 L462.4,112.9 L462.6,113.2 L462.9,113.3 L463.1,112.9 L463.3,112.7 L463.5,112.8 L463.7,112.9 L463.9,112.9 L464.1,112.8 L464.3,112.9 L464.5,112.9 L464.7,112.8 L465.0,112.6 L465.2,112.6 L465.4,112.7 L465.6,112.8 L465.8,112.8 L466.0,112.7 L466.2,112.6 L466.4,112.7 L466.6,112.6 L466.8,112.6 L467.1,112.5 L467.3,112.5 L467.5,112.5 L467.7,112.6 L467.9,112.6 L468.1,112.5 L468.3,112.4 L468.5,112.5 L468.7,112.6 L468.9,112.5 L469.2,112.3 L469.4,112.2 L469.6,112.2 L469.8,112.1 L470.0,112.1 L470.2,112.1 L470.4,112.1 L470.6,112.1 L470.8,112.0 L471.0,112.1 L471.2,112.3 L471.5,112.1 L471.7,112.0 L471.9,112.1 L472.1,112.1 L472.3,112.1 L472.5,112.2 L472.7,112.2 L472.9,112.1 L473.1,112.0 L473.4,111.9 L473.6,111.9 L473.8,112.0 L474.0,112.0 L474.2,111.9 L474.4,111.9 L474.6,111.9 L474.8,111.9 L475.0,111.8 L475.2,111.9 L475.5,111.8 L475.7,111.6 L475.9,111.5 L476.1,111.6 L476.3,111.7 L476.5,111.7 L476.7,111.8 L476.9,111.8 L477.1,111.6 L477.3,111.6 L477.6,111.6 L477.8,111.5 L478.0,111.4 L478.2,111.4 L478.4,111.5 L478.6,111.7 L478.8,111.8 L479.0,111.5 L479.2,111.4 L479.4,111.3 L479.7,111.2 L479.9,111.2 L480.1,111.2 L480.3,111.3 L480.5,111.3 L480.7,111.1 L480.9,110.9 L481.1,110.8 L481.3,111.0 L481.5,111.1 L481.8,111.0 L482.0,111.0 L482.2,111.0 L482.4,111.0 L482.6,111.0 L482.8,111.0 L483.0,110.9 L483.2,110.7 L483.4,110.5 L483.6,110.5 L483.9,110.6 L484.1,110.7 L484.3,110.8 L484.5,110.5 L484.7,110.3 L484.9,110.4 L485.1,110.4 L485.3,110.4 L485.5,110.3 L485.7,110.3 L486.0,110.5 L486.2,110.5 L486.4,110.4 L486.6,110.2 L486.8,110.0 L487.0,110.0 L487.2,110.1 L487.4,110.1 L487.6,110.0 L487.8,109.8 L488.1,109.8 L488.3,109.8 L488.5,109.9 L488.7,110.0 L488.9,109.9 L489.1,109.9 L489.3,109.7 L489.5,109.3 L489.7,109.4 L489.9,109.6 L490.1,109.4 L490.4,109.3 L490.6,109.4 L490.8,109.4 L491.0,109.3 L491.2,109.2 L491.4,109.3 L491.6,109.5 L491.8,109.2 L492.0,109.0 L492.2,109.2 L492.5,109.3 L492.7,109.3 L492.9,109.2 L493.1,109.0 L493.3,108.8 L493.5,108.8 L493.7,108.8 L493.9,108.9 L494.1,108.8 L494.4,108.8 L494.6,108.8 L494.8,108.6 L495.0,108.5 L495.2,108.5 L495.4,108.5 L495.6,108.5 L495.8,108.4 L496.0,108.3 L496.2,108.3 L496.5,108.4 L496.7,108.5 L496.9,108.4 L497.1,108.3 L497.3,108.2 L497.5,108.2 L497.7,108.1 L497.9,107.9 L498.1,107.9 L498.3,107.8 L498.6,107.8 L498.8,107.8 L499.0,107.9 L499.2,107.8 L499.4,107.8 L499.6,107.8 L499.8,107.8 L500.0,107.9 L500.2,107.8 L500.4,107.5 L500.7,107.4 L500.9,107.6 L501.1,107.6 L501.3,107.3 L501.5,107.2 L501.7,107.3 L501.9,107.3 L502.1,107.1 L502.3,106.9 L502.5,106.8 L502.8,106.8 L503.0,106.9 L503.2,106.9 L503.4,106.7 L503.6,106.5 L503.8,106.7 L504.0,107.1 L504.2,107.1 L504.4,106.8 L504.6,106.7 L504.9,106.9 L505.1,106.9 L505.3,106.7 L505.5,106.6 L505.7,106.7 L505.9,106.6 L506.1,106.7 L506.3,106.8 L506.5,106.4 L506.7,106.0 L507.0,106.1 L507.2,106.1 L507.4,106.1 L507.6,106.2 L507.8,106.3 L508.0,106.3 L508.2,106.3 L508.4,106.1 L508.6,105.9 L508.8,105.8 L509.1,105.9 L509.3,105.8 L509.5,105.8 L509.7,105.6 L509.9,105.5 L510.1,105.2 L510.3,105.2 L510.5,105.2 L510.7,105.2 L510.9,105.2 L511.1,105.2 L511.4,105.2 L511.6,105.2 L511.8,105.2 L512.0,105.2 L512.2,105.1 L512.4,105.0 L512.6,104.8 L512.8,104.6 L513.0,104.8 L513.2,105.1 L513.5,105.0 L513.7,104.7 L513.9,104.5 L514.1,104.5 L514.3,104.6 L514.5,104.5 L514.7,104.4 L514.9,104.4 L515.1,104.2 L515.4,104.0 L515.6,103.8 L515.8,103.9 L516.0,104.0 L516.2,104.1 L516.4,104.0 L516.6,104.0 L516.8,103.9 L517.0,103.6 L517.2,103.3 L517.5,103.3 L517.7,103.4 L517.9,103.4 L518.1,103.1 L518.3,102.9 L518.5,103.2 L518.7,103.3 L518.9,103.2 L519.1,103.3 L519.3,103.2 L519.5,103.1 L519.8,102.8 L520.0,102.8 L520.2,103.0 L520.4,103.0 L520.6,102.6 L520.8,102.5 L521.0,102.5 L521.2,102.4 L521.4,102.4 L521.7,102.2 L521.9,102.0 L522.1,102.1 L522.3,101.9 L522.5,101.8 L522.7,102.0 L522.9,102.0 L523.1,101.7 L523.3,101.7 L523.5,101.9 L523.8,102.2 L524.0,101.9 L524.2,101.4 L524.4,101.4 L524.6,101.5 L524.8,101.4 L525.0,101.2 L525.2,101.0 L525.4,101.1 L525.6,101.1 L525.9,100.8 L526.1,100.8 L526.3,100.8 L526.5,100.7 L526.7,100.4 L526.9,100.3 L527.1,100.3 L527.3,100.2 L527.5,100.3 L527.7,100.3 L528.0,100.3 L528.2,100.2 L528.4,100.0 L528.6,99.7 L528.8,99.5 L529.0,99.5 L529.2,99.8 L529.4,99.7 L529.6,99.4 L529.8,99.2 L530.0,99.1 L530.3,99.1 L530.5,99.2 L530.7,99.3 L530.9,98.9 L531.1,98.6 L531.3,98.6 L531.5,98.6 L531.7,98.3 L531.9,98.2 L532.2,98.1 L532.4,98.1 L532.6,98.0 L532.8,97.8 L533.0,97.8 L533.2,98.1 L533.4,98.1 L533.6,97.8 L533.8,97.6 L534.0,97.6 L534.2,97.5 L534.5,97.4 L534.7,97.2 L534.9,97.0 L535.1,97.0 L535.3,96.9 L535.5,96.7 L535.7,96.8 L535.9,96.7 L536.1,96.5 L536.4,96.4 L536.6,96.1 L536.8,95.9 L537.0,96.0 L537.2,96.0 L537.4,96.0 L537.6,96.0 L537.8,95.9 L538.0,95.6 L538.2,95.6 L538.5,95.5 L538.7,95.3 L538.9,95.4 L539.1,95.4 L539.3,95.2 L539.5,94.9 L539.7,94.7 L539.9,94.6 L540.1,94.5 L540.3,94.5 L540.6,94.4 L540.8,94.3 L541.0,94.2 L541.2,94.2 L541.4,94.3 L541.6,94.2" stroke="#9a22cc" stroke-width="1.42"/>
<path d="M310.6,74.9 L310.8,74.9 L311.0,74.8 L311.2,74.7 L311.4,74.7 L311.7,74.7 L311.9,74.6 L312.1,74.5 L312.3,74.6 L312.5,74.7 L312.7,74.8 L312.9,74.8 L313.1,74.7 L313.3,74.7 L313.5,74.7 L313.8,74.7 L314.0,74.7 L314.2,74.7 L314.4,74.6 L314.6,74.6 L314.8,74.7 L315.0,74.7 L315.2,74.6 L315.4,74.5 L315.6,74.5 L315.9,74.7 L316.1,74.5 L316.3,74.3 L316.5,74.2 L316.7,74.3 L316.9,74.4 L317.1,74.5 L317.3,74.3 L317.5,74.2 L317.7,74.1 L318.0,73.9 L318.2,73.9 L318.4,73.8 L318.6,73.7 L318.8,73.6 L319.0,73.6 L319.2,73.5 L319.4,73.4 L319.6,73.5 L319.8,73.6 L320.1,73.7 L320.3,73.9 L320.5,74.0 L320.7,74.0 L320.9,74.1 L321.1,74.2 L321.3,74.2 L321.5,74.2 L321.7,74.2 L321.9,74.2 L322.2,74.4 L322.4,74.4 L322.6,74.3 L322.8,74.2 L323.0,74.3 L323.2,74.3 L323.4,74.3 L323.6,74.2 L323.8,74.2 L324.0,74.3 L324.2,74.4 L324.5,74.3 L324.7,74.2 L324.9,74.2 L325.1,74.1 L325.3,74.0 L325.5,74.1 L325.7,74.1 L325.9,74.1 L326.1,74.2 L326.4,74.2 L326.6,74.2 L326.8,74.1 L327.0,74.1 L327.2,74.1 L327.4,74.0 L327.6,74.0 L327.8,74.0 L328.0,74.1 L328.2,74.0 L328.5,73.8 L328.7,73.9 L328.9,74.1 L329.1,74.1 L329.3,74.0 L329.5,74.0 L329.7,73.9 L329.9,73.8 L330.1,73.9 L330.3,73.9 L330.6,73.9 L330.8,73.9 L331.0,73.7 L331.2,73.6 L331.4,73.7 L331.6,73.8 L331.8,73.7 L332.0,73.8 L332.2,73.9 L332.4,73.8 L332.7,73.7 L332.9,73.7 L333.1,73.7 L333.3,73.7 L333.5,73.8 L333.7,73.7 L333.9,73.5 L334.1,73.5 L334.3,73.6 L334.5,73.7 L334.8,73.7 L335.0,73.6 L335.2,73.6 L335.4,73.5 L335.6,73.5 L335.8,73.5 L336.0,73.6 L336.2,73.7 L336.4,73.6 L336.6,73.5 L336.9,73.5 L337.1,73.4 L337.3,73.6 L337.5,73.7 L337.7,73.7 L337.9,73.7 L338.1,73.7 L338.3,73.6 L338.5,73.6 L338.7,73.5 L339.0,73.5 L339.2,73.4 L339.4,73.3 L339.6,73.3 L339.8,73.3 L340.0,73.3 L340.2,73.3 L340.4,73.2 L340.6,73.4 L340.8,73.4 L341.1,73.3 L341.3,73.2 L341.5,73.1 L341.7,73.1 L341.9,73.1 L342.1,73.3 L342.3,73.3 L342.5,73.2 L342.7,73.2 L342.9,73.1 L343.2,73.0 L343.4,72.9 L343.6,72.9 L343.8,72.9 L344.0,72.9 L344.2,73.0 L344.4,73.1 L344.6,72.9 L344.8,72.8 L345.0,72.8 L345.2,72.8 L345.5,72.6 L345.7,72.4 L345.9,72.5 L346.1,72.6 L346.3,72.5 L346.5,72.3 L346.7,71.9 L346.9,71.8 L347.1,71.6 L347.4,71.2 L347.6,70.8 L347.8,70.7 L348.0,70.8 L348.2,70.9 L348.4,71.0 L348.6,71.4 L348.8,71.7 L349.0,72.0 L349.2,72.1 L349.5,72.2 L349.7,72.2 L349.9,72.3 L350.1,72.4 L350.3,72.5 L350.5,72.3 L350.7,72.2 L350.9,72.2 L351.1,72.2 L351.3,72.2 L351.6,72.1 L351.8,72.1 L352.0,72.1 L352.2,72.1 L352.4,72.2 L352.6,72.1 L352.8,71.9 L353.0,71.9 L353.2,71.8 L353.4,71.6 L353.7,71.5 L353.9,71.2 L354.1,70.9 L354.3,70.8 L354.5,70.7 L354.7,70.8 L354.9,71.0 L355.1,71.2 L355.3,71.3 L355.5,71.4 L355.8,71.5 L356.0,71.7 L356.2,71.8 L356.4,71.8 L356.6,71.8 L356.8,71.8 L357.0,71.9 L357.2,71.9 L357.4,71.9 L357.6,71.9 L357.9,72.0 L358.1,72.0 L358.3,71.9 L358.5,71.8 L358.7,71.9 L358.9,71.9 L359.1,72.0 L359.3,72.1 L359.5,71.9 L359.7,71.8 L360.0,71.8 L360.2,71.9 L360.4,71.9 L360.6,71.9 L360.8,72.0 L361.0,71.9 L361.2,71.8 L361.4,71.9 L361.6,72.0 L361.8,72.0 L362.1,71.9 L362.3,71.9 L362.5,71.7 L362.7,71.6 L362.9,71.6 L363.1,71.6 L363.3,71.5 L363.5,71.6 L363.7,71.7 L363.9,71.8 L364.2,71.7 L364.4,71.6 L364.6,71.6 L364.8,71.5 L365.0,71.5 L365.2,71.6 L365.4,71.5 L365.6,71.4 L365.8,71.4 L366.0,71.3 L366.2,71.3 L366.5,71.4 L366.7,71.4 L366.9,71.4 L367.1,71.3 L367.3,71.2 L367.5,71.2 L367.7,71.2 L367.9,71.2 L368.1,71.3 L368.4,71.3 L368.6,71.2 L368.8,71.1 L369.0,71.0 L369.2,71.0 L369.4,70.9 L369.6,70.7 L369.8,70.6 L370.0,70.7 L370.2,70.8 L370.5,70.6 L370.7,70.3 L370.9,70.2 L371.1,70.1 L371.3,70.0 L371.5,69.7 L371.7,69.5 L371.9,69.4 L372.1,69.1 L372.3,68.7 L372.6,68.3 L372.8,68.1 L373.0,67.6 L373.2,66.9 L373.4,66.1 L373.6,65.1 L373.8,63.7 L374.0,61.9 L374.2,60.0 L374.4,58.3 L374.7,57.6 L374.9,58.5 L375.1,60.3 L375.3,62.2 L375.5,63.7 L375.7,64.8 L375.9,65.6 L376.1,66.5 L376.3,67.1 L376.5,67.7 L376.8,68.2 L377.0,68.6 L377.2,68.9 L377.4,69.0 L377.6,69.0 L377.8,69.3 L378.0,69.5 L378.2,69.6 L378.4,69.6 L378.6,69.6 L378.9,69.8 L379.1,70.0 L379.3,70.1 L379.5,70.0 L379.7,69.9 L379.9,70.0 L380.1,70.1 L380.3,70.1 L380.5,70.0 L380.7,70.1 L381.0,70.2 L381.2,70.2 L381.4,70.1 L381.6,70.1 L381.8,70.2 L382.0,70.2 L382.2,70.2 L382.4,70.2 L382.6,70.2 L382.8,70.2 L383.1,70.1 L383.3,70.0 L383.5,69.9 L383.7,69.9 L383.9,70.0 L384.1,69.9 L384.3,69.9 L384.5,70.1 L384.7,70.2 L384.9,70.0 L385.2,69.9 L385.4,69.8 L385.6,69.9 L385.8,70.0 L386.0,70.0 L386.2,69.9 L386.4,69.9 L386.6,69.9 L386.8,69.9 L387.0,69.8 L387.2,69.8 L387.5,69.8 L387.7,69.8 L387.9,69.9 L388.1,69.9 L388.3,69.8 L388.5,69.7 L388.7,69.6 L388.9,69.6 L389.1,69.8 L389.4,69.9 L389.6,69.8 L389.8,69.6 L390.0,69.7 L390.2,69.7 L390.4,69.6 L390.6,69.6 L390.8,69.8 L391.0,69.7 L391.2,69.6 L391.5,69.6 L391.7,69.6 L391.9,69.5 L392.1,69.4 L392.3,69.4 L392.5,69.4 L392.7,69.4 L392.9,69.5 L393.1,69.7 L393.3,69.7 L393.6,69.6 L393.8,69.4 L394.0,69.5 L394.2,69.7 L394.4,69.6 L394.6,69.4 L394.8,69.4 L395.0,69.4 L395.2,69.3 L395.4,69.2 L395.7,69.3 L395.9,69.3 L396.1,69.2 L396.3,69.2 L396.5,69.4 L396.7,69.5 L396.9,69.5 L397.1,69.4 L397.3,69.3 L397.5,69.2 L397.8,69.1 L398.0,69.1 L398.2,69.2 L398.4,69.2 L398.6,69.2 L398.8,69.3 L399.0,69.2 L399.2,69.1 L399.4,69.1 L399.6,69.1 L399.9,69.2 L400.1,69.1 L400.3,69.0 L400.5,68.9 L400.7,69.0 L400.9,69.2 L401.1,69.2 L401.3,69.2 L401.5,69.1 L401.7,69.2 L402.0,69.1 L402.2,69.0 L402.4,68.9 L402.6,69.0 L402.8,69.0 L403.0,69.0 L403.2,68.9 L403.4,68.9 L403.6,69.1 L403.8,69.1 L404.1,69.1 L404.3,69.0 L404.5,68.9 L404.7,68.9 L404.9,69.0 L405.1,69.0 L405.3,69.0 L405.5,69.0 L405.7,69.2 L405.9,69.0 L406.2,68.9 L406.4,68.9 L406.6,68.9 L406.8,69.0 L407.0,68.8 L407.2,68.7 L407.4,68.7 L407.6,68.8 L407.8,68.8 L408.0,68.8 L408.2,68.8 L408.5,68.7 L408.7,68.8 L408.9,68.8 L409.1,68.8 L409.3,68.6 L409.5,68.6 L409.7,68.7 L409.9,68.7 L410.1,68.6 L410.4,68.7 L410.6,68.9 L410.8,68.7 L411.0,68.6 L411.2,68.7 L411.4,68.8 L411.6,68.7 L411.8,68.6 L412.0,68.6 L412.2,68.6 L412.5,68.6 L412.7,68.5 L412.9,68.4 L413.1,68.2 L413.3,68.2 L413.5,68.2 L413.7,68.3 L413.9,68.5 L414.1,68.4 L414.3,68.3 L414.6,68.4 L414.8,68.4 L415.0,68.2 L415.2,68.2 L415.4,68.2 L415.6,68.0 L415.8,68.1 L416.0,68.0 L416.2,68.0 L416.4,68.0 L416.7,67.9 L416.9,67.8 L417.1,67.8 L417.3,67.8 L417.5,67.7 L417.7,67.8 L417.9,67.8 L418.1,67.7 L418.3,67.8 L418.5,67.7 L418.8,67.6 L419.0,67.7 L419.2,67.9 L419.4,67.9 L419.6,67.6 L419.8,67.4 L420.0,67.3 L420.2,67.5 L420.4,67.5 L420.6,67.3 L420.9,67.1 L421.1,67.0 L421.3,67.2 L421.5,67.2 L421.7,67.1 L421.9,66.9 L422.1,67.0 L422.3,67.0 L422.5,66.9 L422.7,66.9 L423.0,66.7 L423.2,66.6 L423.4,66.6 L423.6,66.7 L423.8,66.7 L424.0,66.6 L424.2,66.5 L424.4,66.4 L424.6,66.5 L424.8,66.4 L425.1,66.4 L425.3,66.2 L425.5,66.1 L425.7,66.0 L425.9,65.9 L426.1,65.7 L426.3,65.7 L426.5,65.6 L426.7,65.4 L426.9,65.1 L427.2,64.8 L427.4,64.5 L427.6,64.2 L427.8,63.9 L428.0,63.5 L428.2,62.9 L428.4,62.4 L428.6,61.9 L428.8,61.6 L429.0,61.7 L429.2,61.8 L429.5,62.0 L429.7,62.3 L429.9,62.8 L430.1,63.2 L430.3,63.5 L430.5,63.8 L430.7,64.1 L430.9,64.3 L431.1,64.5 L431.4,64.8 L431.6,64.8 L431.8,64.8 L432.0,65.0 L432.2,65.1 L432.4,65.3 L432.6,65.2 L432.8,65.1 L433.0,65.2 L433.2,65.2 L433.5,65.2 L433.7,65.2 L433.9,65.4 L434.1,65.3 L434.3,65.1 L434.5,65.2 L434.7,65.3 L434.9,65.4 L435.1,65.5 L435.3,65.4 L435.6,65.3 L435.8,65.2 L436.0,65.0 L436.2,65.1 L436.4,65.2 L436.6,65.1 L436.8,65.0 L437.0,64.9 L437.2,65.1 L437.4,65.1 L437.7,65.0 L437.9,64.9 L438.1,64.9 L438.3,64.8 L438.5,64.8 L438.7,64.8 L438.9,64.8 L439.1,64.7 L439.3,64.6 L439.5,64.6 L439.8,64.7 L440.0,64.5 L440.2,64.4 L440.4,64.4 L440.6,64.4 L440.8,64.4 L441.0,64.3 L441.2,64.2 L441.4,64.2 L441.6,64.0 L441.9,64.1 L442.1,64.1 L442.3,64.1 L442.5,64.1 L442.7,63.9 L442.9,63.8 L443.1,63.8 L443.3,63.9 L443.5,63.8 L443.7,63.7 L444.0,63.7 L444.2,63.7 L444.4,63.6 L444.6,63.4 L444.8,63.3 L445.0,63.4 L445.2,63.4 L445.4,63.5 L445.6,63.4 L445.8,63.2 L446.1,63.1 L446.3,63.0 L446.5,62.9 L446.7,62.8 L446.9,62.7 L447.1,62.6 L447.3,62.5 L447.5,62.4 L447.7,62.2 L447.9,62.1 L448.2,62.0 L448.4,61.7 L448.6,61.4 L448.8,61.1 L449.0,60.8 L449.2,60.3 L449.4,59.7 L449.6,59.3 L449.8,58.8 L450.0,58.5 L450.2,58.3 L450.5,58.4 L450.7,58.8 L450.9,59.3 L451.1,59.6 L451.3,59.9 L451.5,60.3 L451.7,60.6 L451.9,60.8 L452.1,61.0 L452.4,61.1 L452.6,61.1 L452.8,61.1 L453.0,61.2 L453.2,61.2 L453.4,61.1 L453.6,61.1 L453.8,61.2 L454.0,61.3 L454.2,61.3 L454.5,61.3 L454.7,61.3 L454.9,61.3 L455.1,61.2 L455.3,61.2 L455.5,61.2 L455.7,61.3 L455.9,61.4 L456.1,61.5 L456.3,61.4 L456.6,61.2 L456.8,61.2 L457.0,61.1 L457.2,61.0 L457.4,61.0 L457.6,60.9 L457.8,60.8 L458.0,60.7 L458.2,60.8 L458.4,60.8 L458.6,60.7 L458.9,60.5 L459.1,60.6 L459.3,60.5 L459.5,60.4 L459.7,60.4 L459.9,60.4 L460.1,60.4 L460.3,60.3 L460.5,60.2 L460.8,60.1 L461.0,60.0 L461.2,60.0 L461.4,60.0 L461.6,60.0 L461.8,60.0 L462.0,60.0 L462.2,59.9 L462.4,59.8 L462.6,59.6 L462.9,59.5 L463.1,59.6 L463.3,59.7 L463.5,59.4 L463.7,59.3 L463.9,59.3 L464.1,59.3 L464.3,59.3 L464.5,59.3 L464.7,59.1 L465.0,58.9 L465.2,58.9 L465.4,58.9 L465.6,58.8 L465.8,58.7 L466.0,58.9 L466.2,58.8 L466.4,58.6 L466.6,58.4 L466.8,58.3 L467.1,58.3 L467.3,58.3 L467.5,58.3 L467.7,58.2 L467.9,58.2 L468.1,58.1 L468.3,58.0 L468.5,58.0 L468.7,58.0 L468.9,57.9 L469.2,57.8 L469.4,57.6 L469.6,57.5 L469.8,57.5 L470.0,57.5 L470.2,57.4 L470.4,57.3 L470.6,57.3 L470.8,57.3 L471.0,57.0 L471.2,57.0 L471.5,57.1 L471.7,57.0 L471.9,57.1 L472.1,57.1 L472.3,56.9 L472.5,56.8 L472.7,56.5 L472.9,56.3 L473.1,56.3 L473.4,56.3 L473.6,56.2 L473.8,56.1 L474.0,55.9 L474.2,55.8 L474.4,55.9 L474.6,55.7 L474.8,55.5 L475.0,55.3 L475.2,55.4 L475.5,55.6 L475.7,55.5 L475.9,55.3 L476.1,55.1 L476.3,55.0 L476.5,55.0 L476.7,54.9 L476.9,54.8 L477.1,54.7 L477.3,54.6 L477.6,54.5 L477.8,54.5 L478.0,54.6 L478.2,54.5 L478.4,54.5 L478.6,54.4 L478.8,54.3 L479.0,54.2 L479.2,54.1 L479.4,54.0 L479.7,53.9 L479.9,53.7 L480.1,53.7 L480.3,53.7 L480.5,53.6 L480.7,53.5 L480.9,53.4 L481.1,53.3 L481.3,53.2 L481.5,53.2 L481.8,53.1 L482.0,53.0 L482.2,53.0 L482.4,53.0 L482.6,52.9 L482.8,52.9 L483.0,52.8 L483.2,52.6 L483.4,52.4 L483.6,52.3 L483.9,52.2 L484.1,52.2 L484.3,52.2 L484.5,52.2 L484.7,52.0 L484.9,51.8 L485.1,51.8 L485.3,51.8 L485.5,51.7 L485.7,51.6 L486.0,51.4 L486.2,51.5 L486.4,51.4 L486.6,51.1 L486.8,51.0 L487.0,51.0 L487.2,51.0 L487.4,50.8 L487.6,50.8 L487.8,50.7 L488.1,50.6 L488.3,50.6 L488.5,50.6 L488.7,50.6 L488.9,50.4 L489.1,50.4 L489.3,50.4 L489.5,50.2 L489.7,50.1 L489.9,50.0 L490.1,49.8 L490.4,49.9 L490.6,49.9 L490.8,49.8 L491.0,49.6 L491.2,49.5 L491.4,49.5 L491.6,49.3 L491.8,49.1 L492.0,49.0 L492.2,48.8 L492.5,48.8 L492.7,48.8 L492.9,48.7 L493.1,48.6 L493.3,48.5 L493.5,48.3 L493.7,48.2 L493.9,48.3 L494.1,48.2 L494.4,48.0 L494.6,47.7 L494.8,47.6 L495.0,47.5 L495.2,47.4 L495.4,47.4 L495.6,47.4 L495.8,47.4 L496.0,47.3 L496.2,47.2 L496.5,47.0 L496.7,46.9 L496.9,46.8 L497.1,46.8 L497.3,46.7 L497.5,46.6 L497.7,46.7 L497.9,46.5 L498.1,46.1 L498.3,45.9 L498.6,45.9 L498.8,45.9 L499.0,45.9 L499.2,45.9 L499.4,45.7 L499.6,45.5 L499.8,45.3 L500.0,45.3 L500.2,45.3 L500.4,45.2 L500.7,45.1 L500.9,44.9 L501.1,44.7 L501.3,44.6 L501.5,44.5 L501.7,44.4 L501.9,44.2 L502.1,44.0 L502.3,43.9 L502.5,43.8 L502.8,43.8 L503.0,43.7 L503.2,43.5 L503.4,43.4 L503.6,43.2 L503.8,42.9 L504.0,42.7 L504.2,42.7 L504.4,42.7 L504.6,42.6 L504.9,42.5 L505.1,42.4 L505.3,42.1 L505.5,42.0 L505.7,41.8 L505.9,41.6 L506.1,41.5 L506.3,41.4 L506.5,41.3 L506.7,41.1 L507.0,41.0 L507.2,40.9 L507.4,40.8 L507.6,40.7 L507.8,40.6 L508.0,40.4 L508.2,40.2 L508.4,39.9 L508.6,39.9 L508.8,39.8 L509.1,39.6 L509.3,39.5 L509.5,39.4 L509.7,39.1 L509.9,38.9 L510.1,38.9 L510.3,38.9 L510.5,38.8 L510.7,38.6 L510.9,38.4 L511.1,38.2 L511.4,38.1 L511.6,38.1 L511.8,38.0 L512.0,37.7 L512.2,37.5 L512.4,37.4 L512.6,37.1 L512.8,36.8 L513.0,36.7 L513.2,36.7 L513.5,36.7 L513.7,36.5 L513.9,36.3 L514.1,36.0 L514.3,35.8 L514.5,35.6 L514.7,35.5 L514.9,35.2 L515.1,34.9 L515.4,34.9 L515.6,34.7 L515.8,34.3 L516.0,33.8 L516.2,33.4 L516.4,32.7 L516.6,31.9 L516.8,30.8 L517.0,29.4 L517.2,27.3 L517.5,25.0 L517.7,23.7 L517.9,24.5 L518.1,26.5 L518.3,28.4 L518.5,29.7 L518.7,30.4 L518.9,30.8 L519.1,31.1 L519.3,31.4 L519.5,31.5 L519.8,31.4 L520.0,31.2 L520.2,31.0 L520.4,31.1 L520.6,31.1 L520.8,30.9 L521.0,30.7 L521.2,30.6 L521.4,30.4 L521.7,30.3 L521.9,30.2 L522.1,30.0 L522.3,29.9 L522.5,29.7 L522.7,29.4 L522.9,29.1 L523.1,29.0 L523.3,28.9 L523.5,28.6 L523.8,28.4 L524.0,28.2 L524.2,28.0 L524.4,27.8 L524.6,27.5 L524.8,27.2 L525.0,26.9 L525.2,26.7 L525.4,26.4 L525.6,26.3 L525.9,26.2 L526.1,26.2 L526.3,26.0 L526.5,25.7 L526.7,25.3 L526.9,25.1 L527.1,24.8 L527.3,24.5 L527.5,24.3 L527.7,24.1 L528.0,23.8 L528.2,23.5 L528.4,23.3 L528.6,23.1 L528.8,22.8 L529.0,22.5 L529.2,22.3 L529.4,22.1 L529.6,21.9 L529.8,21.8 L530.0,21.6 L530.3,21.4 L530.5,21.2 L530.7,20.8 L530.9,20.4 L531.1,20.2 L531.3,20.1 L531.5,19.9 L531.7,19.6 L531.9,19.3 L532.2,19.1 L532.4,18.9 L532.6,18.6 L532.8,18.3 L533.0,18.0 L533.2,17.9 L533.4,17.8 L533.6,17.5 L533.8,17.1 L534.0,16.9 L534.2,16.6 L534.5,16.4 L534.7,16.3 L534.9,16.2 L535.1,15.9 L535.3,15.6 L535.5,15.5 L535.7,15.3 L535.9,14.8 L536.1,14.4 L536.4,14.3 L536.6,14.2 L536.8,14.0 L537.0,13.8 L537.2,13.6 L537.4,13.1 L537.6,12.8 L537.8,12.7 L538.0,12.6 L538.2,12.4 L538.5,12.0 L538.7,11.6 L538.9,11.4 L539.1,11.4 L539.3,11.1 L539.5,10.6 L539.7,10.2 L539.9,10.0 L540.1,9.8 L540.3,9.6 L540.6,9.4 L540.8,9.1 L541.0,8.7 L541.2,8.5 L541.4,8.4 L541.6,8.1" stroke="#f5b62a" stroke-width="1.42"/>
</g>
<rect x="310.5" y="8.5" width="231.0" height="172.5" fill="none" stroke="#8c8c8c" stroke-width="1.1"/>
<g font-size="5.5" text-anchor="end" style="fill:#3a3a3a;stroke:none">
<text x="307.6" y="183.4">0</text>
<text x="307.6" y="165.3">2000</text>
<text x="307.6" y="147.2">4000</text>
<text x="307.6" y="129.1">6000</text>
<text x="307.6" y="111.0">8000</text>
<text x="307.6" y="92.9">10,000</text>
<text x="307.6" y="74.8">12,000</text>
<text x="307.6" y="56.7">14,000</text>
<text x="307.6" y="38.6">16,000</text>
<text x="307.6" y="20.5">18,000</text>
</g>
<g font-size="5.5" text-anchor="middle" style="fill:#3a3a3a;stroke:none">
<text x="331.6" y="190.1">200</text>
<text x="373.6" y="190.1">400</text>
<text x="415.6" y="190.1">600</text>
<text x="457.6" y="190.1">800</text>
<text x="499.6" y="190.1">1000</text>
<text x="541.6" y="190.1">1200</text>
</g>
<text x="426.3" y="203.5" font-size="9.38" text-anchor="middle">Raman Shift (cm<tspan font-size="5.8" dy="-3.6">-1</tspan><tspan dy="3.6">)</tspan></text>
<text transform="translate(286.5,94.7) rotate(-90)" font-size="9.3" text-anchor="middle">Intensity</text>
<rect x="319.2" y="12.2" width="40.0" height="34.6" fill="#fff" stroke="#555" stroke-width="0.6"/>
<line x1="322.7" y1="17.20" x2="332.8" y2="17.20" stroke="#555555" stroke-width="1.21"/>
<text x="334.3" y="19.68" font-size="6.9">SP-M6</text>
<line x1="322.7" y1="25.30" x2="332.8" y2="25.30" stroke="#05cc3c" stroke-width="1.21"/>
<text x="334.3" y="27.78" font-size="6.9">SP-M7</text>
<line x1="322.7" y1="33.40" x2="332.8" y2="33.40" stroke="#9a22cc" stroke-width="1.21"/>
<text x="334.3" y="35.88" font-size="6.9">SP-M8</text>
<line x1="322.7" y1="41.50" x2="332.8" y2="41.50" stroke="#f5b62a" stroke-width="1.21"/>
<text x="334.3" y="43.98" font-size="6.9">SP-M9</text>
<g font-size="8.4" text-anchor="middle">
<text x="319.0" y="68.4">141</text>
<text x="342.7" y="68.4">277</text>
<text x="358.6" y="68.4">309</text>
<text x="374.9" y="53.9">405</text>
<text x="383.8" y="99.0">404</text>
<text x="355.7" y="114.1">310</text>
<text x="383.7" y="130.0">404</text>
<text x="355.4" y="144.5">309</text>
<text x="319.2" y="161.8">143</text>
<text x="383.7" y="159.9">404</text>
<text x="355.4" y="170.1">309</text>
<text x="429.5" y="59.0">664</text>
<text x="451.1" y="53.1">765</text>
<text x="517.6" y="21.3">1086</text>
<text x="429.5" y="106.6">665</text>
<text x="451.0" y="106.6">765</text>
<text x="429.8" y="137.9">664</text>
<text x="450.7" y="137.9">765</text>
<text x="429.8" y="163.3">664</text>
<text x="450.7" y="163.3">763</text>
</g>
</g>
<g id="plot3">
<clipPath id="clip2"><rect x="34.9" y="219.5" width="237.9" height="176.5"/></clipPath>
<g clip-path="url(#clip2)" fill="none" stroke-linejoin="round" stroke-linecap="round">
<path d="M34.9,392.8 L35.1,392.6 L35.3,392.6 L35.5,392.9 L35.7,393.0 L35.9,392.9 L36.1,392.8 L36.4,392.8 L36.6,392.9 L36.8,393.0 L37.0,392.8 L37.2,392.7 L37.4,392.8 L37.6,392.9 L37.9,392.9 L38.1,392.8 L38.3,392.7 L38.5,392.8 L38.7,392.9 L38.9,392.8 L39.2,393.1 L39.4,393.1 L39.6,393.0 L39.8,393.1 L40.0,393.3 L40.2,393.2 L40.4,393.1 L40.7,393.2 L40.9,393.2 L41.1,392.9 L41.3,392.7 L41.5,392.9 L41.7,392.9 L42.0,392.8 L42.2,392.7 L42.4,392.8 L42.6,392.7 L42.8,392.6 L43.0,392.8 L43.2,392.9 L43.5,392.8 L43.7,392.7 L43.9,392.7 L44.1,393.0 L44.3,393.1 L44.5,393.1 L44.7,393.1 L45.0,392.9 L45.2,392.8 L45.4,392.8 L45.6,392.6 L45.8,392.5 L46.0,392.6 L46.3,392.6 L46.5,392.7 L46.7,392.9 L46.9,392.8 L47.1,392.8 L47.3,393.0 L47.5,392.9 L47.8,392.7 L48.0,392.7 L48.2,392.8 L48.4,392.8 L48.6,392.8 L48.8,392.9 L49.1,392.8 L49.3,392.7 L49.5,392.8 L49.7,392.7 L49.9,392.6 L50.1,392.6 L50.3,392.7 L50.6,392.6 L50.8,392.4 L51.0,392.5 L51.2,392.8 L51.4,392.7 L51.6,392.6 L51.8,392.8 L52.1,392.8 L52.3,392.7 L52.5,392.8 L52.7,392.7 L52.9,392.6 L53.1,392.9 L53.4,393.0 L53.6,393.0 L53.8,392.7 L54.0,392.3 L54.2,392.5 L54.4,392.9 L54.6,392.9 L54.9,392.6 L55.1,392.4 L55.3,392.6 L55.5,392.8 L55.7,392.7 L55.9,392.7 L56.2,392.8 L56.4,392.8 L56.6,392.7 L56.8,392.7 L57.0,392.7 L57.2,392.9 L57.4,393.0 L57.7,392.8 L57.9,392.6 L58.1,392.8 L58.3,392.8 L58.5,392.6 L58.7,392.4 L59.0,392.3 L59.2,392.6 L59.4,392.9 L59.6,392.9 L59.8,392.4 L60.0,392.3 L60.2,392.7 L60.5,392.8 L60.7,392.7 L60.9,392.8 L61.1,392.8 L61.3,392.7 L61.5,392.6 L61.7,392.5 L62.0,392.5 L62.2,392.6 L62.4,392.6 L62.6,392.8 L62.8,393.1 L63.0,393.0 L63.3,392.7 L63.5,392.7 L63.7,392.6 L63.9,392.4 L64.1,392.4 L64.3,392.4 L64.5,392.4 L64.8,392.6 L65.0,392.8 L65.2,392.9 L65.4,392.9 L65.6,392.9 L65.8,392.8 L66.1,392.7 L66.3,392.6 L66.5,392.8 L66.7,393.0 L66.9,392.8 L67.1,392.5 L67.3,392.4 L67.6,392.5 L67.8,392.7 L68.0,392.6 L68.2,392.3 L68.4,392.2 L68.6,392.1 L68.8,392.2 L69.1,392.5 L69.3,392.6 L69.5,392.5 L69.7,392.4 L69.9,392.4 L70.1,392.5 L70.4,392.7 L70.6,392.8 L70.8,392.8 L71.0,392.7 L71.2,392.6 L71.4,392.6 L71.6,392.4 L71.9,392.4 L72.1,392.4 L72.3,392.5 L72.5,392.5 L72.7,392.6 L72.9,392.6 L73.2,392.6 L73.4,392.5 L73.6,392.4 L73.8,392.5 L74.0,392.6 L74.2,392.5 L74.4,392.6 L74.7,392.7 L74.9,392.6 L75.1,392.5 L75.3,392.5 L75.5,392.6 L75.7,392.7 L75.9,392.5 L76.2,392.2 L76.4,392.3 L76.6,392.5 L76.8,392.5 L77.0,392.4 L77.2,392.2 L77.5,392.3 L77.7,392.1 L77.9,392.1 L78.1,392.1 L78.3,391.9 L78.5,391.5 L78.7,391.4 L79.0,391.1 L79.2,390.7 L79.4,390.3 L79.6,389.6 L79.8,388.8 L80.0,388.0 L80.3,387.7 L80.5,388.0 L80.7,388.9 L80.9,389.9 L81.1,390.3 L81.3,390.5 L81.5,391.0 L81.8,391.4 L82.0,391.6 L82.2,391.8 L82.4,392.0 L82.6,392.2 L82.8,392.4 L83.1,392.3 L83.3,392.3 L83.5,392.5 L83.7,392.6 L83.9,392.6 L84.1,392.4 L84.3,392.0 L84.6,391.9 L84.8,392.0 L85.0,392.1 L85.2,392.4 L85.4,392.6 L85.6,392.3 L85.8,392.2 L86.1,392.3 L86.3,392.2 L86.5,392.2 L86.7,392.4 L86.9,392.5 L87.1,392.4 L87.4,392.3 L87.6,392.2 L87.8,392.0 L88.0,391.9 L88.2,392.1 L88.4,392.0 L88.6,391.9 L88.9,391.9 L89.1,392.0 L89.3,392.1 L89.5,391.9 L89.7,391.7 L89.9,391.9 L90.2,392.1 L90.4,391.9 L90.6,391.8 L90.8,391.9 L91.0,392.0 L91.2,391.9 L91.4,392.0 L91.7,392.0 L91.9,392.0 L92.1,392.0 L92.3,391.7 L92.5,391.8 L92.7,391.9 L92.9,391.8 L93.2,391.9 L93.4,392.1 L93.6,391.9 L93.8,391.5 L94.0,391.4 L94.2,391.4 L94.5,391.3 L94.7,391.3 L94.9,391.1 L95.1,391.0 L95.3,390.9 L95.5,390.8 L95.7,390.8 L96.0,390.8 L96.2,390.6 L96.4,390.1 L96.6,390.0 L96.8,389.9 L97.0,389.6 L97.3,389.3 L97.5,389.0 L97.7,388.5 L97.9,388.1 L98.1,387.5 L98.3,386.6 L98.5,385.8 L98.8,384.9 L99.0,383.4 L99.2,381.5 L99.4,379.3 L99.6,376.4 L99.8,372.1 L100.1,366.6 L100.3,360.3 L100.5,353.6 L100.7,350.3 L100.9,353.6 L101.1,360.7 L101.3,367.4 L101.6,372.3 L101.8,376.1 L102.0,379.0 L102.2,381.4 L102.4,383.0 L102.6,384.2 L102.8,385.6 L103.1,386.8 L103.3,387.4 L103.5,387.9 L103.7,388.3 L103.9,388.9 L104.1,389.4 L104.4,389.4 L104.6,389.4 L104.8,389.9 L105.0,390.7 L105.2,390.8 L105.4,390.8 L105.6,390.8 L105.9,390.8 L106.1,390.7 L106.3,390.8 L106.5,391.0 L106.7,391.2 L106.9,391.3 L107.2,391.3 L107.4,391.2 L107.6,391.4 L107.8,391.5 L108.0,391.5 L108.2,391.6 L108.4,391.8 L108.7,392.0 L108.9,392.0 L109.1,392.2 L109.3,392.3 L109.5,391.9 L109.7,391.8 L109.9,391.9 L110.2,391.8 L110.4,391.8 L110.6,392.1 L110.8,392.4 L111.0,392.2 L111.2,391.9 L111.5,391.6 L111.7,391.6 L111.9,391.8 L112.1,392.4 L112.3,392.5 L112.5,392.2 L112.7,392.0 L113.0,392.0 L113.2,392.1 L113.4,392.3 L113.6,392.4 L113.8,392.3 L114.0,392.2 L114.3,392.2 L114.5,392.1 L114.7,392.2 L114.9,392.2 L115.1,392.2 L115.3,392.1 L115.5,392.2 L115.8,392.3 L116.0,392.3 L116.2,392.0 L116.4,392.1 L116.6,392.1 L116.8,392.2 L117.0,392.4 L117.3,392.4 L117.5,392.3 L117.7,392.2 L117.9,392.3 L118.1,392.5 L118.3,392.5 L118.6,392.2 L118.8,392.2 L119.0,392.5 L119.2,392.5 L119.4,392.3 L119.6,392.3 L119.8,392.3 L120.1,392.2 L120.3,392.0 L120.5,392.1 L120.7,392.2 L120.9,392.3 L121.1,392.4 L121.4,392.3 L121.6,392.4 L121.8,392.5 L122.0,392.4 L122.2,392.3 L122.4,392.2 L122.6,392.3 L122.9,392.3 L123.1,392.1 L123.3,392.0 L123.5,392.0 L123.7,392.2 L123.9,392.3 L124.2,392.4 L124.4,392.3 L124.6,392.2 L124.8,392.4 L125.0,392.6 L125.2,392.6 L125.4,392.6 L125.7,392.5 L125.9,392.6 L126.1,392.6 L126.3,392.4 L126.5,392.5 L126.7,392.5 L126.9,392.2 L127.2,392.1 L127.4,392.3 L127.6,392.2 L127.8,392.3 L128.0,392.5 L128.2,392.5 L128.5,392.5 L128.7,392.2 L128.9,392.2 L129.1,392.4 L129.3,392.6 L129.5,392.6 L129.7,392.4 L130.0,392.3 L130.2,392.6 L130.4,392.5 L130.6,392.3 L130.8,392.1 L131.0,392.1 L131.3,392.3 L131.5,392.4 L131.7,392.3 L131.9,392.4 L132.1,392.3 L132.3,392.0 L132.5,391.9 L132.8,392.2 L133.0,392.3 L133.2,392.4 L133.4,392.5 L133.6,392.5 L133.8,392.3 L134.0,392.0 L134.3,392.0 L134.5,392.2 L134.7,392.5 L134.9,392.6 L135.1,392.2 L135.3,392.0 L135.6,392.2 L135.8,392.2 L136.0,392.2 L136.2,392.4 L136.4,392.1 L136.6,392.0 L136.8,392.1 L137.1,392.2 L137.3,392.3 L137.5,392.4 L137.7,392.3 L137.9,392.2 L138.1,392.3 L138.4,392.2 L138.6,392.4 L138.8,392.6 L139.0,392.5 L139.2,392.3 L139.4,392.3 L139.6,392.3 L139.9,392.2 L140.1,392.2 L140.3,392.2 L140.5,392.3 L140.7,392.2 L140.9,392.0 L141.1,392.1 L141.4,392.3 L141.6,392.3 L141.8,392.0 L142.0,392.0 L142.2,392.1 L142.4,392.2 L142.7,392.3 L142.9,392.4 L143.1,392.3 L143.3,392.1 L143.5,392.1 L143.7,392.1 L143.9,392.0 L144.2,391.9 L144.4,391.9 L144.6,391.9 L144.8,392.0 L145.0,392.0 L145.2,392.0 L145.5,391.9 L145.7,392.0 L145.9,392.0 L146.1,391.9 L146.3,392.0 L146.5,392.1 L146.7,392.1 L147.0,391.8 L147.2,391.6 L147.4,391.5 L147.6,391.7 L147.8,392.0 L148.0,392.1 L148.3,392.0 L148.5,391.8 L148.7,391.6 L148.9,391.6 L149.1,391.6 L149.3,391.6 L149.5,391.7 L149.8,391.8 L150.0,391.6 L150.2,391.4 L150.4,391.2 L150.6,391.1 L150.8,391.1 L151.0,391.3 L151.3,391.3 L151.5,391.1 L151.7,391.1 L151.9,390.9 L152.1,390.5 L152.3,390.2 L152.6,390.1 L152.8,390.1 L153.0,389.9 L153.2,389.6 L153.4,389.3 L153.6,388.9 L153.8,388.4 L154.1,388.2 L154.3,387.7 L154.5,386.9 L154.7,386.0 L154.9,385.1 L155.1,384.1 L155.4,383.1 L155.6,382.3 L155.8,381.3 L156.0,380.5 L156.2,380.4 L156.4,380.8 L156.6,381.4 L156.9,382.2 L157.1,383.2 L157.3,384.3 L157.5,385.1 L157.7,385.8 L157.9,386.6 L158.1,387.3 L158.4,388.0 L158.6,388.7 L158.8,389.1 L159.0,389.3 L159.2,389.6 L159.4,389.8 L159.7,389.8 L159.9,390.1 L160.1,390.5 L160.3,390.3 L160.5,390.3 L160.7,390.6 L160.9,390.8 L161.2,391.0 L161.4,391.1 L161.6,391.1 L161.8,391.2 L162.0,391.5 L162.2,391.6 L162.5,391.1 L162.7,390.8 L162.9,391.1 L163.1,391.1 L163.3,391.2 L163.5,391.3 L163.7,391.1 L164.0,391.1 L164.2,391.3 L164.4,391.3 L164.6,391.4 L164.8,391.4 L165.0,391.1 L165.3,391.0 L165.5,391.3 L165.7,391.2 L165.9,391.3 L166.1,391.3 L166.3,391.2 L166.5,391.2 L166.8,391.2 L167.0,391.1 L167.2,391.0 L167.4,391.3 L167.6,391.7 L167.8,391.7 L168.0,391.4 L168.3,391.4 L168.5,391.5 L168.7,391.5 L168.9,391.6 L169.1,391.4 L169.3,391.3 L169.6,391.4 L169.8,391.4 L170.0,391.2 L170.2,391.2 L170.4,391.4 L170.6,391.4 L170.8,391.2 L171.1,391.1 L171.3,391.1 L171.5,391.2 L171.7,391.1 L171.9,391.1 L172.1,391.0 L172.4,391.0 L172.6,391.0 L172.8,390.9 L173.0,390.6 L173.2,390.4 L173.4,390.5 L173.6,390.5 L173.9,390.4 L174.1,390.7 L174.3,390.7 L174.5,390.4 L174.7,389.8 L174.9,389.3 L175.1,389.1 L175.4,389.0 L175.6,389.0 L175.8,389.1 L176.0,388.6 L176.2,387.6 L176.4,387.0 L176.7,386.5 L176.9,385.7 L177.1,384.9 L177.3,383.8 L177.5,382.8 L177.7,382.5 L177.9,382.1 L178.2,381.8 L178.4,381.9 L178.6,382.4 L178.8,383.2 L179.0,383.9 L179.2,384.7 L179.5,385.7 L179.7,386.5 L179.9,387.2 L180.1,387.9 L180.3,388.3 L180.5,388.6 L180.7,388.9 L181.0,389.2 L181.2,389.3 L181.4,389.7 L181.6,390.0 L181.8,389.8 L182.0,389.9 L182.2,390.3 L182.5,390.6 L182.7,390.7 L182.9,390.8 L183.1,390.7 L183.3,390.6 L183.5,390.7 L183.8,390.9 L184.0,390.9 L184.2,390.9 L184.4,390.9 L184.6,390.9 L184.8,391.1 L185.0,391.0 L185.3,390.8 L185.5,391.0 L185.7,391.1 L185.9,391.0 L186.1,391.2 L186.3,391.4 L186.6,391.4 L186.8,391.5 L187.0,391.5 L187.2,391.4 L187.4,391.4 L187.6,391.6 L187.8,391.6 L188.1,391.5 L188.3,391.4 L188.5,391.5 L188.7,391.4 L188.9,391.2 L189.1,391.3 L189.4,391.2 L189.6,391.2 L189.8,391.5 L190.0,391.7 L190.2,391.5 L190.4,391.3 L190.6,391.3 L190.9,391.3 L191.1,391.2 L191.3,391.3 L191.5,391.5 L191.7,391.4 L191.9,391.4 L192.1,391.6 L192.4,391.5 L192.6,391.2 L192.8,391.4 L193.0,391.7 L193.2,391.7 L193.4,391.6 L193.7,391.6 L193.9,391.8 L194.1,391.7 L194.3,391.6 L194.5,391.7 L194.7,391.7 L194.9,391.7 L195.2,391.7 L195.4,391.5 L195.6,391.5 L195.8,391.7 L196.0,391.8 L196.2,391.6 L196.5,391.4 L196.7,391.5 L196.9,391.5 L197.1,391.6 L197.3,391.6 L197.5,391.7 L197.7,391.7 L198.0,391.5 L198.2,391.6 L198.4,391.6 L198.6,391.4 L198.8,391.4 L199.0,391.6 L199.2,391.8 L199.5,391.8 L199.7,391.6 L199.9,391.4 L200.1,391.5 L200.3,391.5 L200.5,391.7 L200.8,391.7 L201.0,391.5 L201.2,391.5 L201.4,391.5 L201.6,391.7 L201.8,391.9 L202.0,392.0 L202.3,392.0 L202.5,391.9 L202.7,391.8 L202.9,391.7 L203.1,391.8 L203.3,391.7 L203.6,391.4 L203.8,391.6 L204.0,391.7 L204.2,391.4 L204.4,391.4 L204.6,391.8 L204.8,391.9 L205.1,391.7 L205.3,391.5 L205.5,391.6 L205.7,391.7 L205.9,391.5 L206.1,391.5 L206.3,391.7 L206.6,391.8 L206.8,391.6 L207.0,391.2 L207.2,391.0 L207.4,391.3 L207.6,391.4 L207.9,391.6 L208.1,391.8 L208.3,391.7 L208.5,391.8 L208.7,391.9 L208.9,391.8 L209.1,391.6 L209.4,391.4 L209.6,391.3 L209.8,391.5 L210.0,391.6 L210.2,391.5 L210.4,391.4 L210.7,391.4 L210.9,391.8 L211.1,392.0 L211.3,391.6 L211.5,391.2 L211.7,391.3 L211.9,391.4 L212.2,391.3 L212.4,391.3 L212.6,391.4 L212.8,391.5 L213.0,391.5 L213.2,391.5 L213.5,391.6 L213.7,391.7 L213.9,391.4 L214.1,391.2 L214.3,391.2 L214.5,391.3 L214.7,391.1 L215.0,391.0 L215.2,391.1 L215.4,391.1 L215.6,391.0 L215.8,391.2 L216.0,391.3 L216.2,391.1 L216.5,391.1 L216.7,391.2 L216.9,391.3 L217.1,391.5 L217.3,391.5 L217.5,391.3 L217.8,391.5 L218.0,391.7 L218.2,391.7 L218.4,391.7 L218.6,391.7 L218.8,391.5 L219.0,391.4 L219.3,391.4 L219.5,391.5 L219.7,391.4 L219.9,391.1 L220.1,391.0 L220.3,391.1 L220.6,391.2 L220.8,391.3 L221.0,391.2 L221.2,391.2 L221.4,391.3 L221.6,391.3 L221.8,391.3 L222.1,391.3 L222.3,391.1 L222.5,391.0 L222.7,391.2 L222.9,391.3 L223.1,391.2 L223.3,391.1 L223.6,391.1 L223.8,391.1 L224.0,391.2 L224.2,391.4 L224.4,391.4 L224.6,391.4 L224.9,391.4 L225.1,391.5 L225.3,391.5 L225.5,391.2 L225.7,390.9 L225.9,391.0 L226.1,391.0 L226.4,391.0 L226.6,391.4 L226.8,391.6 L227.0,391.4 L227.2,391.1 L227.4,390.8 L227.7,390.8 L227.9,391.0 L228.1,390.7 L228.3,390.6 L228.5,390.8 L228.7,390.8 L228.9,390.7 L229.2,390.9 L229.4,391.1 L229.6,391.2 L229.8,391.2 L230.0,391.1 L230.2,391.0 L230.5,391.0 L230.7,391.1 L230.9,391.1 L231.1,391.0 L231.3,391.0 L231.5,391.1 L231.7,391.2 L232.0,391.1 L232.2,391.1 L232.4,391.1 L232.6,391.2 L232.8,391.4 L233.0,391.3 L233.2,391.0 L233.5,391.0 L233.7,391.3 L233.9,391.4 L234.1,391.2 L234.3,391.0 L234.5,391.1 L234.8,391.0 L235.0,390.7 L235.2,390.6 L235.4,390.7 L235.6,390.9 L235.8,390.9 L236.0,391.0 L236.3,391.0 L236.5,390.8 L236.7,390.7 L236.9,390.7 L237.1,390.5 L237.3,390.5 L237.6,390.5 L237.8,390.4 L238.0,390.6 L238.2,390.9 L238.4,390.8 L238.6,390.6 L238.8,390.7 L239.1,390.7 L239.3,390.5 L239.5,390.3 L239.7,390.2 L239.9,390.4 L240.1,390.5 L240.3,390.4 L240.6,390.4 L240.8,390.4 L241.0,390.3 L241.2,390.4 L241.4,390.5 L241.6,390.4 L241.9,390.4 L242.1,390.5 L242.3,390.7 L242.5,390.7 L242.7,390.7 L242.9,390.8 L243.1,390.6 L243.4,390.2 L243.6,390.2 L243.8,390.3 L244.0,390.2 L244.2,390.2 L244.4,390.4 L244.7,390.5 L244.9,390.4 L245.1,390.3 L245.3,390.2 L245.5,390.3 L245.7,390.6 L245.9,390.7 L246.2,390.5 L246.4,390.1 L246.6,390.0 L246.8,390.2 L247.0,390.6 L247.2,390.8 L247.4,390.5 L247.7,390.3 L247.9,390.2 L248.1,390.1 L248.3,390.2 L248.5,390.3 L248.7,390.3 L249.0,390.1 L249.2,390.0 L249.4,389.8 L249.6,389.7 L249.8,389.8 L250.0,390.0 L250.2,390.1 L250.5,390.0 L250.7,389.8 L250.9,389.8 L251.1,389.8 L251.3,389.8 L251.5,390.0 L251.8,390.4 L252.0,390.3 L252.2,389.6 L252.4,389.5 L252.6,389.8 L252.8,390.1 L253.0,390.0 L253.3,389.8 L253.5,390.0 L253.7,389.9 L253.9,389.5 L254.1,389.5 L254.3,389.5 L254.6,389.4 L254.8,389.3 L255.0,389.6 L255.2,389.8 L255.4,389.5 L255.6,389.3 L255.8,389.3 L256.1,389.4 L256.3,389.5 L256.5,389.5 L256.7,389.2 L256.9,388.9 L257.1,389.0 L257.3,389.4 L257.6,389.6 L257.8,389.6 L258.0,389.4 L258.2,389.2 L258.4,389.2 L258.6,389.4 L258.9,389.3 L259.1,389.2 L259.3,389.1 L259.5,389.1 L259.7,389.1 L259.9,389.0 L260.1,389.0 L260.4,389.1 L260.6,389.1 L260.8,389.0 L261.0,389.1 L261.2,389.3 L261.4,389.0 L261.7,388.8 L261.9,388.8 L262.1,388.8 L262.3,388.9 L262.5,388.8 L262.7,388.8 L262.9,389.0 L263.2,388.9 L263.4,388.7 L263.6,388.8 L263.8,388.8 L264.0,388.6 L264.2,388.5 L264.4,388.4 L264.7,388.3 L264.9,388.3 L265.1,388.2 L265.3,388.1 L265.5,388.4 L265.7,388.5 L266.0,388.5 L266.2,388.5 L266.4,388.3 L266.6,388.2 L266.8,388.4 L267.0,388.4 L267.2,388.2 L267.5,388.0 L267.7,387.8 L267.9,387.9 L268.1,388.1 L268.3,388.2 L268.5,388.1 L268.8,388.2 L269.0,388.3 L269.2,388.2 L269.4,388.1 L269.6,388.1 L269.8,387.9 L270.0,387.7 L270.3,387.6 L270.5,387.7 L270.7,388.0 L270.9,388.1 L271.1,387.9 L271.3,387.8 L271.6,387.8" stroke="#000000" stroke-width="1.70"/>
<path d="M34.9,345.6 L35.1,345.3 L35.3,345.3 L35.5,345.2 L35.7,345.3 L35.9,345.8 L36.1,346.1 L36.4,346.1 L36.6,345.7 L36.8,345.4 L37.0,345.4 L37.2,345.7 L37.4,346.0 L37.6,345.9 L37.9,345.5 L38.1,345.1 L38.3,345.0 L38.5,345.2 L38.7,345.3 L38.9,345.3 L39.2,345.3 L39.4,345.6 L39.6,345.7 L39.8,345.6 L40.0,345.7 L40.2,345.7 L40.4,345.7 L40.7,345.5 L40.9,345.5 L41.1,345.6 L41.3,345.5 L41.5,345.5 L41.7,345.8 L42.0,345.8 L42.2,345.6 L42.4,345.4 L42.6,345.4 L42.8,345.4 L43.0,345.1 L43.2,344.8 L43.5,345.0 L43.7,345.2 L43.9,345.1 L44.1,345.1 L44.3,345.0 L44.5,345.0 L44.7,345.5 L45.0,345.8 L45.2,345.5 L45.4,345.1 L45.6,345.2 L45.8,345.0 L46.0,344.9 L46.3,345.0 L46.5,344.7 L46.7,344.4 L46.9,344.5 L47.1,344.5 L47.3,344.4 L47.5,344.3 L47.8,344.7 L48.0,345.0 L48.2,345.0 L48.4,345.4 L48.6,345.7 L48.8,345.4 L49.1,345.0 L49.3,345.0 L49.5,345.6 L49.7,345.7 L49.9,345.3 L50.1,345.1 L50.3,344.9 L50.6,344.6 L50.8,344.5 L51.0,344.6 L51.2,344.9 L51.4,345.3 L51.6,345.3 L51.8,344.9 L52.1,344.6 L52.3,344.5 L52.5,344.5 L52.7,344.5 L52.9,344.7 L53.1,345.3 L53.4,345.2 L53.6,344.7 L53.8,344.8 L54.0,344.9 L54.2,344.7 L54.4,344.7 L54.6,344.8 L54.9,344.6 L55.1,344.7 L55.3,344.9 L55.5,344.6 L55.7,344.6 L55.9,344.9 L56.2,345.1 L56.4,345.3 L56.6,345.1 L56.8,344.8 L57.0,344.8 L57.2,344.8 L57.4,344.7 L57.7,344.5 L57.9,344.3 L58.1,344.5 L58.3,344.6 L58.5,344.2 L58.7,344.0 L59.0,344.3 L59.2,344.6 L59.4,344.7 L59.6,344.3 L59.8,344.0 L60.0,344.1 L60.2,344.4 L60.5,344.6 L60.7,344.3 L60.9,344.2 L61.1,344.7 L61.3,344.8 L61.5,344.5 L61.7,344.0 L62.0,343.8 L62.2,344.3 L62.4,344.6 L62.6,344.7 L62.8,344.9 L63.0,344.6 L63.3,344.0 L63.5,344.2 L63.7,344.6 L63.9,344.6 L64.1,344.2 L64.3,344.0 L64.5,344.1 L64.8,344.3 L65.0,344.2 L65.2,344.2 L65.4,344.3 L65.6,344.4 L65.8,344.8 L66.1,344.8 L66.3,344.4 L66.5,344.4 L66.7,344.4 L66.9,344.1 L67.1,343.7 L67.3,343.8 L67.6,343.9 L67.8,343.8 L68.0,344.0 L68.2,344.3 L68.4,344.1 L68.6,343.9 L68.8,344.1 L69.1,344.2 L69.3,344.2 L69.5,344.4 L69.7,344.3 L69.9,344.0 L70.1,343.8 L70.4,344.0 L70.6,344.3 L70.8,344.1 L71.0,343.7 L71.2,343.5 L71.4,343.5 L71.6,343.4 L71.9,343.4 L72.1,343.6 L72.3,343.9 L72.5,344.0 L72.7,344.3 L72.9,344.7 L73.2,344.2 L73.4,343.6 L73.6,344.1 L73.8,344.5 L74.0,344.0 L74.2,343.4 L74.4,343.4 L74.7,343.6 L74.9,343.7 L75.1,343.5 L75.3,343.2 L75.5,343.2 L75.7,343.4 L75.9,343.2 L76.2,343.1 L76.4,343.4 L76.6,343.4 L76.8,343.4 L77.0,343.4 L77.2,343.1 L77.5,343.3 L77.7,343.6 L77.9,343.8 L78.1,343.4 L78.3,342.9 L78.5,342.8 L78.7,342.7 L79.0,342.3 L79.2,341.9 L79.4,341.4 L79.6,341.1 L79.8,340.3 L80.0,339.3 L80.3,339.0 L80.5,339.3 L80.7,340.1 L80.9,340.5 L81.1,340.9 L81.3,341.7 L81.5,342.3 L81.8,342.4 L82.0,342.5 L82.2,342.3 L82.4,342.3 L82.6,342.7 L82.8,343.0 L83.1,343.2 L83.3,343.2 L83.5,342.9 L83.7,342.6 L83.9,342.8 L84.1,342.8 L84.3,342.7 L84.6,342.9 L84.8,342.8 L85.0,342.5 L85.2,342.7 L85.4,342.9 L85.6,343.0 L85.8,342.9 L86.1,343.0 L86.3,343.5 L86.5,343.3 L86.7,343.0 L86.9,343.2 L87.1,343.4 L87.4,343.2 L87.6,342.9 L87.8,342.5 L88.0,342.3 L88.2,342.8 L88.4,343.2 L88.6,343.1 L88.9,342.8 L89.1,342.4 L89.3,342.0 L89.5,342.0 L89.7,341.8 L89.9,341.8 L90.2,342.2 L90.4,342.6 L90.6,342.7 L90.8,342.6 L91.0,342.2 L91.2,341.9 L91.4,341.8 L91.7,342.2 L91.9,342.5 L92.1,342.1 L92.3,341.5 L92.5,341.6 L92.7,342.1 L92.9,342.2 L93.2,342.1 L93.4,342.2 L93.6,342.3 L93.8,341.7 L94.0,341.1 L94.2,341.4 L94.5,341.8 L94.7,341.5 L94.9,341.0 L95.1,340.6 L95.3,340.4 L95.5,340.4 L95.7,340.4 L96.0,340.4 L96.2,340.5 L96.4,340.1 L96.6,339.4 L96.8,339.1 L97.0,338.8 L97.3,338.5 L97.5,338.2 L97.7,337.8 L97.9,337.2 L98.1,336.2 L98.3,334.8 L98.5,333.5 L98.8,332.0 L99.0,330.1 L99.2,327.9 L99.4,325.2 L99.6,321.5 L99.8,315.5 L100.1,307.4 L100.3,297.2 L100.5,286.2 L100.7,280.9 L100.9,286.4 L101.1,297.0 L101.3,307.1 L101.6,314.8 L101.8,320.5 L102.0,325.1 L102.2,328.5 L102.4,330.7 L102.6,332.8 L102.8,334.2 L103.1,334.7 L103.3,335.3 L103.5,336.3 L103.7,337.1 L103.9,337.7 L104.1,338.1 L104.4,338.5 L104.6,338.8 L104.8,339.3 L105.0,339.9 L105.2,339.9 L105.4,339.8 L105.6,339.8 L105.9,339.9 L106.1,340.3 L106.3,340.2 L106.5,340.3 L106.7,340.8 L106.9,340.9 L107.2,341.1 L107.4,341.5 L107.6,341.3 L107.8,341.0 L108.0,341.3 L108.2,341.6 L108.4,341.2 L108.7,340.6 L108.9,340.6 L109.1,341.2 L109.3,341.4 L109.5,341.3 L109.7,341.3 L109.9,341.5 L110.2,341.4 L110.4,341.1 L110.6,341.3 L110.8,341.7 L111.0,341.4 L111.2,341.0 L111.5,341.0 L111.7,341.2 L111.9,341.0 L112.1,341.3 L112.3,341.7 L112.5,341.3 L112.7,341.4 L113.0,342.2 L113.2,342.3 L113.4,341.8 L113.6,341.5 L113.8,341.2 L114.0,341.2 L114.3,341.2 L114.5,341.1 L114.7,341.1 L114.9,341.0 L115.1,341.0 L115.3,341.0 L115.5,341.0 L115.8,341.2 L116.0,341.6 L116.2,341.6 L116.4,341.4 L116.6,341.6 L116.8,341.8 L117.0,341.6 L117.3,341.3 L117.5,341.0 L117.7,340.9 L117.9,341.3 L118.1,341.5 L118.3,341.5 L118.6,341.5 L118.8,341.7 L119.0,341.7 L119.2,341.2 L119.4,340.8 L119.6,340.9 L119.8,341.4 L120.1,341.1 L120.3,340.7 L120.5,340.9 L120.7,341.1 L120.9,341.0 L121.1,340.8 L121.4,340.4 L121.6,340.3 L121.8,340.6 L122.0,341.1 L122.2,341.4 L122.4,341.4 L122.6,341.4 L122.9,341.4 L123.1,341.3 L123.3,341.0 L123.5,341.1 L123.7,341.3 L123.9,341.3 L124.2,340.9 L124.4,340.6 L124.6,340.9 L124.8,341.0 L125.0,340.9 L125.2,340.8 L125.4,340.9 L125.7,341.1 L125.9,341.1 L126.1,341.2 L126.3,341.4 L126.5,341.2 L126.7,340.9 L126.9,340.9 L127.2,340.7 L127.4,340.8 L127.6,340.9 L127.8,340.8 L128.0,340.8 L128.2,340.6 L128.5,340.4 L128.7,340.9 L128.9,341.2 L129.1,340.8 L129.3,340.3 L129.5,340.7 L129.7,341.0 L130.0,340.7 L130.2,340.7 L130.4,340.9 L130.6,341.2 L130.8,341.5 L131.0,341.3 L131.3,341.2 L131.5,341.3 L131.7,341.3 L131.9,340.9 L132.1,340.4 L132.3,340.3 L132.5,340.4 L132.8,340.8 L133.0,340.9 L133.2,340.6 L133.4,340.3 L133.6,340.2 L133.8,340.4 L134.0,340.5 L134.3,340.6 L134.5,340.8 L134.7,340.7 L134.9,340.6 L135.1,340.7 L135.3,340.5 L135.6,340.2 L135.8,340.2 L136.0,340.4 L136.2,340.6 L136.4,340.6 L136.6,340.4 L136.8,340.2 L137.1,340.1 L137.3,340.0 L137.5,339.7 L137.7,339.9 L137.9,340.4 L138.1,340.5 L138.4,340.4 L138.6,340.2 L138.8,339.8 L139.0,339.9 L139.2,340.3 L139.4,340.5 L139.6,340.5 L139.9,340.2 L140.1,339.7 L140.3,339.7 L140.5,340.0 L140.7,340.3 L140.9,340.4 L141.1,340.1 L141.4,339.8 L141.6,339.7 L141.8,339.9 L142.0,340.1 L142.2,340.0 L142.4,339.9 L142.7,339.6 L142.9,339.6 L143.1,339.7 L143.3,339.8 L143.5,339.8 L143.7,339.7 L143.9,339.5 L144.2,339.3 L144.4,339.5 L144.6,339.7 L144.8,339.8 L145.0,339.9 L145.2,339.6 L145.5,339.3 L145.7,339.3 L145.9,339.3 L146.1,339.5 L146.3,339.9 L146.5,339.9 L146.7,339.2 L147.0,338.8 L147.2,339.0 L147.4,338.9 L147.6,339.0 L147.8,339.3 L148.0,339.3 L148.3,339.4 L148.5,339.2 L148.7,338.9 L148.9,339.1 L149.1,339.2 L149.3,338.9 L149.5,339.1 L149.8,339.1 L150.0,339.0 L150.2,339.0 L150.4,339.2 L150.6,339.0 L150.8,338.5 L151.0,338.7 L151.3,339.1 L151.5,339.1 L151.7,338.4 L151.9,337.6 L152.1,337.1 L152.3,336.8 L152.6,336.9 L152.8,337.2 L153.0,337.1 L153.2,336.7 L153.4,336.6 L153.6,336.6 L153.8,336.4 L154.1,335.6 L154.3,334.7 L154.5,334.4 L154.7,334.2 L154.9,333.6 L155.1,332.2 L155.4,330.8 L155.6,329.7 L155.8,328.9 L156.0,328.4 L156.2,327.8 L156.4,327.2 L156.6,327.4 L156.9,328.3 L157.1,329.2 L157.3,330.1 L157.5,331.0 L157.7,332.2 L157.9,333.3 L158.1,333.9 L158.4,334.3 L158.6,334.6 L158.8,335.4 L159.0,336.1 L159.2,336.3 L159.4,336.4 L159.7,336.5 L159.9,336.8 L160.1,337.2 L160.3,337.2 L160.5,337.4 L160.7,337.7 L160.9,337.7 L161.2,337.7 L161.4,338.0 L161.6,338.1 L161.8,337.9 L162.0,337.7 L162.2,337.7 L162.5,338.0 L162.7,337.8 L162.9,337.4 L163.1,337.4 L163.3,337.8 L163.5,338.3 L163.7,338.2 L164.0,337.7 L164.2,337.5 L164.4,337.8 L164.6,337.7 L164.8,337.4 L165.0,337.5 L165.3,337.7 L165.5,337.6 L165.7,337.8 L165.9,337.9 L166.1,337.7 L166.3,337.7 L166.5,337.8 L166.8,337.4 L167.0,337.2 L167.2,337.6 L167.4,337.5 L167.6,337.2 L167.8,337.4 L168.0,337.5 L168.3,337.3 L168.5,337.3 L168.7,337.5 L168.9,337.8 L169.1,337.9 L169.3,337.5 L169.6,337.4 L169.8,337.8 L170.0,337.6 L170.2,337.3 L170.4,337.4 L170.6,337.8 L170.8,337.9 L171.1,337.0 L171.3,336.5 L171.5,336.8 L171.7,336.8 L171.9,336.7 L172.1,336.7 L172.4,336.7 L172.6,336.7 L172.8,336.5 L173.0,335.6 L173.2,335.3 L173.4,335.6 L173.6,335.8 L173.9,336.0 L174.1,335.9 L174.3,335.6 L174.5,335.8 L174.7,335.8 L174.9,335.4 L175.1,335.0 L175.4,334.2 L175.6,333.7 L175.8,333.5 L176.0,333.1 L176.2,332.9 L176.4,332.2 L176.7,331.0 L176.9,330.0 L177.1,329.3 L177.3,328.5 L177.5,327.5 L177.7,326.6 L177.9,326.5 L178.2,326.4 L178.4,326.5 L178.6,327.3 L178.8,328.1 L179.0,328.6 L179.2,328.8 L179.5,329.5 L179.7,330.8 L179.9,332.1 L180.1,332.6 L180.3,332.9 L180.5,333.3 L180.7,333.6 L181.0,334.1 L181.2,334.7 L181.4,334.8 L181.6,334.5 L181.8,334.5 L182.0,334.7 L182.2,335.0 L182.5,335.2 L182.7,335.4 L182.9,335.4 L183.1,335.5 L183.3,335.4 L183.5,335.1 L183.8,335.1 L184.0,335.4 L184.2,335.3 L184.4,335.1 L184.6,335.3 L184.8,335.4 L185.0,335.7 L185.3,336.1 L185.5,336.1 L185.7,335.6 L185.9,335.3 L186.1,335.3 L186.3,335.4 L186.6,335.2 L186.8,334.9 L187.0,335.0 L187.2,335.5 L187.4,335.7 L187.6,335.4 L187.8,335.5 L188.1,335.8 L188.3,335.9 L188.5,335.5 L188.7,335.0 L188.9,335.1 L189.1,335.5 L189.4,335.5 L189.6,335.3 L189.8,335.1 L190.0,335.3 L190.2,335.0 L190.4,334.6 L190.6,334.7 L190.9,335.1 L191.1,335.2 L191.3,335.3 L191.5,335.3 L191.7,335.2 L191.9,335.3 L192.1,335.3 L192.4,335.3 L192.6,335.3 L192.8,334.7 L193.0,334.3 L193.2,334.9 L193.4,335.2 L193.7,334.8 L193.9,334.4 L194.1,334.2 L194.3,334.3 L194.5,334.5 L194.7,335.0 L194.9,335.2 L195.2,334.8 L195.4,334.5 L195.6,334.9 L195.8,335.1 L196.0,334.9 L196.2,334.7 L196.5,334.6 L196.7,334.1 L196.9,333.7 L197.1,334.1 L197.3,334.5 L197.5,334.5 L197.7,334.3 L198.0,334.3 L198.2,334.0 L198.4,334.1 L198.6,334.4 L198.8,334.2 L199.0,333.8 L199.2,333.8 L199.5,334.1 L199.7,334.0 L199.9,333.7 L200.1,333.7 L200.3,334.0 L200.5,333.8 L200.8,333.2 L201.0,333.4 L201.2,333.9 L201.4,333.8 L201.6,333.8 L201.8,333.9 L202.0,333.7 L202.3,333.4 L202.5,333.4 L202.7,333.3 L202.9,333.4 L203.1,333.7 L203.3,333.5 L203.6,333.3 L203.8,333.4 L204.0,333.2 L204.2,332.9 L204.4,332.8 L204.6,332.6 L204.8,332.6 L205.1,332.7 L205.3,332.8 L205.5,333.0 L205.7,332.9 L205.9,332.6 L206.1,332.6 L206.3,332.3 L206.6,332.3 L206.8,332.5 L207.0,332.5 L207.2,332.5 L207.4,332.5 L207.6,332.5 L207.9,332.3 L208.1,332.3 L208.3,332.2 L208.5,331.6 L208.7,331.8 L208.9,332.3 L209.1,332.2 L209.4,331.8 L209.6,331.5 L209.8,331.6 L210.0,331.8 L210.2,331.7 L210.4,331.7 L210.7,331.9 L210.9,332.0 L211.1,331.9 L211.3,331.6 L211.5,331.4 L211.7,331.4 L211.9,331.5 L212.2,331.6 L212.4,331.6 L212.6,331.6 L212.8,331.7 L213.0,331.3 L213.2,330.9 L213.5,331.1 L213.7,331.2 L213.9,331.1 L214.1,331.2 L214.3,331.1 L214.5,330.8 L214.7,330.5 L215.0,330.2 L215.2,330.2 L215.4,330.6 L215.6,330.7 L215.8,330.9 L216.0,331.0 L216.2,330.5 L216.5,330.0 L216.7,330.0 L216.9,330.1 L217.1,329.9 L217.3,329.8 L217.5,329.9 L217.8,329.7 L218.0,329.5 L218.2,329.6 L218.4,329.8 L218.6,329.8 L218.8,329.8 L219.0,330.0 L219.3,329.7 L219.5,329.8 L219.7,330.2 L219.9,329.9 L220.1,329.1 L220.3,328.8 L220.6,328.9 L220.8,328.9 L221.0,328.7 L221.2,328.8 L221.4,329.0 L221.6,328.7 L221.8,328.1 L222.1,327.9 L222.3,328.3 L222.5,328.8 L222.7,328.8 L222.9,328.3 L223.1,328.1 L223.3,328.3 L223.6,328.3 L223.8,328.0 L224.0,327.9 L224.2,328.2 L224.4,328.5 L224.6,328.1 L224.9,327.5 L225.1,327.4 L225.3,327.2 L225.5,327.4 L225.7,327.7 L225.9,327.5 L226.1,327.5 L226.4,327.6 L226.6,327.6 L226.8,327.3 L227.0,327.1 L227.2,327.2 L227.4,327.4 L227.7,327.7 L227.9,327.6 L228.1,327.3 L228.3,327.2 L228.5,327.0 L228.7,326.7 L228.9,326.8 L229.2,327.0 L229.4,326.8 L229.6,326.5 L229.8,326.7 L230.0,326.9 L230.2,326.5 L230.5,325.9 L230.7,325.8 L230.9,325.8 L231.1,325.8 L231.3,325.9 L231.5,326.2 L231.7,326.1 L232.0,325.6 L232.2,325.2 L232.4,325.2 L232.6,325.3 L232.8,325.5 L233.0,325.4 L233.2,324.9 L233.5,324.6 L233.7,324.6 L233.9,324.8 L234.1,324.8 L234.3,324.5 L234.5,324.5 L234.8,324.4 L235.0,324.7 L235.2,325.3 L235.4,325.6 L235.6,325.2 L235.8,324.6 L236.0,324.2 L236.3,324.2 L236.5,324.2 L236.7,324.5 L236.9,324.6 L237.1,324.4 L237.3,324.2 L237.6,324.2 L237.8,323.9 L238.0,323.7 L238.2,323.8 L238.4,323.9 L238.6,323.9 L238.8,323.9 L239.1,323.7 L239.3,323.1 L239.5,323.2 L239.7,323.5 L239.9,323.2 L240.1,322.8 L240.3,322.5 L240.6,322.4 L240.8,322.4 L241.0,322.5 L241.2,322.6 L241.4,322.4 L241.6,322.0 L241.9,321.7 L242.1,321.5 L242.3,321.7 L242.5,322.3 L242.7,322.6 L242.9,322.5 L243.1,322.1 L243.4,321.8 L243.6,322.1 L243.8,322.2 L244.0,321.6 L244.2,321.0 L244.4,320.7 L244.7,320.6 L244.9,320.9 L245.1,321.2 L245.3,321.2 L245.5,321.3 L245.7,320.9 L245.9,320.1 L246.2,319.7 L246.4,319.8 L246.6,320.1 L246.8,320.3 L247.0,320.4 L247.2,320.5 L247.4,320.0 L247.7,319.6 L247.9,319.7 L248.1,319.9 L248.3,319.9 L248.5,319.4 L248.7,319.5 L249.0,320.0 L249.2,319.7 L249.4,318.9 L249.6,318.7 L249.8,318.9 L250.0,318.8 L250.2,318.3 L250.5,318.3 L250.7,318.6 L250.9,318.6 L251.1,318.5 L251.3,318.3 L251.5,318.1 L251.8,318.0 L252.0,317.7 L252.2,317.3 L252.4,317.2 L252.6,317.4 L252.8,317.4 L253.0,317.2 L253.3,317.0 L253.5,316.8 L253.7,316.6 L253.9,316.0 L254.1,315.9 L254.3,316.4 L254.6,316.7 L254.8,316.6 L255.0,316.2 L255.2,316.0 L255.4,316.2 L255.6,316.3 L255.8,315.7 L256.1,315.0 L256.3,314.9 L256.5,315.3 L256.7,315.5 L256.9,315.4 L257.1,315.5 L257.3,315.6 L257.6,315.2 L257.8,314.7 L258.0,314.5 L258.2,314.6 L258.4,314.8 L258.6,314.7 L258.9,314.1 L259.1,313.8 L259.3,313.7 L259.5,313.7 L259.7,313.5 L259.9,313.4 L260.1,313.5 L260.4,313.2 L260.6,312.6 L260.8,312.5 L261.0,312.8 L261.2,312.9 L261.4,312.8 L261.7,312.0 L261.9,311.8 L262.1,312.1 L262.3,312.4 L262.5,312.5 L262.7,311.8 L262.9,311.4 L263.2,311.3 L263.4,311.1 L263.6,311.2 L263.8,311.4 L264.0,311.3 L264.2,310.9 L264.4,310.5 L264.7,310.5 L264.9,310.6 L265.1,310.5 L265.3,310.2 L265.5,309.6 L265.7,309.7 L266.0,309.9 L266.2,309.5 L266.4,309.1 L266.6,308.8 L266.8,308.7 L267.0,308.9 L267.2,308.6 L267.5,308.4 L267.7,308.1 L267.9,308.0 L268.1,308.6 L268.3,308.7 L268.5,308.5 L268.8,308.6 L269.0,308.4 L269.2,307.6 L269.4,307.1 L269.6,307.1 L269.8,306.5 L270.0,305.9 L270.3,306.3 L270.5,306.7 L270.7,306.5 L270.9,306.3 L271.1,306.1 L271.3,305.9 L271.6,305.7" stroke="#0a7d1a" stroke-width="1.85"/>
<path d="M34.9,275.8 L35.1,276.2 L35.3,276.0 L35.5,275.6 L35.7,275.5 L35.9,275.4 L36.1,275.4 L36.4,275.7 L36.6,275.8 L36.8,275.7 L37.0,275.7 L37.2,275.8 L37.4,275.8 L37.6,275.5 L37.9,275.6 L38.1,275.8 L38.3,276.0 L38.5,276.0 L38.7,275.6 L38.9,275.4 L39.2,275.4 L39.4,275.2 L39.6,275.0 L39.8,275.1 L40.0,275.2 L40.2,275.4 L40.4,275.5 L40.7,275.6 L40.9,275.7 L41.1,275.6 L41.3,275.3 L41.5,275.4 L41.7,275.7 L42.0,275.8 L42.2,275.6 L42.4,275.2 L42.6,275.2 L42.8,275.6 L43.0,275.7 L43.2,275.6 L43.5,275.8 L43.7,275.8 L43.9,275.6 L44.1,275.3 L44.3,275.3 L44.5,275.3 L44.7,275.4 L45.0,275.5 L45.2,275.2 L45.4,275.0 L45.6,275.2 L45.8,275.2 L46.0,275.2 L46.3,275.1 L46.5,275.0 L46.7,275.0 L46.9,275.0 L47.1,274.9 L47.3,275.2 L47.5,275.4 L47.8,275.4 L48.0,275.3 L48.2,275.4 L48.4,275.4 L48.6,275.0 L48.8,274.8 L49.1,275.2 L49.3,275.8 L49.5,275.8 L49.7,275.6 L49.9,275.6 L50.1,275.2 L50.3,274.8 L50.6,275.1 L50.8,275.2 L51.0,275.0 L51.2,275.0 L51.4,275.1 L51.6,275.2 L51.8,275.1 L52.1,275.2 L52.3,275.6 L52.5,275.5 L52.7,274.9 L52.9,274.8 L53.1,275.1 L53.4,275.3 L53.6,275.3 L53.8,275.3 L54.0,275.0 L54.2,274.6 L54.4,274.6 L54.6,274.7 L54.9,274.8 L55.1,274.7 L55.3,274.7 L55.5,275.1 L55.7,275.1 L55.9,274.9 L56.2,274.6 L56.4,274.4 L56.6,274.7 L56.8,275.1 L57.0,275.1 L57.2,275.1 L57.4,274.9 L57.7,274.6 L57.9,274.8 L58.1,274.9 L58.3,274.8 L58.5,274.6 L58.7,274.5 L59.0,274.6 L59.2,274.6 L59.4,274.5 L59.6,274.8 L59.8,275.0 L60.0,274.8 L60.2,274.5 L60.5,274.6 L60.7,274.9 L60.9,274.5 L61.1,274.1 L61.3,274.2 L61.5,274.3 L61.7,274.4 L62.0,274.6 L62.2,274.7 L62.4,274.7 L62.6,274.8 L62.8,274.7 L63.0,274.0 L63.3,274.0 L63.5,274.3 L63.7,274.5 L63.9,274.5 L64.1,274.3 L64.3,274.3 L64.5,274.4 L64.8,274.6 L65.0,274.2 L65.2,273.9 L65.4,274.1 L65.6,274.2 L65.8,274.1 L66.1,273.9 L66.3,273.9 L66.5,274.2 L66.7,274.3 L66.9,274.2 L67.1,274.2 L67.3,274.3 L67.6,274.1 L67.8,274.1 L68.0,274.3 L68.2,274.0 L68.4,273.4 L68.6,273.6 L68.8,273.7 L69.1,273.6 L69.3,274.2 L69.5,274.8 L69.7,274.9 L69.9,274.5 L70.1,274.0 L70.4,274.0 L70.6,274.2 L70.8,274.1 L71.0,274.1 L71.2,274.0 L71.4,273.8 L71.6,273.8 L71.9,273.9 L72.1,274.0 L72.3,274.1 L72.5,273.9 L72.7,273.5 L72.9,273.3 L73.2,273.1 L73.4,273.3 L73.6,273.4 L73.8,273.4 L74.0,273.7 L74.2,274.3 L74.4,274.3 L74.7,273.7 L74.9,273.4 L75.1,273.5 L75.3,273.7 L75.5,273.5 L75.7,273.2 L75.9,273.5 L76.2,273.9 L76.4,273.7 L76.6,273.4 L76.8,273.9 L77.0,274.4 L77.2,274.3 L77.5,273.8 L77.7,273.3 L77.9,273.2 L78.1,273.4 L78.3,273.3 L78.5,272.9 L78.7,272.6 L79.0,272.3 L79.2,271.9 L79.4,271.1 L79.6,270.4 L79.8,270.2 L80.0,270.0 L80.3,270.0 L80.5,270.4 L80.7,271.0 L80.9,271.6 L81.1,272.0 L81.3,272.3 L81.5,272.6 L81.8,273.0 L82.0,273.0 L82.2,273.1 L82.4,273.0 L82.6,272.8 L82.8,272.7 L83.1,273.1 L83.3,273.8 L83.5,273.8 L83.7,273.5 L83.9,273.6 L84.1,273.5 L84.3,273.1 L84.6,273.3 L84.8,273.6 L85.0,273.5 L85.2,273.4 L85.4,273.5 L85.6,273.6 L85.8,273.7 L86.1,273.9 L86.3,273.8 L86.5,273.7 L86.7,273.5 L86.9,273.5 L87.1,273.6 L87.4,273.5 L87.6,273.4 L87.8,273.4 L88.0,273.4 L88.2,273.6 L88.4,273.6 L88.6,273.6 L88.9,273.4 L89.1,273.5 L89.3,273.9 L89.5,274.0 L89.7,274.0 L89.9,273.8 L90.2,273.5 L90.4,273.4 L90.6,273.2 L90.8,273.6 L91.0,274.1 L91.2,273.8 L91.4,273.1 L91.7,272.9 L91.9,273.4 L92.1,273.5 L92.3,273.3 L92.5,273.5 L92.7,273.5 L92.9,273.3 L93.2,273.4 L93.4,273.5 L93.6,273.3 L93.8,273.1 L94.0,273.3 L94.2,273.5 L94.5,273.2 L94.7,273.1 L94.9,273.1 L95.1,273.1 L95.3,272.9 L95.5,272.9 L95.7,273.0 L96.0,272.8 L96.2,272.5 L96.4,272.6 L96.6,272.8 L96.8,272.5 L97.0,271.9 L97.3,271.6 L97.5,271.4 L97.7,271.2 L97.9,270.8 L98.1,270.2 L98.3,269.7 L98.5,269.5 L98.8,269.0 L99.0,268.4 L99.2,267.5 L99.4,266.1 L99.6,264.2 L99.8,261.8 L100.1,258.5 L100.3,254.8 L100.5,250.9 L100.7,249.0 L100.9,250.8 L101.1,254.7 L101.3,258.7 L101.6,261.8 L101.8,263.8 L102.0,265.5 L102.2,266.9 L102.4,268.2 L102.6,269.3 L102.8,269.8 L103.1,270.2 L103.3,270.9 L103.5,271.4 L103.7,271.4 L103.9,271.3 L104.1,271.4 L104.4,271.9 L104.6,272.4 L104.8,272.7 L105.0,272.4 L105.2,272.1 L105.4,272.5 L105.6,272.9 L105.9,272.9 L106.1,273.1 L106.3,273.5 L106.5,273.3 L106.7,272.9 L106.9,272.7 L107.2,272.9 L107.4,273.0 L107.6,273.0 L107.8,273.1 L108.0,273.3 L108.2,273.4 L108.4,273.2 L108.7,272.9 L108.9,272.8 L109.1,272.9 L109.3,272.8 L109.5,272.8 L109.7,273.0 L109.9,273.4 L110.2,273.5 L110.4,273.3 L110.6,273.1 L110.8,273.0 L111.0,273.0 L111.2,273.0 L111.5,273.0 L111.7,273.2 L111.9,273.3 L112.1,273.2 L112.3,273.0 L112.5,272.9 L112.7,273.1 L113.0,273.3 L113.2,273.2 L113.4,273.0 L113.6,272.9 L113.8,273.2 L114.0,273.6 L114.3,273.7 L114.5,273.3 L114.7,272.9 L114.9,273.1 L115.1,273.5 L115.3,273.7 L115.5,273.7 L115.8,273.7 L116.0,273.3 L116.2,273.1 L116.4,273.3 L116.6,273.5 L116.8,273.2 L117.0,272.7 L117.3,272.7 L117.5,273.3 L117.7,273.5 L117.9,273.2 L118.1,273.0 L118.3,272.8 L118.6,272.9 L118.8,273.2 L119.0,273.3 L119.2,273.4 L119.4,273.5 L119.6,273.5 L119.8,273.2 L120.1,272.8 L120.3,273.0 L120.5,273.4 L120.7,273.2 L120.9,272.9 L121.1,273.0 L121.4,273.0 L121.6,272.8 L121.8,272.8 L122.0,272.9 L122.2,273.2 L122.4,273.4 L122.6,273.6 L122.9,273.3 L123.1,273.1 L123.3,273.2 L123.5,273.3 L123.7,273.1 L123.9,272.8 L124.2,273.0 L124.4,273.4 L124.6,273.3 L124.8,273.1 L125.0,273.1 L125.2,273.4 L125.4,273.2 L125.7,273.1 L125.9,273.0 L126.1,272.7 L126.3,272.8 L126.5,273.0 L126.7,272.9 L126.9,272.4 L127.2,272.4 L127.4,272.6 L127.6,272.7 L127.8,272.7 L128.0,272.8 L128.2,273.1 L128.5,273.1 L128.7,272.8 L128.9,272.6 L129.1,272.6 L129.3,272.7 L129.5,272.6 L129.7,272.6 L130.0,272.5 L130.2,272.6 L130.4,273.0 L130.6,273.1 L130.8,272.9 L131.0,272.7 L131.3,272.7 L131.5,272.9 L131.7,273.1 L131.9,272.7 L132.1,272.1 L132.3,272.2 L132.5,272.7 L132.8,272.8 L133.0,272.7 L133.2,272.8 L133.4,272.8 L133.6,272.8 L133.8,272.9 L134.0,272.9 L134.3,272.7 L134.5,272.7 L134.7,272.8 L134.9,272.8 L135.1,272.8 L135.3,272.9 L135.6,272.4 L135.8,271.7 L136.0,271.7 L136.2,272.0 L136.4,272.2 L136.6,272.4 L136.8,272.5 L137.1,272.3 L137.3,272.3 L137.5,272.1 L137.7,272.4 L137.9,272.9 L138.1,272.8 L138.4,272.4 L138.6,272.4 L138.8,272.3 L139.0,272.0 L139.2,272.0 L139.4,272.0 L139.6,272.1 L139.9,272.4 L140.1,272.7 L140.3,272.9 L140.5,272.6 L140.7,272.3 L140.9,272.5 L141.1,272.5 L141.4,272.2 L141.6,272.1 L141.8,272.3 L142.0,272.2 L142.2,271.8 L142.4,271.7 L142.7,272.0 L142.9,272.1 L143.1,271.9 L143.3,271.5 L143.5,271.4 L143.7,271.9 L143.9,272.4 L144.2,272.2 L144.4,271.8 L144.6,271.9 L144.8,271.9 L145.0,271.7 L145.2,271.8 L145.5,272.2 L145.7,272.4 L145.9,272.1 L146.1,271.7 L146.3,271.8 L146.5,272.2 L146.7,272.2 L147.0,272.1 L147.2,272.2 L147.4,271.9 L147.6,271.7 L147.8,271.9 L148.0,272.1 L148.3,271.7 L148.5,271.5 L148.7,271.4 L148.9,271.6 L149.1,271.9 L149.3,271.6 L149.5,271.4 L149.8,271.5 L150.0,271.6 L150.2,271.5 L150.4,271.2 L150.6,271.4 L150.8,271.5 L151.0,271.2 L151.3,271.0 L151.5,271.0 L151.7,271.1 L151.9,271.0 L152.1,270.5 L152.3,270.0 L152.6,270.2 L152.8,270.4 L153.0,270.2 L153.2,270.1 L153.4,270.0 L153.6,269.6 L153.8,268.9 L154.1,268.1 L154.3,267.3 L154.5,266.7 L154.7,266.1 L154.9,265.5 L155.1,264.6 L155.4,263.4 L155.6,262.3 L155.8,261.6 L156.0,261.0 L156.2,260.4 L156.4,260.7 L156.6,261.6 L156.9,262.4 L157.1,263.4 L157.3,264.3 L157.5,265.2 L157.7,266.1 L157.9,267.0 L158.1,267.9 L158.4,268.6 L158.6,268.7 L158.8,268.7 L159.0,269.2 L159.2,269.7 L159.4,270.0 L159.7,270.1 L159.9,269.9 L160.1,269.6 L160.3,269.6 L160.5,269.9 L160.7,270.3 L160.9,270.7 L161.2,271.0 L161.4,270.9 L161.6,270.8 L161.8,270.6 L162.0,270.8 L162.2,270.9 L162.5,270.5 L162.7,270.3 L162.9,270.6 L163.1,270.6 L163.3,270.6 L163.5,270.8 L163.7,270.9 L164.0,270.8 L164.2,270.6 L164.4,270.4 L164.6,270.3 L164.8,270.5 L165.0,270.5 L165.3,270.4 L165.5,270.5 L165.7,270.4 L165.9,270.1 L166.1,270.3 L166.3,270.4 L166.5,270.3 L166.8,270.4 L167.0,270.2 L167.2,270.1 L167.4,270.2 L167.6,270.0 L167.8,269.6 L168.0,269.7 L168.3,270.0 L168.5,270.3 L168.7,270.5 L168.9,270.6 L169.1,270.6 L169.3,270.6 L169.6,270.6 L169.8,270.6 L170.0,270.4 L170.2,270.6 L170.4,270.5 L170.6,270.3 L170.8,270.5 L171.1,270.7 L171.3,270.3 L171.5,270.0 L171.7,270.1 L171.9,270.3 L172.1,270.3 L172.4,270.5 L172.6,270.6 L172.8,270.2 L173.0,269.7 L173.2,269.6 L173.4,269.9 L173.6,270.0 L173.9,269.6 L174.1,269.4 L174.3,269.2 L174.5,268.9 L174.7,268.9 L174.9,268.9 L175.1,268.8 L175.4,268.5 L175.6,268.1 L175.8,267.7 L176.0,267.4 L176.2,267.2 L176.4,266.6 L176.7,265.7 L176.9,265.0 L177.1,264.3 L177.3,263.5 L177.5,262.3 L177.7,261.6 L177.9,261.4 L178.2,261.3 L178.4,261.6 L178.6,262.2 L178.8,262.8 L179.0,263.2 L179.2,263.8 L179.5,264.4 L179.7,264.9 L179.9,265.6 L180.1,266.4 L180.3,267.1 L180.5,267.4 L180.7,267.8 L181.0,267.9 L181.2,267.8 L181.4,268.0 L181.6,268.3 L181.8,268.7 L182.0,269.1 L182.2,269.3 L182.5,269.5 L182.7,269.4 L182.9,269.2 L183.1,269.1 L183.3,269.2 L183.5,269.3 L183.8,269.4 L184.0,269.3 L184.2,269.1 L184.4,269.3 L184.6,269.7 L184.8,269.6 L185.0,269.4 L185.3,269.5 L185.5,269.7 L185.7,269.9 L185.9,270.0 L186.1,269.8 L186.3,269.8 L186.6,269.9 L186.8,270.1 L187.0,270.1 L187.2,269.9 L187.4,269.7 L187.6,269.7 L187.8,269.8 L188.1,269.6 L188.3,269.5 L188.5,269.5 L188.7,269.5 L188.9,269.6 L189.1,269.7 L189.4,269.8 L189.6,269.9 L189.8,269.7 L190.0,269.6 L190.2,269.8 L190.4,269.7 L190.6,269.7 L190.9,269.7 L191.1,269.5 L191.3,269.3 L191.5,269.2 L191.7,269.2 L191.9,269.1 L192.1,269.2 L192.4,269.3 L192.6,269.3 L192.8,269.6 L193.0,269.7 L193.2,269.4 L193.4,269.1 L193.7,269.1 L193.9,269.1 L194.1,269.0 L194.3,269.2 L194.5,269.3 L194.7,268.9 L194.9,268.9 L195.2,269.2 L195.4,269.2 L195.6,269.3 L195.8,269.0 L196.0,268.5 L196.2,268.5 L196.5,268.7 L196.7,268.9 L196.9,269.1 L197.1,268.9 L197.3,268.9 L197.5,269.1 L197.7,268.9 L198.0,268.7 L198.2,268.7 L198.4,268.7 L198.6,268.9 L198.8,269.0 L199.0,269.1 L199.2,269.2 L199.5,269.0 L199.7,268.3 L199.9,268.1 L200.1,268.6 L200.3,268.9 L200.5,268.5 L200.8,268.3 L201.0,268.5 L201.2,268.3 L201.4,268.4 L201.6,268.8 L201.8,268.8 L202.0,268.6 L202.3,268.7 L202.5,268.5 L202.7,268.1 L202.9,267.9 L203.1,267.7 L203.3,267.7 L203.6,267.7 L203.8,267.9 L204.0,267.9 L204.2,267.9 L204.4,268.2 L204.6,268.3 L204.8,268.4 L205.1,268.5 L205.3,268.1 L205.5,267.6 L205.7,267.7 L205.9,268.0 L206.1,268.3 L206.3,268.4 L206.6,268.3 L206.8,268.1 L207.0,268.0 L207.2,267.8 L207.4,268.0 L207.6,268.1 L207.9,267.6 L208.1,267.5 L208.3,267.7 L208.5,267.7 L208.7,267.5 L208.9,267.3 L209.1,267.5 L209.4,267.9 L209.6,268.2 L209.8,268.2 L210.0,267.7 L210.2,267.2 L210.4,267.1 L210.7,267.2 L210.9,267.4 L211.1,267.5 L211.3,267.4 L211.5,267.4 L211.7,267.7 L211.9,267.6 L212.2,267.5 L212.4,267.6 L212.6,267.4 L212.8,267.3 L213.0,267.2 L213.2,267.1 L213.5,267.1 L213.7,267.2 L213.9,267.4 L214.1,267.5 L214.3,267.4 L214.5,267.0 L214.7,266.7 L215.0,266.7 L215.2,266.7 L215.4,266.7 L215.6,266.9 L215.8,266.8 L216.0,266.8 L216.2,266.8 L216.5,266.8 L216.7,266.9 L216.9,266.8 L217.1,266.7 L217.3,266.9 L217.5,266.7 L217.8,266.4 L218.0,266.4 L218.2,266.5 L218.4,266.4 L218.6,266.4 L218.8,266.5 L219.0,266.4 L219.3,266.3 L219.5,266.4 L219.7,266.3 L219.9,266.1 L220.1,266.2 L220.3,266.3 L220.6,266.1 L220.8,265.9 L221.0,265.9 L221.2,266.1 L221.4,266.2 L221.6,266.1 L221.8,266.1 L222.1,266.2 L222.3,266.4 L222.5,266.6 L222.7,266.5 L222.9,266.1 L223.1,265.8 L223.3,265.9 L223.6,266.0 L223.8,265.8 L224.0,265.4 L224.2,264.9 L224.4,265.0 L224.6,265.5 L224.9,265.8 L225.1,265.7 L225.3,265.5 L225.5,265.1 L225.7,264.9 L225.9,265.3 L226.1,265.7 L226.4,265.7 L226.6,265.5 L226.8,265.1 L227.0,264.8 L227.2,265.1 L227.4,265.4 L227.7,265.1 L227.9,264.8 L228.1,265.1 L228.3,265.1 L228.5,264.8 L228.7,264.7 L228.9,264.7 L229.2,264.6 L229.4,264.7 L229.6,264.7 L229.8,264.6 L230.0,264.6 L230.2,264.7 L230.5,264.5 L230.7,264.3 L230.9,264.2 L231.1,264.3 L231.3,264.6 L231.5,264.6 L231.7,264.3 L232.0,264.1 L232.2,264.1 L232.4,264.3 L232.6,264.3 L232.8,264.0 L233.0,263.8 L233.2,263.6 L233.5,263.3 L233.7,263.2 L233.9,263.4 L234.1,263.9 L234.3,264.1 L234.5,263.9 L234.8,263.9 L235.0,263.7 L235.2,263.5 L235.4,263.4 L235.6,263.0 L235.8,262.5 L236.0,262.3 L236.3,262.3 L236.5,262.5 L236.7,262.9 L236.9,262.9 L237.1,262.8 L237.3,262.7 L237.6,262.6 L237.8,262.7 L238.0,262.8 L238.2,262.4 L238.4,262.2 L238.6,262.1 L238.8,262.4 L239.1,262.5 L239.3,262.2 L239.5,262.2 L239.7,262.3 L239.9,262.0 L240.1,261.7 L240.3,261.8 L240.6,262.1 L240.8,262.0 L241.0,261.6 L241.2,261.3 L241.4,261.4 L241.6,261.5 L241.9,261.3 L242.1,261.1 L242.3,261.2 L242.5,261.3 L242.7,261.3 L242.9,260.8 L243.1,260.8 L243.4,261.1 L243.6,260.7 L243.8,260.2 L244.0,260.3 L244.2,260.3 L244.4,260.3 L244.7,260.5 L244.9,260.5 L245.1,260.3 L245.3,260.3 L245.5,260.2 L245.7,259.9 L245.9,259.9 L246.2,260.1 L246.4,259.9 L246.6,259.7 L246.8,259.5 L247.0,259.4 L247.2,259.5 L247.4,259.6 L247.7,259.2 L247.9,259.1 L248.1,259.4 L248.3,259.6 L248.5,259.4 L248.7,259.2 L249.0,259.1 L249.2,259.0 L249.4,258.8 L249.6,258.7 L249.8,258.9 L250.0,258.9 L250.2,258.5 L250.5,258.1 L250.7,258.1 L250.9,258.3 L251.1,258.2 L251.3,257.8 L251.5,257.7 L251.8,258.1 L252.0,258.2 L252.2,257.8 L252.4,257.6 L252.6,257.4 L252.8,257.4 L253.0,257.5 L253.3,257.5 L253.5,257.2 L253.7,257.0 L253.9,257.2 L254.1,257.2 L254.3,257.0 L254.6,256.9 L254.8,256.9 L255.0,256.8 L255.2,256.6 L255.4,256.7 L255.6,256.7 L255.8,256.5 L256.1,256.6 L256.3,256.7 L256.5,256.4 L256.7,256.2 L256.9,256.1 L257.1,256.0 L257.3,255.9 L257.6,256.0 L257.8,255.9 L258.0,255.6 L258.2,255.3 L258.4,255.1 L258.6,255.1 L258.9,255.2 L259.1,254.7 L259.3,254.3 L259.5,254.6 L259.7,254.9 L259.9,255.0 L260.1,254.9 L260.4,254.8 L260.6,254.5 L260.8,254.4 L261.0,254.4 L261.2,254.3 L261.4,254.5 L261.7,254.6 L261.9,254.1 L262.1,253.7 L262.3,253.7 L262.5,253.7 L262.7,253.8 L262.9,253.6 L263.2,253.1 L263.4,253.0 L263.6,253.4 L263.8,253.4 L264.0,253.1 L264.2,253.0 L264.4,252.8 L264.7,252.8 L264.9,252.8 L265.1,252.6 L265.3,252.2 L265.5,251.9 L265.7,252.0 L266.0,252.1 L266.2,251.9 L266.4,251.8 L266.6,252.2 L266.8,252.4 L267.0,251.9 L267.2,251.4 L267.5,251.1 L267.7,251.0 L267.9,251.0 L268.1,251.0 L268.3,251.2 L268.5,251.1 L268.8,250.9 L269.0,250.8 L269.2,250.5 L269.4,250.3 L269.6,250.5 L269.8,250.5 L270.0,250.3 L270.3,250.0 L270.5,249.9 L270.7,250.0 L270.9,249.6 L271.1,249.3 L271.3,249.3 L271.6,249.4" stroke="#ff1ade" stroke-width="2.00"/>
</g>
<rect x="34.6" y="219.5" width="236.8" height="176.5" fill="none" stroke="#8c8c8c" stroke-width="1.1"/>
<g font-size="5.5" text-anchor="end" style="fill:#3a3a3a;stroke:none">
<text x="32.0" y="397.7">0</text>
<text x="32.0" y="368.3">2000</text>
<text x="32.0" y="338.9">4000</text>
<text x="32.0" y="309.5">6000</text>
<text x="32.0" y="280.1">8000</text>
<text x="32.0" y="250.7">10,000</text>
<text x="32.0" y="221.3">12,000</text>
</g>
<g font-size="5.5" text-anchor="middle" style="fill:#3a3a3a;stroke:none">
<text x="56.4" y="404.6">200</text>
<text x="99.4" y="404.6">400</text>
<text x="142.4" y="404.6">600</text>
<text x="185.5" y="404.6">800</text>
<text x="228.5" y="404.6">1000</text>
<text x="271.6" y="404.6">1200</text>
</g>
<text x="153.0" y="419.5" font-size="9.38" text-anchor="middle">Raman Shift (cm<tspan font-size="5.8" dy="-3.6">-1</tspan><tspan dy="3.6">)</tspan></text>
<text transform="translate(9.9,307.8) rotate(-90)" font-size="9.3" text-anchor="middle">Intensity</text>
<rect x="37.1" y="227.2" width="37.0" height="26.2" fill="#fff" stroke="#555" stroke-width="0.6"/>
<line x1="39.8" y1="232.60" x2="50.7" y2="232.60" stroke="#000000" stroke-width="1.57"/>
<text x="53.4" y="234.90" font-size="6.4">SPV-1</text>
<line x1="39.8" y1="240.25" x2="50.7" y2="240.25" stroke="#0a7d1a" stroke-width="1.57"/>
<text x="53.4" y="242.55" font-size="6.4">SPV-2</text>
<line x1="39.8" y1="247.90" x2="50.7" y2="247.90" stroke="#ff22dd" stroke-width="1.57"/>
<text x="53.4" y="250.20" font-size="6.4">SPV-3</text>
<g font-size="8.6" text-anchor="middle">
<text x="101.0" y="244.5">406</text>
<text x="80.9" y="268.5">310</text>
<text x="109.2" y="282.6">406</text>
<text x="80.5" y="336.8">311</text>
<text x="109.2" y="358.2">406</text>
<text x="80.5" y="382.0">311</text>
<text x="155.0" y="257.3">664</text>
<text x="178.0" y="259.1">766</text>
<text x="155.0" y="323.2">665</text>
<text x="177.5" y="323.2">766</text>
<text x="155.0" y="375.6">664</text>
<text x="178.0" y="379.4">766</text>
</g>
</g>
</svg></body></html>
